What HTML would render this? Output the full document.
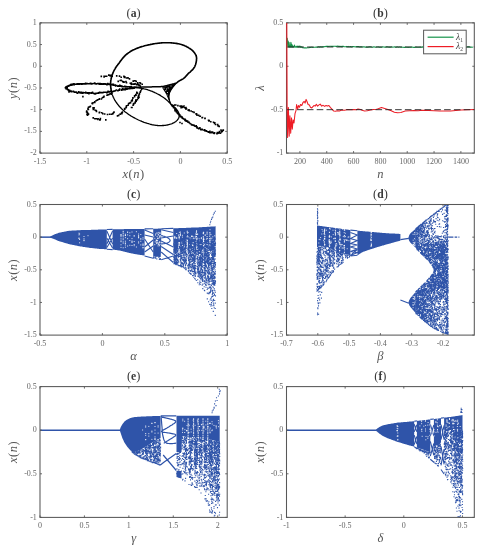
<!DOCTYPE html>
<html><head><meta charset="utf-8"><title>figure</title>
<style>
html,body{margin:0;padding:0;background:#fff}
svg{display:block}
.t{font-family:"Liberation Serif", serif;font-size:8px;fill:#666}
.ti{font-family:"Liberation Serif", serif;font-size:12.4px;fill:#383838}
.xl{font-family:"Liberation Serif", serif;font-size:12.5px;fill:#555}
.sp{letter-spacing:.5px}
.lg{font-family:"Liberation Serif", serif;font-size:9.5px;fill:#444}
.i{font-style:italic}
.b{font-weight:bold;font-size:11.6px}
</style></head><body>
<svg width="487" height="550" viewBox="0 0 487 550">
<rect width="487" height="550" fill="#fff"/>
<rect x="40.00" y="22.85" width="187.20" height="130.25" fill="none" stroke="#585858" stroke-width="1.05"/>
<text x="40.00" y="163.90" text-anchor="middle" class="t">-1.5</text>
<text x="86.80" y="163.90" text-anchor="middle" class="t">-1</text>
<text x="133.60" y="163.90" text-anchor="middle" class="t">-0.5</text>
<text x="180.40" y="163.90" text-anchor="middle" class="t">0</text>
<text x="227.20" y="163.90" text-anchor="middle" class="t">0.5</text>
<text x="36.80" y="24.95" text-anchor="end" class="t">1</text>
<text x="36.80" y="46.66" text-anchor="end" class="t">0.5</text>
<text x="36.80" y="68.37" text-anchor="end" class="t">0</text>
<text x="36.80" y="90.07" text-anchor="end" class="t">-0.5</text>
<text x="36.80" y="111.78" text-anchor="end" class="t">-1</text>
<text x="36.80" y="133.49" text-anchor="end" class="t">-1.5</text>
<text x="36.80" y="155.20" text-anchor="end" class="t">-2</text>
<path d="M40.00 153.10v-2.0M40.00 22.85v2.0M86.80 153.10v-2.0M86.80 22.85v2.0M133.60 153.10v-2.0M133.60 22.85v2.0M180.40 153.10v-2.0M180.40 22.85v2.0M227.20 153.10v-2.0M227.20 22.85v2.0M40.00 22.85h2.0M227.20 22.85h-2.0M40.00 44.56h2.0M227.20 44.56h-2.0M40.00 66.27h2.0M227.20 66.27h-2.0M40.00 87.97h2.0M227.20 87.97h-2.0M40.00 109.68h2.0M227.20 109.68h-2.0M40.00 131.39h2.0M227.20 131.39h-2.0M40.00 153.10h2.0M227.20 153.10h-2.0" stroke="#585858" stroke-width="0.9" fill="none"/>
<text x="133.60" y="16.55" text-anchor="middle" class="ti">(<tspan class="b">a</tspan>)</text>
<text x="133.60" y="177.60" text-anchor="middle" class="xl"><tspan class="sp"><tspan class="i">x</tspan>(<tspan class="i">n</tspan>)</tspan></text>
<text transform="translate(17.30 87.97) rotate(-90)" text-anchor="middle" class="xl"><tspan class="sp"><tspan class="i">y</tspan>(<tspan class="i">n</tspan>)</tspan></text>
<path d="M176.7 82.8 L177.3 82.3 L177.9 81.8 L178.5 81.4 L179.1 81.0 L179.8 80.6 L180.4 80.3 L181.1 79.9 L181.7 79.6 L182.3 79.2 L182.9 78.9 L183.4 78.6 L183.9 78.2 L184.3 77.8 L184.7 77.5 L185.1 77.2 L185.4 76.9 L185.6 76.6 L185.9 76.2 L186.2 75.9 L186.5 75.6 L186.7 75.3 L187.1 74.9 L187.4 74.5 L187.8 74.1 L188.2 73.7 L188.7 73.2 L189.3 72.7 L189.8 72.3 L190.4 71.8 L190.9 71.2 L191.5 70.7 L192.1 70.2 L192.6 69.6 L193.1 69.1 L193.5 68.6 L193.9 68.0 L194.2 67.4 L194.6 66.9 L194.9 66.3 L195.1 65.6 L195.4 65.0 L195.6 64.4 L195.8 63.8 L195.9 63.2 L196.1 62.6 L196.2 62.0 L196.3 61.4 L196.4 60.8 L196.5 60.2 L196.5 59.7 L196.5 59.2 L196.6 58.7 L196.6 58.1 L196.5 57.6 L196.5 57.1 L196.4 56.6 L196.2 56.1 L196.1 55.6 L195.9 55.1 L195.6 54.6 L195.3 54.1 L195.0 53.6 L194.6 53.0 L194.2 52.5 L193.8 52.0 L193.3 51.4 L192.8 50.9 L192.3 50.4 L191.7 49.9 L191.1 49.4 L190.5 49.0 L189.8 48.5 L189.1 48.1 L188.4 47.6 L187.6 47.2 L186.8 46.8 L186.0 46.3 L185.2 46.0 L184.3 45.6 L183.4 45.2 L182.5 44.9 L181.5 44.5 L180.5 44.3 L179.5 44.0 L178.4 43.8 L177.3 43.6 L176.2 43.4 L175.0 43.2 L173.8 43.1 L172.6 43.0 L171.4 42.9 L170.1 42.8 L168.9 42.7 L167.6 42.7 L166.4 42.7 L165.2 42.7 L164.0 42.7 L162.8 42.8 L161.6 42.9 L160.4 43.0 L159.2 43.1 L158.0 43.2 L156.8 43.4 L155.6 43.5 L154.4 43.7 L153.2 43.9 L152.0 44.2 L150.8 44.4 L149.6 44.7 L148.4 44.9 L147.1 45.2 L145.8 45.5 L144.6 45.8 L143.3 46.2 L142.1 46.5 L140.9 46.9 L139.7 47.3 L138.6 47.7 L137.5 48.1 L136.4 48.5 L135.4 48.9 L134.4 49.4 L133.5 49.8 L132.6 50.3 L131.7 50.8 L130.8 51.3 L130.0 51.8 L129.2 52.4 L128.4 52.9 L127.6 53.5 L126.9 54.0 L126.2 54.6 L125.5 55.2 L124.9 55.8 L124.3 56.4 L123.7 57.1 L123.1 57.7 L122.6 58.4 L122.1 59.0 L121.5 59.7 L121.0 60.4 L120.5 61.1 L120.0 61.8 L119.5 62.5 L119.0 63.2 L118.4 63.9 L117.9 64.6 L117.4 65.3 L116.8 66.1 L116.3 66.8 L115.8 67.5 L115.3 68.3 L114.9 69.1 L114.4 69.9 L114.0 70.7 L113.6 71.5 L113.2 72.3 L112.9 73.2 L112.5 74.1 L112.2 75.0 L111.9 75.9 L111.6 76.9 L111.4 77.8 L111.1 78.8 L111.0 79.7 L110.8 80.7 L110.7 81.6 L110.6 82.6 L110.6 83.6 L110.6 84.6 L110.6 85.6 L110.7 86.6 L110.8 87.6 L110.9 88.7 L111.1 89.7 L111.3 90.7 L111.5 91.7 L111.7 92.7 L112.0 93.7 L112.3 94.6" fill="none" stroke="#000" stroke-width="1.65" stroke-linejoin="round"/>
<path d="M112.3 94.6 L112.6 95.5 L113.0 96.4 L113.3 97.3 L113.8 98.1 L114.2 99.0 L114.6 99.8 L115.1 100.6 L115.6 101.4 L116.1 102.2 L116.7 103.0 L117.2 103.7 L117.8 104.5 L118.4 105.2 L119.0 106.0 L119.6 106.7 L120.2 107.3 L120.9 108.0 L121.5 108.7 L122.2 109.3 L122.9 110.0 L123.7 110.6 L124.4 111.2 L125.2 111.9 L126.0 112.5 L126.8 113.1 L127.7 113.8 L128.6 114.4 L129.5 115.0 L130.5 115.6 L131.4 116.2 L132.4 116.8 L133.4 117.4 L134.4 117.9 L135.5 118.5 L136.5 119.0 L137.5 119.5 L138.5 120.0 L139.6 120.5 L140.7 120.9 L141.8 121.4 L142.9 121.8 L144.1 122.3 L145.2 122.7 L146.3 123.0 L147.4 123.4 L148.5 123.7 L149.5 124.0 L150.5 124.3 L151.5 124.5 L152.4 124.8 L153.3 124.9 L154.1 125.1 L155.0 125.2 L155.8 125.3 L156.7 125.4 L157.5 125.5 L158.3 125.6 L159.1 125.6 L160.0 125.6 L160.8 125.6 L161.7 125.6 L162.6 125.5 L163.5 125.5 L164.4 125.4 L165.3 125.3 L166.2 125.1 L167.0 125.0 L167.9 124.8 L168.7 124.6 L169.5 124.4 L170.3 124.2 L171.0 124.0 L171.7 123.8 L172.3 123.5 L172.9 123.2 L173.5 122.9 L174.1 122.6 L174.6 122.3 L175.1 122.0 L175.6 121.7 L176.0 121.3 L176.5 120.9 L176.8 120.6 L177.2 120.2 L177.5 119.8 L177.8 119.4 L178.1 119.0 L178.4 118.6 L178.6 118.2 L178.8 117.7 L179.0 117.3 L179.1 116.9 L179.2 116.4 L179.3 115.9 L179.3 115.5 L179.3 115.0 L179.2 114.5 L179.1 114.0 L178.9 113.5 L178.7 113.0 L178.5 112.5 L178.2 111.9 L177.9 111.4 L177.6 110.9 L177.3 110.4 L176.9 109.9 L176.6 109.4 L176.2 108.9 L175.8 108.5 L175.4 108.0 L174.9 107.6 L174.4 107.3 L173.9 106.9 L173.4 106.5 L172.9 106.2 L172.4 105.8 L172.0 105.4 L171.5 104.9 L171.1 104.5 L170.8 104.0 L170.5 103.5 L170.2 102.9 L170.0 102.3 L169.8 101.7 L169.6 101.1 L169.4 100.4 L169.3 99.8 L169.1 99.1 L169.0 98.5 L169.0 97.9 L168.9 97.3 L168.9 96.7 L168.9 96.1 L168.9 95.6 L169.0 95.1 L169.0 94.6 L169.1 94.1 L169.2 93.6 L169.4 93.1 L169.6 92.6 L169.8 92.1 L170.0 91.6 L170.3 91.1 L170.6 90.5 L171.0 89.9 L171.3 89.3 L171.8 88.6 L172.3 87.9 L172.8 87.2 L173.3 86.6 L173.9 85.9 L174.4 85.2 L175.0 84.5 L175.6 83.9 L176.1 83.3 L176.7 82.8" fill="none" stroke="#000" stroke-width="1.3" stroke-linejoin="round"/>
<path d="M176.5 83L169 85.2L162 87.4L165.5 93L168.5 99.5L170.8 104L168.9 96.7L170.6 90.5Z" fill="#000"/>
<path d="M176.7 82.8 L176.2 83.0 L175.5 83.2 L174.7 83.4 L173.8 83.7 L172.8 84.0 L171.8 84.3 L170.7 84.6 L169.8 84.8 L168.8 85.1 L168.0 85.3 L167.3 85.5 L166.6 85.7 L166.0 85.8 L165.4 86.0 L164.8 86.1 L164.2 86.2 L163.6 86.3 L162.9 86.4 L162.1 86.5 L161.3 86.6 L160.4 86.7 L159.4 86.7 L158.3 86.8 L157.2 86.8 L156.1 86.8 L154.9 86.8 L153.7 86.8 L152.5 86.8 L151.3 86.9 L150.0 86.9 L148.7 86.9 L147.2 87.0 L145.6 87.0 L144.0 87.1 L142.4 87.1 L140.8 87.2 L139.4 87.2 L138.1 87.2 L137.0 87.3 L136.2 87.3" fill="none" stroke="#000" stroke-width="1.5"/>
<path d="M136.0 87.6 L136.6 87.7 L137.4 87.8 L138.4 87.9 L139.4 88.1 L140.6 88.2 L141.7 88.4 L143.0 88.6 L144.2 88.9 L145.3 89.1 L146.4 89.4 L147.4 89.7 L148.5 90.1 L149.6 90.4 L150.6 90.8 L151.7 91.2 L152.7 91.7 L153.8 92.1 L154.8 92.6 L155.8 93.0 L156.7 93.5 L157.6 94.0 L158.5 94.4 L159.4 94.9 L160.3 95.4 L161.1 96.0 L161.9 96.5 L162.7 97.0 L163.5 97.5 L164.3 98.1 L165.0 98.6 L165.7 99.2 L166.4 99.8 L167.2 100.4 L167.9 101.1 L168.5 101.7 L169.1 102.3 L169.7 102.9 L170.2 103.4 L170.7 103.9 L171.0 104.2" fill="none" stroke="#000" stroke-width="1.3"/>
<path d="M65.4 87.7h0M66 88.7h0M66.1 86.9h0M66.4 87.2h0M66.6 88.3h0M66.6 87.1h0M67.1 88.9h0M67.2 87.1h0M67.2 86.7h0M67.3 86.4h0M67.5 89.4h0M68.2 86.1h0M68.3 89.9h0M68.6 90.5h0M68.6 85.9h0M68.8 85.7h0M69 91.9h0M69.4 85.7h0M69.5 85.3h0M69.5 90.6h0M69.6 90.3h0M70.2 91.4h0M70.7 84.6h0M71 85.3h0M71 91.1h0M71.6 84.3h0M71.7 91.6h0M72.1 85h0M72.7 84.3h0M73.2 84h0M73.2 84.6h0M73.4 91.4h0M73.5 91.5h0M73.9 91.8h0M74 83.8h0M74.2 84.7h0M74.6 92.2h0M74.6 92.2h0M74.7 84.2h0M75.2 84.2h0M75.7 84.3h0M76 92.1h0M76.3 92.2h0M76.6 84h0M77.2 93.1h0M77.3 84.1h0M77.6 83.8h0M77.7 83.9h0M78.4 92.6h0M78.7 91.7h0M78.7 84.1h0M79.1 92.8h0M79.4 83.7h0M79.5 84.1h0M80.4 92.2h0M80.5 83.9h0M80.7 92.9h0M81.2 92.2h0M81.2 83.7h0M81.7 92.6h0M81.9 84.2h0M82.1 83.8h0M82.3 93.1h0M82.8 83.9h0M82.9 96.6h0M83.1 92.5h0M83.2 83.8h0M83.4 92.9h0M84.1 84h0M84.1 92.8h0M84.3 83.9h0M85.2 84h0M85.4 84h0M85.6 83.3h0M85.7 92.3h0M85.8 84h0M85.8 93h0M86.1 83.8h0M86.6 111.9h0M86.7 111.1h0M87 114.4h0M87.1 83.5h0M87.2 114.4h0M87.3 112.4h0M87.4 92.8h0M87.5 93.1h0M87.6 115.2h0M87.7 83.8h0M87.8 113.4h0M88 109.3h0M88 108.5h0M88.4 109.5h0M88.5 114.1h0M88.5 107.3h0M88.6 92.9h0M88.6 93.2h0M88.9 93.8h0M89.2 107h0M89.2 83.8h0M89.5 92.9h0M90 83.7h0M90.1 93h0M90.1 106.8h0M90.4 106.2h0M90.4 83.3h0M91.2 93h0M91.4 93.1h0M91.4 83.5h0M91.5 84h0M91.5 83.5h0M91.7 92.9h0M92.1 103.3h0M92.2 83.7h0M92.3 83.7h0M92.5 92.3h0M92.5 103.8h0M92.5 92.7h0M93.1 107.9h0M93.1 102.8h0M93.2 117.8h0M93.3 109.5h0M93.3 118h0M93.4 93.3h0M93.6 109.3h0M93.7 83.5h0M93.9 83.5h0M94.1 107.9h0M94.3 93.6h0M94.7 101.7h0M94.8 102.5h0M94.8 83h0M94.9 118.8h0M95.1 93.9h0M95.2 83.7h0M95.2 110.3h0M95.5 83.7h0M95.7 93.8h0M96 93.2h0M96.1 100.7h0M96.2 84h0M96.2 110.6h0M96.3 118.8h0M96.4 93.3h0M96.5 111.4h0M96.9 83.8h0M97 100.2h0M97.4 93.3h0M97.9 83.5h0M97.9 99.7h0M97.9 119.4h0M98.1 118.7h0M98.1 83.5h0M98.1 93.1h0M98.7 83.6h0M98.9 92.9h0M99.3 99.2h0M99.3 112.6h0M99.4 84.3h0M99.4 98.9h0M99.6 92.4h0M99.6 112.3h0M99.8 119.7h0M99.8 119.9h0M99.9 84.1h0M100.1 83.6h0M100.2 119.6h0M100.3 92.7h0M100.4 118.6h0M100.4 92.5h0M100.9 84.1h0M100.9 92.6h0M101 84.2h0M101.1 83.9h0M101.3 76.4h0M101.4 99h0M101.6 83.8h0M101.7 112.7h0M102 92.5h0M102.2 84.2h0M102.4 97.7h0M102.5 92.8h0M102.8 113.6h0M102.9 84h0M103.1 92.5h0M103.4 97h0M103.5 83.8h0M103.6 97.3h0M103.8 83.9h0M103.8 92.3h0M103.9 84.2h0M104 96.4h0M104.1 76.3h0M104.1 76.9h0M104.7 114h0M105 83.9h0M105.4 92.3h0M105.7 76.3h0M105.8 84.1h0M105.8 119.9h0M105.9 92.2h0M106.1 84h0M106.7 92.3h0M106.7 76.2h0M106.8 92.6h0M106.9 84.7h0M106.9 84.3h0M107 95.3h0M107.4 92.5h0M107.5 114.5h0M107.6 95h0M107.8 83.5h0M107.8 84.4h0M108 91.9h0M108.1 91.2h0M108.2 94.8h0M108.5 84.1h0M108.6 91.9h0M108.8 75.1h0M108.9 84h0M109.1 94.5h0M109.4 91.9h0M109.6 114.3h0M109.9 84.1h0M110 75.6h0M110.1 93.8h0M110.2 91.5h0M110.3 84.8h0M110.4 75.4h0M111.1 75.4h0M111.1 84.6h0M111.3 94.1h0M111.3 84.6h0M111.3 76.5h0M111.4 114.2h0M111.4 90.9h0M111.6 91.7h0M111.6 93.3h0M111.8 84.8h0M112.2 76.2h0M112.5 84.9h0M112.6 91.8h0M112.6 84.4h0M112.7 113.9h0M112.9 84.9h0M113.4 84.2h0M113.4 112.9h0M113.7 91.2h0M113.8 85.2h0M114 112.1h0M114.3 91h0M114.5 91h0M114.9 85.3h0M115.2 85.1h0M115.5 90.8h0M115.6 86h0M116.3 90h0M116.3 85.5h0M116.6 85.5h0M116.7 75.9h0M117.5 115.9h0M117.7 86h0M117.9 86.1h0M117.9 90.6h0M118 90.8h0M118 90.5h0M118.2 81.4h0M118.7 115.4h0M118.8 86h0M119 85.9h0M119.1 90.1h0M119.1 86h0M119.2 89.9h0M119.5 90.1h0M119.5 86.3h0M119.5 76.1h0M119.5 86.2h0M119.7 89h0M119.8 85.4h0M120.2 80.5h0M120.2 114.1h0M120.6 85.9h0M121.1 80.2h0M121.2 77.3h0M121.3 86.1h0M121.6 89.8h0M121.6 113.1h0M121.6 86.4h0M121.7 90.1h0M121.8 113.8h0M122 89.6h0M122 112.9h0M122.3 86.4h0M122.4 86.6h0M122.4 112.1h0M122.4 81.3h0M122.6 88.7h0M123.1 81.9h0M123.4 89.2h0M123.5 86.7h0M123.6 89.5h0M123.7 89.7h0M123.7 82.2h0M123.9 76.4h0M124.3 82h0M124.4 77.5h0M124.4 89h0M124.4 86.8h0M124.6 108.6h0M124.8 86.3h0M124.8 76.9h0M124.8 109.1h0M125.3 86.8h0M125.3 89.7h0M125.5 89.1h0M125.7 86.8h0M125.8 88.6h0M125.9 86.5h0M126 81.6h0M126 107.6h0M126.2 88.8h0M126.3 107.1h0M126.4 86.7h0M126.4 78h0M126.5 105.9h0M126.5 82.8h0M127 89.1h0M127.2 86.7h0M127.3 88.7h0M127.5 87h0M127.7 86.7h0M128 77.9h0M128.1 105.2h0M128.3 86.7h0M128.5 88.8h0M128.6 103.6h0M129.2 86.8h0M129.5 78.9h0M129.6 88.6h0M129.6 103.1h0M129.6 87.1h0M129.7 87.8h0M129.7 88.8h0M130.3 83.3h0M130.6 102.6h0M130.9 86.9h0M131 83.7h0M131 88.4h0M131.3 86.6h0M131.4 83.1h0M131.5 107.5h0M131.5 84.3h0M131.5 101h0M131.6 100.9h0M131.8 87.5h0M132 107.5h0M132.3 99.9h0M132.3 100.8h0M132.3 87.4h0M132.4 87.5h0M132.5 88.4h0M132.6 87.5h0M132.7 88.3h0M132.9 97.9h0M132.9 98.3h0M133.1 105.2h0M133.1 105.2h0M133.2 84.1h0M133.2 81.1h0M133.3 81.2h0M133.3 84h0M133.5 103.6h0M133.5 104.5h0M133.7 87.3h0M133.8 103.8h0M134 88.2h0M134.4 87.2h0M134.4 88h0M134.5 80.8h0M134.5 87.1h0M134.6 96.8h0M134.6 95.8h0M134.7 84.1h0M135 80.8h0M135 87.1h0M135 87.3h0M135.1 102.9h0M135.1 83.8h0M135.3 102.5h0M135.4 101.7h0M135.7 94.6h0M135.8 100.1h0M135.9 87.4h0M135.9 87.5h0M136 95.3h0M136.1 87.2h0M136.2 81.4h0M136.2 101.1h0M136.7 84.6h0M136.7 84.2h0M136.8 92.3h0M136.9 93.4h0M137.4 99.8h0M137.4 93h0M137.5 84.7h0M137.8 82.9h0M138 97.6h0M138.1 98h0M138.2 84.5h0M138.3 98.3h0M138.4 96.1h0M138.7 97.4h0M138.9 95.1h0M139 85.5h0M139 97.1h0M139.5 93.9h0M139.8 85h0M139.9 82.7h0M140.1 92.3h0M140.3 92.1h0M140.4 86.3h0M140.5 83.2h0M140.9 90.7h0M141.6 89.1h0M141.7 89.2h0M142.2 84.2h0M171.6 104.8h0M172.2 105.2h0M172.3 105.5h0M172.4 106.3h0M172.7 105.4h0M173.1 105.7h0M173.3 106h0M173.4 106.9h0M173.5 107.2h0M173.6 107.6h0M173.6 105.9h0M174 107.8h0M174.8 105h0M174.9 109.3h0M175 110.7h0M175 109h0M175.2 105h0M175.4 109h0M175.5 110.5h0M175.8 105h0M176.2 111.7h0M176.2 111.8h0M176.6 110.8h0M177.1 112.3h0M177.4 113.2h0M177.9 105.6h0M178.2 113.9h0M179.2 114.6h0M179.3 114.5h0M179.3 115.7h0M179.9 115.1h0M180 122.5h0M180.1 106.1h0M180.6 106.2h0M180.6 116.8h0M180.6 116.2h0M181 116.5h0M181.1 107.6h0M181.5 117h0M181.8 106h0M182 123.5h0M182.1 117.1h0M182.3 118.3h0M182.4 107.5h0M182.5 117.8h0M183.4 106.9h0M183.5 118.9h0M184 106h0M184.8 120h0M184.8 107.8h0M185.1 119.4h0M185.5 120.1h0M185.5 120.7h0M185.6 120.2h0M185.8 109h0M186 107.5h0M186.3 108.9h0M186.4 121.2h0M186.5 108.9h0M186.8 120.9h0M187.4 121.3h0M187.7 122h0M187.8 121.4h0M188.2 110.3h0M188.7 122.4h0M189 109.9h0M189.1 122.4h0M189.3 110.8h0M190 123.5h0M190.1 123.5h0M191.1 111h0M191.3 124.4h0M191.9 124.9h0M192.6 111.7h0M193 125h0M193.3 125.1h0M194 125.4h0M194.1 112.4h0M194.2 125.5h0M195 126.2h0M196.1 113.9h0M196.2 125.8h0M196.6 126.9h0M196.6 113.9h0M196.6 114.3h0M196.9 126.8h0M197 115.1h0M197.1 127.9h0M198.3 128.3h0M198.7 128.6h0M198.7 115.4h0M199.2 128.5h0M199.9 127.9h0M200 116.3h0M200.3 116.3h0M200.8 129.4h0M201.1 129.7h0M202.1 117.7h0M202.1 129.4h0M202.2 129.7h0M202.5 117.5h0M204 130.1h0M204.3 130.2h0M204.7 129.8h0M204.8 130.6h0M204.9 118.4h0M205.1 118.4h0M206 130.9h0M206.3 130.7h0M206.7 131.3h0M207.7 131.7h0M208.4 131.8h0M208.5 120.3h0M208.8 132.1h0M208.9 120.6h0M209 121h0M209.3 120.6h0M209.9 131.4h0M209.9 132.6h0M210.4 132.6h0M210.8 121.8h0M211.7 132.1h0M212.1 132.4h0M212.1 132.8h0M212.6 132h0M213.5 122.3h0M213.8 133h0M214 133.1h0M214.3 133.5h0M214.5 123.4h0M214.6 132.9h0M214.8 122.7h0M215.6 124.5h0M216.9 133.6h0M217.4 133.4h0M217.4 132.5h0M217.5 133h0M217.7 124.6h0M217.9 133.2h0M218.1 125.9h0M218.9 132.5h0M219.2 126.4h0M219.4 132.9h0M219.5 131.5h0M220.5 133.2h0M221 130h0M221.5 131.6h0M221.6 132h0M222 131h0M222.4 131.3h0M223 130.2h0M223.2 130.3h0M223.3 130.1h0" fill="none" stroke="#000" stroke-width="1.60" stroke-linecap="square"/>
<path d="M164 88.2h0M165.8 90.6h0M166.5 89h0M167 95h0M167.5 92.5h0M168.2 88h0M171 86h0" fill="none" stroke="#fff" stroke-width="0.80" stroke-linecap="square"/>
<rect x="286.50" y="22.85" width="187.80" height="130.25" fill="none" stroke="#585858" stroke-width="1.05"/>
<text x="299.91" y="163.90" text-anchor="middle" class="t">200</text>
<text x="326.74" y="163.90" text-anchor="middle" class="t">400</text>
<text x="353.57" y="163.90" text-anchor="middle" class="t">600</text>
<text x="380.40" y="163.90" text-anchor="middle" class="t">800</text>
<text x="407.23" y="163.90" text-anchor="middle" class="t">1000</text>
<text x="434.06" y="163.90" text-anchor="middle" class="t">1200</text>
<text x="460.89" y="163.90" text-anchor="middle" class="t">1400</text>
<text x="283.30" y="24.95" text-anchor="end" class="t">0.5</text>
<text x="283.30" y="68.37" text-anchor="end" class="t">0</text>
<text x="283.30" y="111.78" text-anchor="end" class="t">-0.5</text>
<text x="283.30" y="155.20" text-anchor="end" class="t">-1</text>
<path d="M299.91 153.10v-2.0M299.91 22.85v2.0M326.74 153.10v-2.0M326.74 22.85v2.0M353.57 153.10v-2.0M353.57 22.85v2.0M380.40 153.10v-2.0M380.40 22.85v2.0M407.23 153.10v-2.0M407.23 22.85v2.0M434.06 153.10v-2.0M434.06 22.85v2.0M460.89 153.10v-2.0M460.89 22.85v2.0M286.50 22.85h2.0M474.30 22.85h-2.0M286.50 66.27h2.0M474.30 66.27h-2.0M286.50 109.68h2.0M474.30 109.68h-2.0M286.50 153.10h2.0M474.30 153.10h-2.0" stroke="#585858" stroke-width="0.9" fill="none"/>
<text x="380.40" y="16.55" text-anchor="middle" class="ti">(<tspan class="b">b</tspan>)</text>
<text x="380.40" y="177.60" text-anchor="middle" class="xl"><tspan class="i">n</tspan></text>
<text transform="translate(264.00 87.97) rotate(-90)" text-anchor="middle" class="xl"><tspan class="i">λ</tspan></text>
<path d="M287.1 37.9 L287.3 38.8 L287.8 47.2 L288.2 41.0 L288.6 47.0 L289.1 42.6 L289.5 47.2 L290.0 45.3 L290.4 47.2 L290.9 42.3 L291.3 47.1 L291.8 44.2 L292.2 47.1 L292.7 45.7 L293.1 47.3 L293.6 46.9 L294.0 47.0 L294.5 45.1 L294.9 47.1 L295.4 46.8 L295.8 47.2 L296.3 46.2 L296.7 47.2 L297.2 46.2 L297.6 47.1 L298.1 46.1 L298.5 47.1 L299.0 46.8 L299.4 47.0 L299.9 45.9 L300.3 47.2 L300.8 46.9 L301.2 47.2 L301.7 46.8 L302.1 47.0 L302.5 47.8 L303.3 47.7 L304.1 47.9 L304.9 47.9 L305.7 47.8 L306.5 48.0 L307.3 47.7 L308.1 47.8 L308.9 47.8 L309.7 47.4 L310.5 47.5 L311.3 47.2 L312.1 47.3 L312.9 47.5 L313.7 47.3 L314.5 47.3 L315.3 47.3 L316.1 46.9 L316.9 47.3 L317.7 47.1 L318.5 46.8 L319.3 47.1 L320.1 46.9 L320.9 46.7 L321.7 47.1 L322.5 46.8 L323.3 46.9 L324.1 46.5 L324.9 46.8 L325.7 46.4 L326.5 46.4 L327.3 46.4 L328.1 46.2 L328.9 46.5 L329.7 46.2 L330.5 46.2 L331.3 46.4 L332.1 46.2 L332.9 46.4 L333.7 46.2 L334.5 46.3 L335.3 46.2 L336.1 46.4 L336.9 46.4 L337.7 46.1 L338.5 46.4 L339.3 46.2 L340.1 46.5 L340.9 46.4 L341.7 46.6 L342.5 46.2 L343.3 46.4 L344.1 46.6 L344.9 46.7 L345.7 46.7 L346.5 46.4 L347.3 46.7 L348.1 46.4 L348.9 46.7 L349.7 46.8 L350.5 46.5 L351.3 46.9 L352.1 46.8 L352.9 46.6 L353.7 46.6 L354.5 46.7 L355.3 46.9 L356.1 46.8 L356.9 46.6 L357.7 46.6 L358.5 46.6 L359.3 47.0 L360.1 46.7 L360.9 46.9 L361.7 46.8 L362.5 47.0 L363.3 46.9 L364.1 46.8 L364.9 47.1 L365.7 47.0 L366.5 47.1 L367.3 47.1 L368.1 47.2 L368.9 46.8 L369.7 46.9 L370.5 46.8 L371.3 47.0 L372.1 47.2 L372.9 47.2 L373.7 46.8 L374.5 46.9 L375.3 47.2 L376.1 47.1 L376.9 47.0 L377.7 47.0 L378.5 46.9 L379.3 47.2 L380.1 47.0 L380.9 47.2 L381.7 47.1 L382.5 46.9 L383.3 47.0 L384.1 46.9 L384.9 47.3 L385.7 47.1 L386.5 46.9 L387.3 46.9 L388.1 47.0 L388.9 47.1 L389.7 47.1 L390.5 47.1 L391.3 47.0 L392.1 46.9 L392.9 47.2 L393.7 47.0 L394.5 46.9 L395.3 47.1 L396.1 47.4 L396.9 46.9 L397.7 47.0 L398.5 47.2 L399.3 47.0 L400.1 47.0 L400.9 47.2 L401.7 47.0 L402.5 47.2 L403.3 47.2 L404.1 47.4 L404.9 47.4 L405.7 47.0 L406.5 47.2 L407.3 47.3 L408.1 47.4 L408.9 47.3 L409.7 47.2 L410.5 47.2 L411.3 47.1 L412.1 47.1 L412.9 47.3 L413.7 47.4 L414.5 47.4 L415.3 47.3 L416.1 47.1 L416.9 47.3 L417.7 47.3 L418.5 47.2 L419.3 47.2 L420.1 47.1 L420.9 47.2 L421.7 47.1 L422.5 46.9 L423.3 47.1 L424.1 47.0 L424.9 47.4 L425.7 47.1 L426.5 47.1 L427.3 47.0 L428.1 47.0 L428.9 47.0 L429.7 46.9 L430.5 46.9 L431.3 47.3 L432.1 47.1 L432.9 47.1 L433.7 47.1 L434.5 47.0 L435.3 46.9 L436.1 46.9 L436.9 47.0 L437.7 47.0 L438.5 47.2 L439.3 47.1 L440.1 47.3 L440.9 47.0 L441.7 47.3 L442.5 47.1 L443.3 46.9 L444.1 46.9 L444.9 47.1 L445.7 47.3 L446.5 47.0 L447.3 47.2 L448.1 47.0 L448.9 47.2 L449.7 46.8 L450.5 47.1 L451.3 47.3 L452.1 46.9 L452.9 46.9 L453.7 46.8 L454.5 46.9 L455.3 46.9 L456.1 47.1 L456.9 46.9 L457.7 47.0 L458.5 46.9 L459.3 47.1 L460.1 47.2 L460.9 47.1 L461.7 46.9 L462.5 47.1 L463.3 47.3 L464.1 47.1 L464.9 46.8 L465.7 47.2 L466.5 47.2 L467.3 46.9 L468.1 46.8 L468.9 46.9 L469.7 47.0 L470.5 47.2 L471.3 47.1 L472.1 47.2 L472.9 46.9" fill="none" stroke="#16934a" stroke-width="1.1" stroke-linejoin="round"/>
<path d="M287.5 46.99H474.3" stroke="#222" stroke-width="0.9" stroke-dasharray="6.6 3.2" fill="none"/>
<path d="M286.8 22.9 L287.1 105.5 L287.6 137.4 L288.4 107.6 L289.2 136.3 L289.9 115.8 L290.7 133.3 L291.5 117.9 L292.3 129.1 L293.1 119.9 L294.0 123.0 L295.0 113.7 L296.0 110.7 L296.6 104.5 L297.7 109.2 L298.5 105.5 L299.5 107.2 L300.5 104.5 L301.8 105.5 L303.0 102.5 L304.2 101.4 L305.1 103.1 L306.1 99.4 L307.1 101.8 L308.1 104.5 L309.4 105.1 L310.4 107.2 L311.8 108.0 L312.9 106.6 L314.1 105.5 L315.3 106.1 L316.3 104.3 L317.6 106.1 L319.0 104.9 L320.2 104.1 L321.7 106.1 L323.1 105.3 L324.6 106.4 L326.0 105.5 L327.4 106.1 L328.9 105.5 L330.5 107.6 L332.4 109.6 L333.8 111.1 L335.4 111.3 L337.5 110.7 L339.5 110.9 L341.6 110.1 L344.7 110.3 L347.8 109.6 L350.8 109.8 L353.9 109.6 L356.4 109.8 L358.0 109.0 L360.5 109.6 L362.1 110.3 L364.6 110.9 L367.3 110.7 L370.3 110.1 L373.4 109.4 L376.5 109.2 L378.2 108.7 L381.5 107.6 L384.7 108.5 L387.9 109.4 L391.2 110.7 L394.4 112.2 L397.6 112.8 L400.9 112.4 L405.2 111.1 L409.5 110.7 L413.8 110.4 L418.1 110.7 L422.4 110.2 L428.9 110.4 L434.3 110.7 L439.7 111.1 L445.1 110.9 L450.5 111.1 L455.9 110.4 L461.2 110.0 L467.7 109.8 L474.2 109.6" fill="none" stroke="#ee1c25" stroke-width="1.05" stroke-linejoin="round"/>
<path d="M287.3 109.68H474.3" stroke="#222" stroke-width="0.9" stroke-dasharray="6.6 3.2" fill="none"/>
<rect x="423.6" y="30.2" width="42.6" height="23.6" fill="#fff" stroke="#585858" stroke-width="1"/>
<path d="M427.6 37.2H453.6" stroke="#16934a" stroke-width="1.2"/>
<path d="M427.6 46.6H453.6" stroke="#ee1c25" stroke-width="1.2"/>
<text x="456" y="40" class="lg"><tspan class="i">λ</tspan><tspan dy="1.6" font-size="5.5">1</tspan></text>
<text x="456" y="49.4" class="lg"><tspan class="i">λ</tspan><tspan dy="1.6" font-size="5.5">2</tspan></text>
<path d="M40.0 237.15H51" stroke="#2f54a9" stroke-width="1.5"/>
<path d="M50.3 236.6 L50.8 236.3 L51.3 236.0 L51.8 235.8 L52.3 235.5 L52.8 235.2 L53.3 235.0 L53.8 234.7 L54.3 234.5 L54.8 234.3 L55.3 234.1 L55.8 233.9 L56.3 233.7 L56.8 233.5 L57.3 233.4 L57.8 233.2 L58.3 233.0 L58.8 232.8 L59.3 232.7 L59.8 232.6 L60.3 232.5 L60.8 232.4 L61.3 232.3 L61.8 232.2 L62.3 232.1 L62.8 232.0 L63.3 231.9 L63.8 231.8 L64.3 231.7 L64.8 231.6 L65.3 231.5 L65.8 231.4 L66.3 231.3 L66.8 231.2 L67.3 231.1 L67.8 231.0 L68.3 230.9 L68.8 230.8 L69.3 230.8 L69.8 230.7 L70.3 230.7 L70.8 230.7 L71.3 230.7 L71.8 230.6 L72.3 230.6 L72.8 230.6 L73.3 230.5 L73.8 230.5 L74.3 230.5 L74.8 230.4 L75.3 230.4 L75.8 230.4 L76.3 230.4 L76.8 230.3 L77.3 230.3 L77.8 230.3 L78.3 230.2 L78.8 230.2 L79.3 230.2 L79.8 230.2 L80.3 230.2 L80.8 230.1 L81.3 230.1 L81.8 230.1 L82.3 230.1 L82.8 230.1 L83.3 230.1 L83.8 230.1 L84.3 230.0 L84.8 230.0 L85.3 230.0 L85.8 230.0 L86.3 230.0 L86.8 230.0 L87.3 230.0 L87.8 229.9 L88.3 229.9 L88.8 229.9 L89.3 229.9 L89.8 229.9 L90.3 229.9 L90.8 229.9 L91.3 229.8 L91.8 229.8 L92.3 229.8 L92.8 229.8 L93.3 229.8 L93.8 229.8 L94.3 229.8 L94.8 229.7 L95.3 229.7 L95.8 229.7 L96.3 229.7 L96.8 229.7 L97.3 229.7 L97.8 229.7 L98.3 229.6 L98.8 229.6 L99.3 229.6 L99.8 229.6 L100.3 229.6 L100.8 229.6 L101.3 229.6 L101.8 229.6 L102.3 229.5 L102.8 229.5 L103.3 229.5 L103.8 229.5 L104.3 229.5 L104.8 229.5 L105.3 229.5 L105.8 229.5 L106.3 229.5 L106.8 229.5 L106.8 249.3 L106.3 249.3 L105.8 249.2 L105.3 249.2 L104.8 249.2 L104.3 249.2 L103.8 249.1 L103.3 249.1 L102.8 249.1 L102.3 249.1 L101.8 249.0 L101.3 249.0 L100.8 249.0 L100.3 248.9 L99.8 248.9 L99.3 248.9 L98.8 248.8 L98.3 248.8 L97.8 248.7 L97.3 248.7 L96.8 248.6 L96.3 248.5 L95.8 248.5 L95.3 248.4 L94.8 248.4 L94.3 248.3 L93.8 248.3 L93.3 248.2 L92.8 248.2 L92.3 248.1 L91.8 248.1 L91.3 248.0 L90.8 248.0 L90.3 247.9 L89.8 247.9 L89.3 247.8 L88.8 247.7 L88.3 247.6 L87.8 247.6 L87.3 247.5 L86.8 247.4 L86.3 247.3 L85.8 247.3 L85.3 247.2 L84.8 247.1 L84.3 247.0 L83.8 246.9 L83.3 246.9 L82.8 246.8 L82.3 246.7 L81.8 246.6 L81.3 246.6 L80.8 246.5 L80.3 246.4 L79.8 246.3 L79.3 246.2 L78.8 246.2 L78.3 246.1 L77.8 246.0 L77.3 245.8 L76.8 245.7 L76.3 245.6 L75.8 245.5 L75.3 245.4 L74.8 245.3 L74.3 245.2 L73.8 245.1 L73.3 245.0 L72.8 244.9 L72.3 244.8 L71.8 244.7 L71.3 244.6 L70.8 244.5 L70.3 244.4 L69.8 244.3 L69.3 244.2 L68.8 244.1 L68.3 243.9 L67.8 243.8 L67.3 243.6 L66.8 243.5 L66.3 243.3 L65.8 243.2 L65.3 243.0 L64.8 242.9 L64.3 242.7 L63.8 242.6 L63.3 242.4 L62.8 242.3 L62.3 242.1 L61.8 242.0 L61.3 241.8 L60.8 241.7 L60.3 241.5 L59.8 241.4 L59.3 241.2 L58.8 241.1 L58.3 240.9 L57.8 240.7 L57.3 240.5 L56.8 240.2 L56.3 240.0 L55.8 239.8 L55.3 239.6 L54.8 239.4 L54.3 239.1 L53.8 238.9 L53.3 238.8 L52.8 238.6 L52.3 238.4 L51.8 238.3 L51.3 238.1 L50.8 237.9 L50.3 237.8 ZM112.6 229.3 L113.1 229.3 L113.6 229.3 L114.1 229.3 L114.6 229.3 L115.1 229.3 L115.6 229.3 L116.1 229.3 L116.6 229.3 L117.1 229.3 L117.6 229.2 L118.1 229.2 L118.6 229.2 L119.1 229.2 L119.6 229.2 L120.1 229.2 L120.6 229.2 L121.1 229.2 L121.6 229.2 L122.1 229.2 L122.6 229.2 L123.1 229.2 L123.6 229.2 L124.1 229.1 L124.6 229.1 L125.1 229.1 L125.6 229.1 L126.1 229.1 L126.6 229.1 L127.1 229.1 L127.6 229.1 L128.1 229.1 L128.6 229.1 L129.1 229.1 L129.6 229.1 L130.1 229.1 L130.6 229.1 L131.1 229.1 L131.6 229.1 L132.1 229.0 L132.6 229.0 L133.1 229.0 L133.6 229.0 L134.1 229.0 L134.6 229.0 L135.1 229.0 L135.6 229.0 L136.1 229.0 L136.6 229.0 L137.1 229.0 L137.6 229.0 L138.1 229.0 L138.6 229.0 L139.1 229.0 L139.6 229.0 L140.1 228.9 L140.6 228.9 L141.1 228.9 L141.6 228.9 L142.1 228.9 L142.6 228.9 L143.1 228.9 L143.6 228.9 L144.1 228.9 L144.6 228.9 L144.6 255.5 L144.1 255.5 L143.6 255.4 L143.1 255.3 L142.6 255.2 L142.1 255.2 L141.6 255.1 L141.1 255.0 L140.6 255.0 L140.1 254.9 L139.6 254.8 L139.1 254.8 L138.6 254.7 L138.1 254.6 L137.6 254.5 L137.1 254.4 L136.6 254.3 L136.1 254.2 L135.6 254.2 L135.1 254.1 L134.6 254.0 L134.1 253.9 L133.6 253.8 L133.1 253.7 L132.6 253.6 L132.1 253.5 L131.6 253.4 L131.1 253.3 L130.6 253.2 L130.1 253.1 L129.6 253.0 L129.1 252.9 L128.6 252.7 L128.1 252.6 L127.6 252.5 L127.1 252.4 L126.6 252.2 L126.1 252.1 L125.6 252.0 L125.1 251.9 L124.6 251.7 L124.1 251.6 L123.6 251.5 L123.1 251.4 L122.6 251.2 L122.1 251.1 L121.6 251.0 L121.1 250.9 L120.6 250.7 L120.1 250.6 L119.6 250.5 L119.1 250.5 L118.6 250.4 L118.1 250.3 L117.6 250.2 L117.1 250.2 L116.6 250.1 L116.1 250.0 L115.6 250.0 L115.1 249.9 L114.6 249.8 L114.1 249.8 L113.6 249.7 L113.1 249.6 L112.6 249.6 ZM153.2 228.7 L153.7 228.7 L154.2 228.7 L154.7 228.7 L155.2 228.7 L155.7 228.7 L156.2 228.7 L156.7 228.7 L157.2 228.7 L157.7 228.7 L158.2 228.6 L158.7 228.6 L159.2 228.6 L159.7 228.6 L160.2 228.6 L160.7 228.6 L161.2 228.6 L161.2 246.6 L160.7 257.0 L160.2 257.0 L159.7 256.9 L159.2 256.9 L158.7 256.9 L158.2 256.8 L157.7 256.8 L157.2 256.8 L156.7 256.7 L156.2 256.7 L155.7 256.7 L155.2 256.6 L154.7 256.6 L154.2 256.6 L153.7 256.5 L153.2 256.5 ZM173.3 228.3 L173.8 228.3 L174.3 228.3 L174.8 228.3 L175.3 228.3 L175.8 228.3 L176.3 228.2 L176.8 228.2 L177.3 228.2 L177.8 228.2 L178.3 228.2 L178.8 228.1 L179.3 228.1 L179.8 228.1 L180.4 228.1 L180.9 228.1 L181.4 228.0 L181.9 228.0 L182.4 228.0 L182.9 228.0 L183.4 228.0 L183.9 227.9 L184.4 227.9 L184.9 227.9 L185.4 227.9 L185.9 227.9 L186.4 227.8 L186.9 227.8 L187.4 227.8 L187.9 227.8 L188.4 227.8 L188.9 227.7 L189.4 227.7 L189.9 227.7 L190.4 227.7 L190.9 227.7 L191.4 227.6 L191.9 227.6 L192.4 227.6 L192.9 227.6 L193.4 227.6 L193.9 227.5 L194.4 227.5 L195.0 227.5 L195.5 227.5 L196.0 227.5 L196.5 227.4 L197.0 227.4 L197.5 227.4 L198.0 227.4 L198.5 227.4 L199.0 227.3 L199.5 227.3 L200.0 227.3 L200.5 227.3 L201.0 227.2 L201.5 227.2 L202.0 227.2 L202.5 227.1 L203.0 227.1 L203.5 227.1 L204.0 227.0 L204.5 227.0 L205.0 227.0 L205.5 226.9 L206.0 226.9 L206.5 226.9 L207.0 226.8 L207.5 226.8 L208.0 226.8 L208.6 226.8 L209.1 226.7 L209.6 226.7 L210.1 226.7 L210.6 226.6 L211.1 226.6 L211.6 226.6 L212.1 226.5 L212.6 226.5 L213.1 226.5 L213.6 226.4 L214.1 226.4 L214.6 226.4 L215.1 226.3 L215.6 226.3 L215.6 238.0 L215.1 238.0 L214.6 238.0 L214.1 238.0 L213.6 238.0 L213.1 238.0 L212.6 238.0 L212.1 238.0 L211.6 238.0 L211.1 238.0 L210.6 238.0 L210.1 238.0 L209.6 238.0 L209.1 238.0 L208.6 238.0 L208.0 238.0 L207.5 238.0 L207.0 238.0 L206.5 238.0 L206.0 238.0 L205.5 238.0 L205.0 238.0 L204.5 238.0 L204.0 238.1 L203.5 238.1 L203.0 238.1 L202.5 238.1 L202.0 238.2 L201.5 238.2 L201.0 238.2 L200.5 238.3 L200.0 238.3 L199.5 238.3 L199.0 238.4 L198.5 238.4 L198.0 238.4 L197.5 238.4 L197.0 238.5 L196.5 238.5 L196.0 238.5 L195.5 238.6 L195.0 238.6 L194.4 238.6 L193.9 238.7 L193.4 238.7 L192.9 238.7 L192.4 238.7 L191.9 238.8 L191.4 238.8 L190.9 238.8 L190.4 238.9 L189.9 238.9 L189.4 238.9 L188.9 238.9 L188.4 239.0 L187.9 239.0 L187.4 239.2 L186.9 239.4 L186.4 239.6 L185.9 239.8 L185.4 240.0 L184.9 240.2 L184.4 240.4 L183.9 240.7 L183.4 240.9 L182.9 241.1 L182.4 241.3 L181.9 241.5 L181.4 241.7 L180.9 241.9 L180.4 242.1 L179.8 242.3 L179.3 242.5 L178.8 242.7 L178.3 242.9 L177.8 243.0 L177.3 243.1 L176.8 243.3 L176.3 243.4 L175.8 243.5 L175.3 243.6 L174.8 243.7 L174.3 243.8 L173.8 243.9 L173.3 244.0 Z" fill="#2f54a9"/>
<path d="M106.8 229.5 L112.6 229.4M106.8 249.3 L112.6 249.6M106.8 231.0 L112.6 244.0M106.8 244.0 L112.6 231.0M106.8 247.5 L112.6 238.0M106.8 238.0 L112.6 248.0M144.6 228.9 L153.2 228.8M144.6 230.0 L153.2 233.5M144.6 239.0 L153.2 252.0M144.6 252.0 L153.2 246.0M144.6 256.0 L153.2 258.3M144.6 247.0 L153.2 240.0M144.6 235.0 L153.2 237.0M161.2 228.7 L173.3 228.4M161.2 229.7 L173.3 232.5M161.2 235.5 L161.7 235.6 L162.3 235.8 L163.1 236.1 L164.0 236.3 L164.9 236.6 L165.8 236.9 L166.6 237.2 L167.2 237.5 L167.8 237.8 L168.3 238.2 L168.8 238.6 L169.3 239.0 L169.6 239.4 L169.9 239.8 L170.1 240.1 L170.2 240.5 L170.1 240.8 L169.9 241.2 L169.6 241.5 L169.3 241.9 L168.8 242.2 L168.3 242.5 L167.8 242.8 L167.2 243.0 L166.6 243.2 L165.8 243.4 L164.9 243.5 L164.0 243.7 L163.1 243.8 L162.3 243.9 L161.7 243.9 L161.2 244.0M161.2 238.0 L173.3 236.0M161.2 246.5 L173.3 254.5M161.2 259.8 L173.3 256.0M161.2 252.0 L173.3 262.5M161.2 241.0 L173.3 247.0" fill="none" stroke="#2f54a9" stroke-width="1.10"/>
<path d="M153.6 257.1h0M153.8 258.3h0M154.9 257.2h0M155.4 258.2h0M155.9 256.9h0M156.8 258.9h0M158.9 257.5h0M159.3 259.2h0M159.8 259.5h0M159.9 258.6h0M160.3 258.6h0M160.4 259.5h0M173.6 244h0M173.7 245.8h0M173.7 254.8h0M173.8 244.9h0M173.8 257.5h0M173.8 253h0M173.8 249.4h0M173.8 256.6h0M173.8 251.2h0M173.8 259.3h0M173.9 261.1h0M173.9 250.3h0M173.9 263.8h0M173.9 246.7h0M174 252.1h0M174 247.6h0M174.2 254.6h0M174.2 252.8h0M174.2 261.8h0M174.2 247.4h0M174.2 246.5h0M174.2 256.4h0M174.2 259.1h0M174.3 249.2h0M174.3 245.6h0M174.3 262.7h0M174.3 251h0M174.3 248.3h0M174.4 243.8h0M174.4 255.5h0M174.4 263.6h0M174.4 257.3h0M174.4 258.2h0M174.6 250.2h0M174.6 260.1h0M174.7 245.7h0M174.7 259.2h0M174.7 247.5h0M174.8 248.4h0M174.9 255.6h0M174.9 246.6h0M174.9 244.8h0M174.9 243.9h0M174.9 261.9h0M175 262.8h0M175 249.3h0M175 253.8h0M175.1 262.4h0M175.1 263.3h0M175.2 251.6h0M175.2 258.8h0M175.2 246.2h0M175.2 248.9h0M175.3 260.6h0M175.3 247.1h0M175.3 259.7h0M175.3 244.4h0M175.4 257h0M175.4 245.3h0M175.4 250.7h0M175.4 253.4h0M175.4 252.5h0M175.4 249.8h0M175.5 248h0M175.5 264.2h0M175.6 249h0M175.6 247.2h0M175.7 246.3h0M175.7 256.2h0M175.7 243.6h0M175.7 244.5h0M175.7 249.9h0M175.8 258h0M175.8 252.6h0M175.8 262.5h0M175.8 253.5h0M175.8 245.4h0M175.9 255.3h0M175.9 257.1h0M175.9 248.1h0M175.9 250.8h0M175.9 251.7h0M175.9 263.4h0M176 258.9h0M176 260.7h0M176.1 245.9h0M176.1 249.5h0M176.1 247.7h0M176.1 245h0M176.2 262.1h0M176.2 259.4h0M176.2 264.8h0M176.3 263h0M176.4 256.7h0M176.4 244.1h0M176.4 257.6h0M176.4 255.8h0M176.4 246.8h0M176.4 254.9h0M176.4 251.3h0M176.5 248.6h0M176.6 243.6h0M176.6 249.9h0M176.7 263.4h0M176.7 261.6h0M176.7 256.2h0M176.7 254.4h0M176.7 264.3h0M176.8 252.6h0M176.8 262.5h0M176.8 248.1h0M176.8 255.3h0M176.9 247.2h0M176.9 246.3h0M176.9 258.9h0M176.9 245.4h0M176.9 259.8h0M177 249h0M177 244.5h0M177.1 262.2h0M177.2 255.9h0M177.2 255h0M177.2 250.5h0M177.2 264h0M177.3 260.4h0M177.3 246h0M177.3 244.2h0M177.4 251.4h0M177.4 246.9h0M177.4 248.7h0M177.4 245.1h0M177.4 259.5h0M177.6 247.6h0M177.7 244h0M177.7 246.7h0M177.8 243.1h0M177.8 259.3h0M177.8 245.8h0M177.9 262.9h0M177.9 253h0M177.9 260.2h0M177.9 255.7h0M177.9 251.2h0M178 264.7h0M178 250.3h0M178 244.9h0M178.1 249.3h0M178.1 262.8h0M178.2 265.5h0M178.2 253.8h0M178.2 261.9h0M178.2 248.4h0M178.2 243.9h0M178.2 257.4h0M178.3 255.6h0M178.4 256.5h0M178.4 261h0M178.4 254.7h0M178.9 265.8h0M178.9 253.2h0M179.2 254.6h0M179.3 246.5h0M179.3 256.4h0M179.6 247.5h0M179.7 248.4h0M179.7 265.5h0M180.1 246.7h0M180.1 250.3h0M180.1 265.6h0M180.1 262h0M180.1 252.1h0M180.1 244.9h0M180.1 254.8h0M180.2 244h0M180.2 243.1h0M180.2 242.2h0M180.2 259.3h0M180.3 249.4h0M180.3 247.6h0M180.3 245.8h0M180.3 266.1h0M180.3 253.9h0M180.4 255.7h0M180.4 256.6h0M180.4 260.2h0M180.7 260.8h0M180.7 249.1h0M180.7 247.3h0M180.8 250.9h0M180.8 258.1h0M180.8 266.2h0M180.8 264.4h0M180.9 241.9h0M180.9 251.8h0M180.9 265.3h0M180.9 253.6h0M180.9 259h0M180.9 244.6h0M181 248.2h0M181 243.7h0M181.1 263.9h0M181.1 253.1h0M181.1 251.3h0M181.2 262.1h0M181.2 255.8h0M181.2 242.3h0M181.2 247.7h0M181.3 248.6h0M181.3 266.6h0M181.3 267h0M181.3 257.6h0M181.3 250.4h0M181.4 254h0M181.4 258.5h0M181.4 263h0M181.5 244.1h0M181.5 265.7h0M181.5 245.9h0M181.6 250.1h0M181.6 244.7h0M181.7 256.4h0M181.7 249.2h0M181.7 253.7h0M181.8 255.5h0M181.8 247.4h0M181.8 243.8h0M181.9 251.9h0M181.9 248.3h0M181.9 251h0M181.9 242h0M181.9 246.5h0M182 257.3h0M182.1 244.7h0M182.1 251.9h0M182.2 253.7h0M182.2 259.1h0M182.2 266.3h0M182.3 252.8h0M182.3 249.2h0M182.3 260h0M182.3 263.6h0M182.3 266.8h0M182.3 246.5h0M182.4 250.1h0M182.4 248.3h0M182.4 262.7h0M182.5 243.8h0M182.5 242h0M182.6 248.8h0M182.6 249.7h0M182.7 257.8h0M182.7 241.6h0M182.7 263.2h0M182.7 247h0M182.7 242.5h0M182.7 250.6h0M182.7 252.4h0M182.8 253.3h0M182.8 247.9h0M182.9 264.1h0M183 244.3h0M183.2 243.5h0M183.2 266.9h0M183.2 249.8h0M183.3 265.1h0M183.3 246.2h0M183.3 250.7h0M183.3 242.6h0M183.3 247.1h0M183.3 260.6h0M183.3 255.2h0M183.4 259.7h0M183.4 244.4h0M183.4 257.9h0M183.5 264.2h0M183.5 248.9h0M183.6 259.5h0M183.6 245.1h0M183.6 265.8h0M183.7 242.4h0M183.7 261.3h0M183.7 244.2h0M183.7 254.1h0M183.7 251.4h0M183.7 252.3h0M183.7 249.6h0M183.8 241.5h0M183.8 267.7h0M183.9 246h0M184 255.9h0M184 264h0M184 243.3h0M184 256.8h0M184.1 263.1h0M184.1 248.7h0M184.1 260.4h0M184.2 242.4h0M184.2 259.5h0M184.2 240.6h0M184.2 246h0M184.3 253.2h0M184.3 252.3h0M184.3 255h0M184.4 247.8h0M184.4 249.6h0M184.4 262.2h0M184.5 257.7h0M184.6 249.4h0M184.7 262.9h0M184.7 268.3h0M184.7 243.1h0M184.8 258.4h0M184.8 240.4h0M184.8 253h0M184.8 242.2h0M184.8 241.3h0M184.8 244h0M184.8 257.5h0M184.9 251.2h0M184.9 250.3h0M184.9 261.1h0M185 252.1h0M185 248.5h0M185 262h0M185.1 258.4h0M185.1 257.5h0M185.1 245.8h0M185.2 244h0M185.2 242.2h0M185.2 254.8h0M185.2 260.2h0M185.2 244.9h0M185.2 243.1h0M185.3 267.4h0M185.3 253h0M185.3 268.8h0M185.3 261.1h0M185.4 240.4h0M185.4 251.2h0M185.4 247.6h0M185.5 252.1h0M185.5 246.7h0M185.5 265.6h0M185.6 265.5h0M185.6 259.2h0M185.7 252h0M185.7 264.6h0M185.7 247.5h0M185.7 249.3h0M185.7 260.1h0M185.8 243.9h0M185.8 242.1h0M185.8 269.6h0M185.8 253.8h0M185.8 246.6h0M185.9 244.8h0M185.9 255.6h0M185.9 261.9h0M185.9 248.4h0M185.9 261h0M186 243h0M186 240.3h0M186 252.9h0M186 263.7h0M186 245.7h0M186.1 250.8h0M186.1 241.8h0M186.2 246.3h0M186.2 243.6h0M186.2 240h0M186.3 242.7h0M186.3 269.7h0M186.3 262.5h0M186.3 248.1h0M186.3 253.5h0M186.4 245.4h0M186.4 240.9h0M186.4 259.8h0M186.4 260.7h0M186.4 256.2h0M186.5 254.4h0M186.5 258h0M186.6 263.6h0M186.8 268.1h0M186.8 256.4h0M186.9 248.3h0M187.2 239.6h0M187.4 254.9h0M187.5 242.3h0M187.6 265.7h0M187.7 241.4h0M187.8 249.5h0M188.1 250.7h0M188.1 239.9h0M188.1 248h0M188.2 245.3h0M188.2 247.1h0M188.2 257.9h0M188.2 240.8h0M188.2 251.6h0M188.2 265.1h0M188.3 270.5h0M188.3 266.9h0M188.3 252.5h0M188.3 248.9h0M188.3 249.8h0M188.4 244.4h0M188.4 239h0M188.4 271.4h0M188.4 253.4h0M188.4 258.8h0M188.4 246.2h0M188.4 242.6h0M188.4 243.5h0M188.5 268.7h0M188.5 260.6h0M188.5 264.2h0M188.6 250.6h0M188.6 245.2h0M188.7 268.6h0M188.7 267.7h0M188.7 265h0M188.7 241.6h0M188.7 256.9h0M188.7 264.1h0M188.7 259.6h0M188.8 255.1h0M188.8 240.7h0M188.8 258.7h0M188.9 242.5h0M188.9 247.9h0M188.9 248.8h0M188.9 239.8h0M188.9 253.3h0M188.9 247h0M189 249.7h0M189 244.3h0M189 243.4h0M189.1 265.4h0M189.1 269h0M189.2 260.9h0M189.2 242.9h0M189.2 242h0M189.2 262.7h0M189.3 246.5h0M189.3 267.2h0M189.3 248.3h0M189.3 247.4h0M189.3 272.9h0M189.3 257.3h0M189.4 243.8h0M189.4 241.1h0M189.4 239.3h0M189.4 245.6h0M189.4 255.5h0M189.4 261.8h0M189.4 259.1h0M189.5 251.9h0M189.6 250.9h0M189.6 263.5h0M189.6 250h0M189.6 259.9h0M189.7 246.4h0M189.7 262.6h0M189.7 270.7h0M189.7 239.2h0M189.7 245.5h0M189.7 252.7h0M189.7 265.3h0M189.7 257.2h0M189.8 266.2h0M189.8 241h0M189.8 264.4h0M189.8 240.1h0M189.9 255.4h0M189.9 241.9h0M189.9 261.7h0M190 256.3h0M190 254.5h0M190.1 241.1h0M190.1 247.4h0M190.1 260h0M190.2 270.8h0M190.2 262.7h0M190.2 240.2h0M190.3 251.9h0M190.3 242.9h0M190.3 242h0M190.3 273.5h0M190.3 264.5h0M190.4 261.8h0M190.4 266.3h0M190.4 243.8h0M190.4 253.7h0M190.4 252.8h0M190.4 246.5h0M190.4 248.3h0M190.4 245.6h0M190.5 259.1h0M190.5 244.7h0M190.6 250.7h0M190.7 240.8h0M190.7 273.2h0M190.7 255.2h0M190.7 244.4h0M190.7 270.5h0M190.7 248h0M190.7 256.1h0M190.8 246.2h0M190.8 267.8h0M190.8 274.2h0M190.8 239.9h0M190.8 271.4h0M190.9 259.7h0M190.9 247.1h0M190.9 266h0M190.9 266.9h0M191 245.3h0M191 257.9h0M191 254.3h0M191.1 241h0M191.1 249.1h0M191.2 250h0M191.2 268h0M191.2 256.3h0M191.2 239.2h0M191.2 243.7h0M191.2 267.1h0M191.2 246.4h0M191.3 259.9h0M191.3 241.9h0M191.3 274.2h0M191.3 248.2h0M191.3 247.3h0M191.3 244.6h0M191.4 252.7h0M191.4 269.8h0M191.4 254.5h0M191.4 242.8h0M191.4 240.1h0M191.4 250.9h0M191.4 245.5h0M191.4 257.2h0M191.5 261.7h0M191.5 255.4h0M191.7 249.9h0M191.7 259.8h0M191.7 247.2h0M191.7 264.3h0M191.7 246.3h0M191.8 250.8h0M191.8 243.6h0M191.8 267h0M191.9 249h0M191.9 239.1h0M191.9 261.6h0M191.9 256.2h0M192 270.6h0M192.1 265.4h0M192.2 267.2h0M192.2 249.2h0M192.2 240.2h0M192.3 260.9h0M192.3 241.1h0M192.3 254.6h0M192.3 251h0M192.3 269h0M192.3 259.1h0M192.3 243.8h0M192.4 239.3h0M192.4 242h0M192.4 253.7h0M192.4 271.7h0M192.4 247.4h0M192.4 263.6h0M192.4 258.2h0M192.4 246.5h0M192.4 255.5h0M192.5 264.5h0M192.5 251.9h0M192.6 249.5h0M192.6 275.6h0M192.6 266.6h0M192.7 242.3h0M192.7 264.8h0M192.7 240.5h0M192.7 257.6h0M192.7 254.9h0M192.8 254h0M192.9 247.7h0M192.9 241.4h0M192.9 261.2h0M193 244.1h0M193.1 259.8h0M193.1 258.9h0M193.2 243.6h0M193.2 248.1h0M193.2 266.1h0M193.2 271.5h0M193.3 267h0M193.3 268.8h0M193.3 247.2h0M193.4 273.3h0M193.4 254.4h0M193.4 260.7h0M193.4 267.9h0M193.4 240h0M193.4 249h0M193.4 251.7h0M193.4 255.3h0M193.5 256.2h0M193.5 241.8h0M193.5 249.9h0M193.5 258h0M193.5 250.8h0M193.5 239.1h0M193.6 275.1h0M193.6 268.8h0M193.6 262.5h0M193.7 246.3h0M193.7 258.9h0M193.8 249h0M193.8 240.9h0M193.8 258h0M193.8 263.4h0M193.8 277.3h0M193.8 240h0M193.8 249.9h0M193.8 267.9h0M193.9 239.1h0M193.9 244.5h0M193.9 248.1h0M193.9 252.6h0M193.9 265.2h0M193.9 267h0M193.9 251.7h0M194 241.8h0M194 245.4h0M194 256.2h0M194.1 257.3h0M194.2 263.6h0M194.2 269.9h0M194.2 248.3h0M194.2 259.1h0M194.2 267.2h0M194.2 240.2h0M194.2 239.3h0M194.3 255.5h0M194.3 261.8h0M194.3 260h0M194.3 271.7h0M194.3 244.7h0M194.4 242.9h0M194.4 251.9h0M194.4 243.8h0M194.4 246.5h0M194.4 245.6h0M194.4 256.4h0M194.4 250.1h0M194.4 252.8h0M194.4 258.2h0M194.4 268.1h0M194.4 270.8h0M194.5 265.4h0M194.5 253.7h0M194.5 260.9h0M194.5 241.1h0M194.6 247.8h0M194.6 262.2h0M194.6 241.5h0M194.7 270.3h0M194.7 265.8h0M194.7 239.7h0M194.7 260.4h0M194.7 252.3h0M194.7 273h0M194.7 243.3h0M194.8 274.8h0M194.8 269.4h0M194.8 250.5h0M194.8 278.5h0M194.8 272.1h0M194.8 259.5h0M194.9 257.7h0M194.9 240.6h0M194.9 266.7h0M194.9 246.9h0M195 268.5h0M195 273.9h0M195 267.6h0M195 254.1h0M195.1 241.3h0M195.1 267.4h0M195.1 242.2h0M195.1 270.1h0M195.2 251.2h0M195.2 243.1h0M195.2 258.4h0M195.2 250.3h0M195.2 246.7h0M195.2 257.5h0M195.2 244.9h0M195.2 275.5h0M195.2 239.5h0M195.2 256.6h0M195.3 276.4h0M195.3 253h0M195.3 261.1h0M195.3 279.2h0M195.3 247.6h0M195.4 248.5h0M195.4 245.8h0M195.4 259.3h0M195.4 271.9h0M195.4 273.7h0M195.4 263.8h0M195.4 244h0M195.4 238.6h0M195.5 252.1h0M195.5 249.4h0M195.5 265.6h0M195.6 244.1h0M195.6 255.8h0M195.7 247.7h0M195.7 265.7h0M195.7 250.4h0M195.7 245.9h0M195.7 249.5h0M195.8 243.2h0M195.8 239.6h0M195.8 245h0M195.8 248.6h0M195.8 252.2h0M195.8 251.3h0M195.8 242.3h0M195.9 238.7h0M195.9 240.5h0M195.9 254.9h0M195.9 272.9h0M195.9 268.4h0M196 273.8h0M196 253.1h0M196.1 246.1h0M196.2 244.3h0M196.3 280.5h0M196.4 253.3h0M196.7 258.3h0M196.7 251.1h0M196.7 250.2h0M196.7 254.7h0M196.8 242.1h0M197 262.8h0M197 259.2h0M197.1 253.8h0M197.1 266.4h0M197.1 241.2h0M197.2 261h0M197.2 251.1h0M197.2 254.7h0M197.2 271.8h0M197.2 244.8h0M197.3 240.3h0M197.3 259.2h0M197.3 256.5h0M197.3 243h0M197.4 252h0M197.4 245.7h0M197.4 248.4h0M197.4 250.2h0M197.4 238.5h0M197.4 258.3h0M197.5 269.1h0M197.5 270h0M197.5 242.1h0M197.6 245.6h0M197.7 263.6h0M197.7 279.8h0M197.7 257.3h0M197.8 267.2h0M197.8 276.2h0M197.8 259.1h0M197.8 268.1h0M197.8 282.7h0M197.8 243.8h0M197.8 262.7h0M197.8 272.6h0M197.8 241.1h0M197.8 264.5h0M197.9 266.3h0M197.9 238.4h0M197.9 250.1h0M197.9 240.2h0M197.9 247.4h0M197.9 246.5h0M197.9 269.9h0M197.9 271.7h0M198 242h0M198 239.3h0M198 269h0M198.1 270.5h0M198.1 261.5h0M198.1 252.5h0M198.2 260.6h0M198.2 242.6h0M198.2 259.7h0M198.2 246.2h0M198.2 239.9h0M198.2 273.2h0M198.2 250.7h0M198.3 254.3h0M198.3 265.1h0M198.3 247.1h0M198.3 275h0M198.3 245.3h0M198.3 267.8h0M198.3 239h0M198.3 243.5h0M198.4 272.3h0M198.4 240.8h0M198.4 248h0M198.5 271.4h0M198.5 255.2h0M198.5 262.4h0M198.5 244.4h0M198.5 253.4h0M198.7 276.8h0M198.7 259.7h0M198.7 268.7h0M198.7 251.6h0M198.7 239h0M198.7 250.7h0M198.7 269.6h0M198.7 252.5h0M198.7 253.4h0M198.8 248.9h0M198.8 244.4h0M198.8 241.7h0M198.8 242.6h0M198.8 267.8h0M198.9 262.4h0M198.9 243.5h0M198.9 257h0M198.9 266h0M198.9 245.3h0M198.9 239.9h0M198.9 263.3h0M198.9 274.1h0M198.9 249.8h0M199 240.8h0M199 248h0M199.2 275.9h0M199.2 265.1h0M199.2 271.4h0M199.2 252.5h0M199.2 257.9h0M199.2 242.6h0M199.3 243.5h0M199.3 274.1h0M199.3 266h0M199.3 262.4h0M199.3 284.7h0M199.3 246.2h0M199.3 259.7h0M199.3 273.2h0M199.3 247.1h0M199.4 239h0M199.4 258.8h0M199.4 264.2h0M199.4 241.7h0M199.4 248h0M199.4 257h0M199.5 277.7h0M199.5 253.4h0M199.5 283.1h0M199.5 250.7h0M199.5 249.8h0M199.6 275.7h0M199.6 272.1h0M199.7 259.5h0M199.7 245.1h0M199.7 261.3h0M199.7 257.7h0M199.8 250.5h0M199.8 258.6h0M199.8 263.1h0M199.8 248.7h0M199.9 266.7h0M199.9 281.1h0M199.9 246.9h0M200.1 260.9h0M200.1 259.1h0M200.2 255.5h0M200.2 240.2h0M200.2 264.5h0M200.2 261.8h0M200.2 270.8h0M200.2 276.2h0M200.2 242.9h0M200.2 273.5h0M200.2 257.3h0M200.2 243.8h0M200.2 245.6h0M200.3 250.1h0M200.3 239.3h0M200.3 265.4h0M200.3 252.8h0M200.3 258.2h0M200.3 271.7h0M200.3 274.4h0M200.4 256.4h0M200.4 260h0M200.4 253.7h0M200.4 242h0M200.5 247.4h0M200.5 241.1h0M200.5 269.9h0M200.5 263.6h0M200.5 251h0M200.5 278.9h0M200.6 251.9h0M200.6 268.1h0M200.6 259.1h0M200.6 284.3h0M200.6 269.9h0M200.7 275.3h0M200.7 263.6h0M200.7 238.4h0M200.7 265.4h0M200.7 262.7h0M200.7 250.1h0M200.7 258.2h0M200.8 253.7h0M200.8 246.5h0M200.8 264.5h0M200.8 252.8h0M200.8 240.2h0M200.8 241.1h0M200.8 272.6h0M200.8 282.5h0M200.8 248.3h0M200.9 278h0M200.9 242h0M200.9 278.9h0M200.9 260.9h0M200.9 249.2h0M200.9 242.9h0M201 239.3h0M201 276.2h0M201.1 257.5h0M201.1 277.3h0M201.1 246.7h0M201.2 275.5h0M201.2 253h0M201.2 262h0M201.2 251.2h0M201.2 239.5h0M201.2 254.8h0M201.3 262.9h0M201.3 249.4h0M201.3 259.3h0M201.3 272.8h0M201.3 250.3h0M201.3 243.1h0M201.3 245.8h0M201.3 241.3h0M201.3 244h0M201.4 266.5h0M201.4 269.2h0M201.4 240.4h0M201.5 263.8h0M201.5 268.3h0M201.6 238.4h0M201.6 274.4h0M201.6 247.4h0M201.6 245.6h0M201.6 257.3h0M201.6 269h0M201.7 248.3h0M201.7 265.4h0M201.8 250.1h0M201.8 243.8h0M201.8 267.2h0M201.8 258.2h0M201.8 241.1h0M201.9 271.7h0M201.9 269.9h0M201.9 242.9h0M201.9 260.9h0M201.9 277.1h0M201.9 249.2h0M201.9 266.3h0M201.9 242h0M202 264.5h0M202 246.5h0M202 239.3h0M202 261.8h0M202 253.7h0M202 256.4h0M202 255.5h0M202.1 239.4h0M202.1 252h0M202.1 279.9h0M202.1 278.1h0M202.2 285.3h0M202.2 272.7h0M202.2 270.9h0M202.2 260.1h0M202.3 276.3h0M202.3 263.7h0M202.3 254.7h0M202.3 258.3h0M202.3 255.6h0M202.3 267.3h0M202.3 248.4h0M202.4 246.6h0M202.4 245.7h0M202.4 270h0M202.4 244.8h0M202.4 280.8h0M202.4 238.5h0M202.4 241.2h0M202.4 259.2h0M202.4 247.5h0M202.4 253.8h0M202.5 261.9h0M202.5 271.8h0M202.6 266.1h0M202.6 238.2h0M202.6 256.2h0M202.6 278.7h0M202.7 276.9h0M202.7 262.5h0M202.7 240h0M202.7 240.9h0M202.7 269.7h0M202.7 281.4h0M202.7 258.9h0M202.7 272.4h0M202.7 241.8h0M202.7 255.3h0M202.7 243.6h0M202.8 253.5h0M202.8 270.6h0M202.8 244.5h0M202.8 249h0M202.8 288.6h0M202.9 273.3h0M202.9 275.1h0M202.9 251.7h0M202.9 258h0M202.9 279.6h0M202.9 284.1h0M203 248.1h0M203 260.7h0M203 257.1h0M203.1 272.2h0M203.3 242.5h0M203.3 275.8h0M203.3 256.9h0M203.4 247h0M203.4 259.6h0M203.4 244.3h0M203.6 262.8h0M203.7 247.5h0M203.7 250.2h0M203.8 265.5h0M203.8 267.3h0M203.9 272.7h0M204.1 255.3h0M204.1 238.2h0M204.1 275.1h0M204.1 249h0M204.1 267.9h0M204.1 254.4h0M204.2 246.3h0M204.2 280.5h0M204.2 252.6h0M204.2 256.2h0M204.2 243.6h0M204.2 268.8h0M204.2 277.8h0M204.2 281.4h0M204.2 286.8h0M204.2 251.7h0M204.3 240.9h0M204.3 242.7h0M204.3 274.2h0M204.4 263.4h0M204.4 248.1h0M204.4 283.2h0M204.4 260.7h0M204.4 262.5h0M204.4 290.4h0M204.4 241.8h0M204.5 272.4h0M204.5 258.9h0M204.5 250.8h0M204.5 240h0M204.6 258.3h0M204.6 254.7h0M204.6 253.8h0M204.6 257.4h0M204.6 268.2h0M204.7 261.9h0M204.7 249.3h0M204.7 260.1h0M204.7 290.7h0M204.7 242.1h0M204.7 265.5h0M204.7 273.6h0M204.7 245.7h0M204.7 259.2h0M204.7 270.9h0M204.8 269.1h0M204.8 270h0M204.8 246.6h0M204.8 248.4h0M204.9 263.7h0M204.9 267.3h0M204.9 240.3h0M204.9 264.6h0M204.9 278.1h0M204.9 281.7h0M205 238.5h0M205 255.6h0M205 250.2h0M205 243h0M205.1 251.1h0M205.1 238.5h0M205.1 275.4h0M205.1 268.2h0M205.2 257.4h0M205.2 254.7h0M205.2 261.9h0M205.2 266.4h0M205.2 261h0M205.3 262.8h0M205.3 276.3h0M205.3 244.8h0M205.3 239.4h0M205.4 241.2h0M205.4 277.2h0M205.4 284.4h0M205.4 248.4h0M205.4 263.7h0M205.4 279h0M205.4 270.9h0M205.4 242.1h0M205.4 272.7h0M205.4 265.5h0M205.4 243h0M205.4 258.3h0M205.5 273.6h0M205.5 249.3h0M205.5 255.6h0M205.5 246.6h0M205.6 253h0M205.6 268.3h0M205.6 242.2h0M205.6 252.1h0M205.7 282.7h0M205.7 240.4h0M205.7 255.7h0M205.7 253.9h0M205.7 250.3h0M205.7 238.6h0M205.7 251.2h0M205.8 264.7h0M205.8 244h0M205.8 270.1h0M205.8 266.5h0M205.8 244.9h0M205.8 274.6h0M205.8 261.1h0M205.9 273.7h0M205.9 280.9h0M205.9 259.3h0M205.9 285.4h0M205.9 245.8h0M205.9 257.5h0M205.9 277.3h0M206 249.4h0M206 287.2h0M206.1 241.1h0M206.1 256.4h0M206.1 271.7h0M206.2 262.7h0M206.2 261.8h0M206.2 260.9h0M206.3 247.4h0M206.3 251.9h0M206.3 246.5h0M206.3 251h0M206.3 265.4h0M206.4 278.9h0M206.4 260h0M206.4 267.2h0M206.4 240.2h0M206.4 280.7h0M206.4 254.6h0M206.4 266.3h0M206.4 242.9h0M206.4 279.8h0M206.4 253.7h0M206.5 242h0M206.5 238.4h0M206.5 245.6h0M206.5 255.5h0M206.6 249h0M206.6 285h0M206.7 258h0M206.7 241.8h0M206.7 278.7h0M206.8 238.2h0M206.8 243.6h0M206.8 270.6h0M206.8 282.3h0M206.9 246.3h0M206.9 253.5h0M206.9 250.8h0M206.9 247.2h0M207.1 254.4h0M207.1 270.6h0M207.1 245.4h0M207.1 283.2h0M207.1 240.9h0M207.2 256.2h0M207.2 239.1h0M207.2 240h0M207.2 289.5h0M207.2 255.3h0M207.3 238.2h0M207.3 258h0M207.3 298.9h0M207.3 246.3h0M207.3 293.1h0M207.3 261.6h0M207.4 251.7h0M207.4 253.5h0M207.4 272.4h0M207.4 248.1h0M207.4 249.9h0M207.4 252.6h0M207.4 263.4h0M207.4 268.8h0M207.4 267.9h0M207.4 262.5h0M207.5 260.7h0M207.5 258.9h0M207.5 278.7h0M207.5 259.8h0M207.5 241.8h0M207.5 243.6h0M207.6 276.4h0M207.6 277.3h0M207.7 263.8h0M207.7 256.6h0M207.7 241.3h0M207.7 238.6h0M207.7 288.1h0M207.8 260.2h0M207.8 250.3h0M207.8 253h0M207.8 245.8h0M207.8 247.6h0M207.8 268.3h0M207.8 280.9h0M207.8 271.9h0M207.8 275.5h0M207.8 258.4h0M207.9 273.7h0M207.9 242.2h0M207.9 243.1h0M207.9 246.7h0M207.9 269.2h0M207.9 259.3h0M207.9 240.4h0M208 272.8h0M208.1 259.6h0M208.1 262.3h0M208.1 275.8h0M208.2 255.1h0M208.2 256.9h0M208.2 256h0M208.2 240.7h0M208.2 280.3h0M208.2 243.4h0M208.2 238.9h0M208.2 257.8h0M208.2 241.6h0M208.3 242.5h0M208.3 238h0M208.3 264.1h0M208.3 293.8h0M208.3 274h0M208.3 266.8h0M208.4 265h0M208.4 248.8h0M208.4 247.9h0M208.4 261.4h0M208.4 277.6h0M208.4 273.1h0M208.4 284.8h0M208.4 253.3h0M208.4 265.9h0M208.4 279.4h0M208.5 270.4h0M208.5 263.2h0M208.5 244.3h0M208.5 258.7h0M208.5 271.3h0M208.5 239.8h0M208.6 239.7h0M208.6 301.8h0M208.6 266.7h0M208.6 252.3h0M208.7 261.3h0M208.7 238.8h0M208.7 276.6h0M208.7 246h0M208.7 260.4h0M208.7 263.1h0M208.8 278.4h0M208.8 282.9h0M208.8 247.8h0M208.8 254.1h0M208.8 241.5h0M208.8 256.8h0M208.8 280.2h0M208.8 265.8h0M208.8 264h0M208.8 255h0M208.9 267.6h0M208.9 281.1h0M208.9 257.7h0M208.9 240.6h0M208.9 250.5h0M208.9 288.3h0M209 244.2h0M209 293.7h0M209 245.1h0M209.1 293.3h0M209.1 241.1h0M209.1 274.4h0M209.1 280.7h0M209.1 260.9h0M209.1 255.5h0M209.2 250.1h0M209.2 242.9h0M209.2 292.4h0M209.2 284.3h0M209.2 279.8h0M209.2 258.2h0M209.3 272.6h0M209.3 247.4h0M209.3 267.2h0M209.3 243.8h0M209.3 249.2h0M209.3 269h0M209.3 269.9h0M209.3 246.5h0M209.3 265.4h0M209.3 254.6h0M209.4 281.6h0M209.4 287h0M209.4 248.3h0M209.4 278.9h0M209.4 271.7h0M209.4 263.6h0M209.4 262.7h0M209.5 273.5h0M209.5 239.3h0M209.5 259.1h0M209.5 240.2h0M209.5 252.8h0M209.5 257.3h0M209.7 263.2h0M209.8 224.8h0M209.8 304.4h0M209.8 247.9h0M209.8 259.6h0M209.8 287.5h0M209.8 284.8h0M209.8 262.3h0M209.9 264.1h0M209.9 278.5h0M210.1 243.3h0M210.2 300h0M210.2 278.4h0M210.2 249.6h0M210.2 238.8h0M210.2 284.7h0M210.2 263.1h0M210.3 242.4h0M210.3 292.8h0M210.3 277.5h0M210.3 246h0M210.4 222.8h0M210.4 291.9h0M210.4 259.5h0M210.4 253.2h0M210.4 273h0M210.5 250.5h0M210.5 244.2h0M210.6 264.4h0M210.6 251.8h0M210.6 247.3h0M210.6 239.2h0M210.7 287.8h0M210.7 286.9h0M210.7 276.1h0M210.7 249.1h0M210.7 274.3h0M210.7 290.5h0M210.7 277h0M210.7 221.2h0M210.7 291.4h0M210.8 268h0M210.8 275.2h0M210.8 238.3h0M210.8 240.1h0M210.8 270.7h0M210.8 258.1h0M210.8 279.7h0M210.8 289.6h0M210.8 306h0M210.8 243.7h0M210.8 248.2h0M210.8 259h0M210.8 241.9h0M210.8 261.7h0M210.9 259.9h0M210.9 298.6h0M210.9 246.4h0M210.9 262.6h0M210.9 244.6h0M210.9 265.3h0M210.9 266.2h0M210.9 281.5h0M211 241h0M211 288.7h0M211 263.5h0M211.1 247.7h0M211.1 240.5h0M211.1 249.5h0M211.1 269.3h0M211.1 261.2h0M211.2 276.5h0M211.2 246.8h0M211.2 250.4h0M211.2 281h0M211.2 304.4h0M211.2 245.9h0M211.3 243.2h0M211.3 242.3h0M211.3 288.2h0M211.3 278.3h0M211.3 241.4h0M211.3 245h0M211.3 239.6h0M211.3 248.6h0M211.4 297.2h0M211.4 257.6h0M211.4 275.6h0M211.4 264.8h0M211.4 285.5h0M211.5 272.9h0M211.5 244.1h0M211.5 277.4h0M211.5 263h0M211.5 302.6h0M211.5 254.9h0M211.5 268.4h0M211.5 219.4h0M211.6 240h0M211.6 241.8h0M211.6 268.8h0M211.6 244.5h0M211.6 255.3h0M211.6 239.1h0M211.7 263.4h0M211.7 245.4h0M211.7 260.7h0M211.7 273.3h0M211.7 266.1h0M211.7 300.3h0M211.7 242.7h0M211.8 272.4h0M211.8 267.9h0M211.8 267h0M211.8 249h0M211.8 243.6h0M211.8 246.3h0M211.8 308.5h0M211.8 284.1h0M211.8 248.1h0M211.8 275.1h0M211.9 277.8h0M211.9 296.7h0M211.9 252.6h0M211.9 253.5h0M211.9 249.9h0M211.9 261.6h0M212 270.6h0M212 276.9h0M212 305.7h0M212.1 247.9h0M212.1 254.2h0M212.1 217.9h0M212.2 294.7h0M212.2 247h0M212.2 275.8h0M212.2 278.5h0M212.2 261.4h0M212.2 279.4h0M212.2 259.6h0M212.2 258.7h0M212.2 272.2h0M212.2 290.2h0M212.2 274h0M212.3 245.2h0M212.3 269.5h0M212.3 271.3h0M212.3 241.6h0M212.3 253.3h0M212.3 249.7h0M212.3 267.7h0M212.3 291.1h0M212.3 281.2h0M212.3 252.4h0M212.3 270.4h0M212.3 238.9h0M212.3 244.3h0M212.3 280.3h0M212.4 251.5h0M212.4 256h0M212.4 283h0M212.4 248.8h0M212.4 296.5h0M212.4 257.8h0M212.5 293.8h0M212.5 256.9h0M212.6 249h0M212.7 242.7h0M212.7 293.1h0M212.7 239.1h0M212.7 254.4h0M212.7 253.5h0M212.7 255.3h0M212.8 249.9h0M212.8 257.1h0M212.8 278.7h0M212.8 268.8h0M212.8 258.9h0M212.8 256.2h0M212.8 217h0M212.8 292.2h0M212.8 240.9h0M212.8 240h0M212.8 301.2h0M212.8 276.9h0M212.8 274.2h0M212.8 286.8h0M212.8 241.8h0M212.9 246.3h0M212.9 290.4h0M212.9 258h0M212.9 267.9h0M212.9 265.2h0M212.9 250.8h0M212.9 248.1h0M212.9 244.5h0M212.9 263.4h0M212.9 245.4h0M213 276h0M213 284.1h0M213.2 250h0M213.2 248.2h0M213.2 293.2h0M213.2 261.7h0M213.2 295.9h0M213.2 259.9h0M213.2 257.2h0M213.2 274.3h0M213.2 247.3h0M213.2 239.2h0M213.2 244.6h0M213.3 278.8h0M213.3 258.1h0M213.3 269.8h0M213.3 277.9h0M213.3 281.5h0M213.3 311.4h0M213.3 282.4h0M213.3 238.3h0M213.3 283.3h0M213.3 267.1h0M213.3 243.7h0M213.3 287.8h0M213.4 303.1h0M213.4 249.1h0M213.4 275.2h0M213.4 300.4h0M213.4 242.8h0M213.4 299.5h0M213.4 263.5h0M213.4 214.8h0M213.4 268h0M213.5 246.4h0M213.5 284.2h0M213.5 254.5h0M213.5 280.6h0M213.5 271.6h0M213.6 275h0M213.6 275.9h0M213.6 299.3h0M213.6 241.7h0M213.6 284h0M213.7 252.5h0M213.7 251.6h0M213.7 284.9h0M213.7 304.7h0M213.7 239h0M213.8 264.2h0M213.8 258.8h0M213.8 254.3h0M213.8 263.3h0M213.8 256.1h0M213.8 249.8h0M213.8 257.9h0M213.8 243.5h0M213.8 293h0M213.8 305.6h0M213.8 253.4h0M213.8 266h0M213.8 272.3h0M213.9 278.6h0M213.9 265.1h0M213.9 266.9h0M213.9 255.2h0M213.9 238.1h0M213.9 246.2h0M213.9 245.3h0M214 247.1h0M214 240.8h0M214.1 213.2h0M214.1 259.2h0M214.1 274.5h0M214.1 254.7h0M214.2 273.6h0M214.2 307.8h0M214.2 248.4h0M214.2 279h0M214.2 260.1h0M214.2 251.1h0M214.2 261h0M214.2 239.4h0M214.3 276.3h0M214.3 261.9h0M214.3 283.5h0M214.3 243.9h0M214.3 282.6h0M214.3 266.4h0M214.3 278.1h0M214.3 241.2h0M214.3 272.7h0M214.4 252h0M214.4 268.2h0M214.4 288.9h0M214.4 295.2h0M214.4 212.8h0M214.4 262.8h0M214.4 285.3h0M214.4 240.3h0M214.5 244.8h0M214.5 280.8h0M214.5 238.5h0M214.5 294.3h0M214.5 255.6h0M214.5 247.5h0M214.5 277.2h0M214.6 253.7h0M214.7 251h0M214.7 266.3h0M214.7 284.3h0M214.7 300.5h0M214.7 240.2h0M214.7 248.3h0M214.7 241.1h0M214.8 244.7h0M214.8 255.5h0M214.8 238.4h0M214.8 285.2h0M214.8 239.3h0M214.8 252.8h0M214.8 262.7h0M214.8 290.6h0M214.8 283.4h0M214.8 250.1h0M214.8 256.4h0M214.8 243.8h0M214.9 242h0M214.9 263.6h0M214.9 254.6h0M214.9 242.9h0M214.9 276.2h0M214.9 249.2h0M214.9 245.6h0M214.9 281.6h0M215 251.9h0M215 269.9h0M215.1 255.4h0M215.1 256.3h0M215.1 241h0M215.2 308.5h0M215.2 280.6h0M215.2 252.7h0M215.2 282.4h0M215.2 267.1h0M215.2 238.3h0M215.2 273.4h0M215.2 244.6h0M215.2 303.1h0M215.3 271.6h0M215.3 277.9h0M215.3 211.2h0M215.3 283.3h0M215.3 315.4h0M215.3 254.5h0M215.3 247.3h0M215.3 274.3h0M215.3 259h0M215.3 245.5h0M215.4 249.1h0M215.4 242.8h0M215.4 264.4h0M215.4 265.3h0M215.4 239.2h0M215.4 292.3h0M215.4 253.6h0M215.5 250.9h0M215.5 295.9h0M215.5 281.5h0M215.5 262.6h0M215.5 243.7h0" fill="none" stroke="#2f54a9" stroke-width="1.10" stroke-linecap="square"/>
<path d="M79 233.2h0M79 234.9h0M79 238.2h0M79 238.3h0M79.6 234h0M79.6 239.5h0M79.6 242.8h0M84 236.5h0M84 238.8h0M84 240.2h0M84 240.7h0M88 235.7h0M121 234.6h0M121 234.9h0M121 235.6h0M121 236.7h0M121 238.9h0M121 240.9h0M121 241.7h0M121 244.8h0M121 247.4h0M123.2 231.3h0M123.2 232h0M123.2 233.6h0M123.2 235.2h0M123.2 236.2h0M123.2 238.2h0M123.2 239.7h0M123.2 241.9h0M123.2 243.2h0M123.2 247.8h0M125.4 234.2h0M125.4 235.1h0M125.4 235.4h0M125.4 235.6h0M125.4 237.7h0M125.4 241.2h0M125.4 243h0M125.4 243.4h0M125.4 245h0M125.4 247.2h0M127.6 232.2h0M127.6 232.2h0M127.6 234.9h0M127.6 238.7h0M127.6 246h0M129.8 232.8h0M129.8 235.7h0M129.8 240.5h0M129.8 245.3h0M132 232h0M132 238.6h0M132 241h0M132 241.9h0M132 242.3h0M132 245.5h0M134.2 235.8h0M134.2 236h0M134.2 241.5h0M134.2 244.5h0M134.2 245.7h0M136.4 231.7h0M136.4 247h0M138.6 234h0M138.6 235.6h0M138.6 236.6h0M138.6 237.6h0M138.6 237.8h0M138.6 241.9h0M138.6 243h0M140.8 234.5h0M140.8 238.9h0M140.8 239h0M140.8 241.3h0M140.8 244.9h0M143 237.8h0M143 239.2h0M143 243.9h0M143 244.7h0M143 245.4h0M143 247.4h0M143 247.9h0M153.7 236.2h0M154.8 238.3h0M154.8 244.7h0M155.2 241.8h0M155.5 235h0M155.8 233.9h0M156.3 240.2h0M156.3 240.2h0M156.3 242.3h0M156.5 240.8h0M156.6 243.3h0M156.8 233h0M157.1 236.4h0M157.1 243.7h0M157.1 240.6h0M157.4 242.3h0M157.6 240.7h0M157.7 238.2h0M157.8 238.7h0M157.9 233.1h0M158.1 245.9h0M158.2 238.2h0M158.3 234.8h0M158.3 234.8h0M158.4 244.6h0M158.5 243.1h0M158.9 232.4h0M159.1 244.1h0M159.5 233.2h0M159.5 245.7h0M159.5 242h0M159.7 237.8h0M159.8 242.2h0M159.8 236.6h0M159.9 242.3h0M160 244.3h0M160 236.9h0M160 235.6h0M160.3 235.9h0M160.6 233.1h0M174.8 236.4h0M174.8 237h0M174.8 237.7h0M174.8 237.8h0M174.8 238.1h0M176.7 233.5h0M176.7 237.6h0M176.7 238.5h0M178.6 235.2h0M179 242.6h0M179.1 236.7h0M179.2 238.8h0M179.2 237.7h0M179.2 234.9h0M179.2 237.2h0M179.3 237.1h0M179.3 242.6h0M179.4 232.3h0M180.5 232.1h0M180.5 233.9h0M180.5 234.3h0M180.5 235.6h0M182.4 235.3h0M182.4 237.1h0M184.3 233h0M187.1 236.8h0M187.2 240h0M187.2 232.1h0M187.3 242.4h0M187.3 240.5h0M187.3 231.2h0M187.3 242h0M187.5 235.9h0M187.5 233.1h0M188.1 232.6h0M188.1 236.9h0M190 237.9h0M191.9 235.9h0M191.9 236.4h0M191.9 236.4h0M191.9 236.6h0M193.8 237h0M193.8 238.6h0M195.7 234h0M195.7 236.3h0M195.7 237.9h0M196.3 232.1h0M196.4 236.7h0M196.4 238.8h0M196.4 234.3h0M196.5 236.6h0M196.5 234.6h0M196.5 232.9h0M196.5 230.9h0M196.6 231.2h0M197.6 234.2h0M197.6 234.2h0M197.6 238.2h0M201.4 237.7h0M201.4 238.6h0M203.3 232.9h0M203.3 233.5h0M203.3 236.5h0M203.3 237.9h0M203.4 232.3h0M203.4 239.5h0M203.4 233.8h0M203.5 241h0M203.5 241.1h0M203.6 238.1h0M203.6 241.7h0M203.7 232.4h0M203.7 241.5h0M205.2 234.8h0M205.2 235.4h0M207.1 232.1h0M207.1 233h0M207.1 234.2h0M207.1 236.5h0M207.1 238.3h0M207.1 238.6h0M209.7 240.7h0M209.7 236.3h0M209.8 234.9h0M209.8 232.7h0M209.8 238.7h0M209.9 240.2h0M210 229.7h0M210 233h0M210.1 242.6h0M210.9 234.6h0M210.9 238h0M210.9 238.9h0M212.8 236.8h0M214.7 235.8h0" fill="none" stroke="#fff" stroke-width="0.84" stroke-linecap="square"/>
<rect x="40.00" y="204.50" width="187.20" height="130.60" fill="none" stroke="#585858" stroke-width="1.05"/>
<text x="40.00" y="345.90" text-anchor="middle" class="t">-0.5</text>
<text x="102.40" y="345.90" text-anchor="middle" class="t">0</text>
<text x="164.80" y="345.90" text-anchor="middle" class="t">0.5</text>
<text x="227.20" y="345.90" text-anchor="middle" class="t">1</text>
<text x="36.80" y="206.60" text-anchor="end" class="t">0.5</text>
<text x="36.80" y="239.25" text-anchor="end" class="t">0</text>
<text x="36.80" y="271.90" text-anchor="end" class="t">-0.5</text>
<text x="36.80" y="304.55" text-anchor="end" class="t">-1</text>
<text x="36.80" y="337.20" text-anchor="end" class="t">-1.5</text>
<path d="M40.00 335.10v-2.0M40.00 204.50v2.0M102.40 335.10v-2.0M102.40 204.50v2.0M164.80 335.10v-2.0M164.80 204.50v2.0M227.20 335.10v-2.0M227.20 204.50v2.0M40.00 204.50h2.0M227.20 204.50h-2.0M40.00 237.15h2.0M227.20 237.15h-2.0M40.00 269.80h2.0M227.20 269.80h-2.0M40.00 302.45h2.0M227.20 302.45h-2.0M40.00 335.10h2.0M227.20 335.10h-2.0" stroke="#585858" stroke-width="0.9" fill="none"/>
<text x="133.60" y="198.20" text-anchor="middle" class="ti">(<tspan class="b">c</tspan>)</text>
<text x="133.60" y="359.60" text-anchor="middle" class="xl"><tspan class="i">α</tspan></text>
<text transform="translate(17.30 269.80) rotate(-90)" text-anchor="middle" class="xl"><tspan class="sp"><tspan class="i">x</tspan>(<tspan class="i">n</tspan>)</tspan></text>
<path d="M317.0 225.5 L317.5 225.6 L318.0 225.6 L318.5 225.7 L319.0 225.8 L319.5 225.8 L320.0 225.9 L320.5 226.0 L321.0 226.0 L321.6 226.1 L322.1 226.2 L322.6 226.3 L323.1 226.3 L323.6 226.4 L324.1 226.5 L324.6 226.5 L325.1 226.6 L325.6 226.7 L326.1 226.7 L326.6 226.8 L327.1 226.9 L327.6 226.9 L328.1 227.0 L328.6 227.1 L329.1 227.1 L329.7 227.2 L330.2 227.3 L330.7 227.3 L331.2 227.4 L331.7 227.5 L332.2 227.6 L332.7 227.6 L333.2 227.7 L333.7 227.8 L334.2 227.8 L334.7 227.9 L335.2 228.0 L335.7 228.0 L336.2 228.1 L336.7 228.2 L337.2 228.2 L337.7 228.3 L338.3 228.4 L338.8 228.4 L339.3 228.5 L339.8 228.6 L340.3 228.6 L340.8 228.7 L341.3 228.8 L341.8 228.9 L342.3 228.9 L342.8 229.0 L343.3 229.1 L343.8 229.1 L344.3 229.2 L344.8 229.3 L345.3 229.3 L345.8 229.4 L346.4 229.5 L346.9 229.5 L347.4 229.6 L347.9 229.7 L348.4 229.7 L348.9 229.8 L349.4 229.9 L349.9 230.0 L350.4 230.0 L350.4 255.0 L349.9 254.9 L349.4 254.9 L348.9 254.8 L348.4 254.7 L347.9 254.6 L347.4 254.5 L346.9 254.4 L346.4 254.3 L345.8 254.2 L345.3 254.1 L344.8 254.1 L344.3 254.0 L343.8 253.8 L343.3 253.7 L342.8 253.6 L342.3 253.4 L341.8 253.3 L341.3 253.2 L340.8 253.0 L340.3 252.9 L339.8 252.8 L339.3 252.6 L338.8 252.5 L338.3 252.4 L337.7 252.2 L337.2 252.1 L336.7 251.9 L336.2 251.6 L335.7 251.3 L335.2 251.0 L334.7 250.7 L334.2 250.4 L333.7 250.1 L333.2 249.9 L332.7 249.6 L332.2 249.3 L331.7 249.0 L331.2 248.7 L330.7 248.4 L330.2 248.1 L329.7 247.9 L329.1 247.7 L328.6 247.5 L328.1 247.4 L327.6 247.2 L327.1 247.0 L326.6 246.9 L326.1 246.7 L325.6 246.5 L325.1 246.4 L324.6 246.2 L324.1 246.0 L323.6 246.1 L323.1 246.1 L322.6 246.2 L322.1 246.3 L321.6 246.3 L321.0 246.4 L320.5 246.5 L320.0 246.6 L319.5 246.6 L319.0 246.7 L318.5 246.8 L318.0 246.9 L317.5 246.9 L317.0 247.0 ZM357.4 230.7 L357.9 230.7 L358.4 230.8 L358.9 230.8 L359.4 230.8 L359.9 230.9 L360.4 230.9 L360.9 231.0 L361.4 231.0 L361.9 231.1 L362.4 231.1 L362.9 231.2 L363.4 231.2 L363.9 231.2 L364.4 231.3 L364.9 231.3 L365.4 231.4 L365.9 231.4 L366.4 231.5 L366.9 231.5 L367.4 231.6 L367.9 231.6 L368.4 231.6 L368.9 231.7 L369.4 231.7 L369.9 231.8 L370.4 231.8 L370.9 231.9 L371.4 231.9 L371.9 232.0 L372.4 232.0 L372.9 232.0 L373.4 232.1 L373.9 232.1 L374.4 232.2 L374.9 232.2 L375.4 232.3 L375.9 232.3 L376.4 232.3 L376.9 232.4 L377.4 232.4 L377.9 232.5 L378.4 232.5 L378.9 232.6 L379.4 232.6 L379.9 232.7 L380.4 232.7 L380.9 232.7 L381.4 232.8 L381.9 232.8 L382.4 232.9 L382.9 232.9 L383.4 233.0 L383.9 233.0 L384.4 233.1 L384.9 233.1 L385.4 233.1 L385.9 233.2 L386.4 233.2 L386.9 233.2 L387.4 233.3 L387.9 233.3 L388.4 233.3 L388.9 233.3 L389.4 233.4 L389.9 233.4 L390.4 233.4 L390.9 233.4 L391.4 233.5 L391.9 233.5 L392.4 233.5 L392.9 233.5 L393.4 233.6 L393.9 233.6 L394.4 233.6 L394.9 233.6 L395.4 233.7 L395.9 233.7 L396.4 233.7 L396.9 233.7 L397.4 233.8 L397.9 233.8 L398.4 233.8 L398.9 233.8 L399.4 233.9 L399.9 233.9 L400.4 233.9 L400.4 240.6 L399.9 240.7 L399.4 240.9 L398.9 241.0 L398.4 241.2 L397.9 241.3 L397.4 241.4 L396.9 241.6 L396.4 241.7 L395.9 241.8 L395.4 242.0 L394.9 242.1 L394.4 242.3 L393.9 242.4 L393.4 242.5 L392.9 242.7 L392.4 242.8 L391.9 243.0 L391.4 243.1 L390.9 243.2 L390.4 243.4 L389.9 243.5 L389.4 243.7 L388.9 243.8 L388.4 243.9 L387.9 244.1 L387.4 244.2 L386.9 244.3 L386.4 244.5 L385.9 244.6 L385.4 244.8 L384.9 244.9 L384.4 245.1 L383.9 245.2 L383.4 245.4 L382.9 245.5 L382.4 245.6 L381.9 245.8 L381.4 245.9 L380.9 246.1 L380.4 246.2 L379.9 246.4 L379.4 246.5 L378.9 246.7 L378.4 246.8 L377.9 247.0 L377.4 247.1 L376.9 247.3 L376.4 247.4 L375.9 247.5 L375.4 247.7 L374.9 247.9 L374.4 248.0 L373.9 248.2 L373.4 248.4 L372.9 248.5 L372.4 248.7 L371.9 248.9 L371.4 249.0 L370.9 249.2 L370.4 249.3 L369.9 249.5 L369.4 249.7 L368.9 249.8 L368.4 250.0 L367.9 250.2 L367.4 250.3 L366.9 250.5 L366.4 250.7 L365.9 250.9 L365.4 251.1 L364.9 251.2 L364.4 251.4 L363.9 251.6 L363.4 251.8 L362.9 252.0 L362.4 252.2 L361.9 252.5 L361.4 252.8 L360.9 253.1 L360.4 253.4 L359.9 253.8 L359.4 254.1 L358.9 254.4 L358.4 254.7 L357.9 255.1 L357.4 255.4 Z" fill="#2f54a9"/>
<path d="M350.4 230.1 L357.4 230.8M350.4 256.0 L357.4 255.3M350.4 232.5 L357.4 235.0 L350.4 238.5 L357.4 240.5 L350.4 243.5 L357.4 245.0 L350.4 247.0 L357.4 249.0 L350.4 251.5 L357.4 252.5 L350.4 255.5M350.4 256.0 L354.0 252.0 L357.4 249.5" fill="none" stroke="#2f54a9" stroke-width="1.10"/>
<path d="M400.4 239.6 L408.8 238.4M400.4 300.0 L408.8 303.2" fill="none" stroke="#2f54a9" stroke-width="1.10"/>
<path d="M408.3 238.2 L408.8 236.4 L409.3 234.9 L409.8 234.2 L410.3 233.6 L410.8 233.0 L411.3 232.6 L411.8 232.1 L412.3 231.7 L412.8 231.3 L413.3 230.8 L413.8 230.4 L414.3 230.0 L414.8 229.6 L415.3 229.1 L415.8 228.7 L415.8 248.1 L415.3 247.6 L414.8 247.1 L414.3 246.6 L413.8 246.1 L413.3 245.6 L412.8 245.1 L412.3 244.6 L411.8 244.1 L411.3 243.6 L410.8 243.1 L410.3 242.4 L409.8 241.8 L409.3 241.1 L408.8 239.8 L408.3 238.2 Z" fill="#2f54a9"/>
<path d="M408.3 302.6 L408.8 301.6 L409.3 300.0 L409.8 299.2 L410.3 298.3 L410.8 297.5 L411.3 296.9 L411.8 296.4 L412.3 295.8 L412.8 295.3 L413.3 294.7 L413.8 294.1 L414.3 293.6 L414.8 293.0 L415.3 292.5 L415.8 291.9 L415.8 313.1 L415.3 312.5 L414.8 312.0 L414.3 311.4 L413.8 310.9 L413.3 310.3 L412.8 309.7 L412.3 309.2 L411.8 308.6 L411.3 308.1 L410.8 307.5 L410.3 306.8 L409.8 306.0 L409.3 305.3 L408.8 303.6 L408.3 302.6 Z" fill="#2f54a9"/>
<path d="M316.8 262.9h0M316.8 289h0M316.9 274.6h0M316.9 264.7h0M316.9 258.4h0M316.9 275.5h0M316.9 273.7h0M317 252.1h0M317 255.7h0M317 291.1h0M317 256.6h0M317 262h0M317.1 277.3h0M317.1 284.5h0M317.1 286.3h0M317.1 261.1h0M317.1 279.1h0M317.2 259.3h0M317.2 270.1h0M317.2 267.4h0M317.2 283.6h0M317.3 263.1h0M317.3 260.4h0M317.4 215.1h0M317.4 222.9h0M317.4 259.5h0M317.4 255h0M317.4 248.7h0M317.5 287.4h0M317.5 208.8h0M317.5 276.6h0M317.5 278.4h0M317.5 211.5h0M317.5 218.8h0M317.5 271.2h0M317.5 290.4h0M317.5 266.7h0M317.5 314.8h0M317.6 261.3h0M317.6 313.1h0M317.6 273h0M317.6 224.1h0M317.6 251.4h0M317.6 213.7h0M317.6 300.6h0M317.6 216.2h0M317.6 277.5h0M317.7 210h0M317.7 270.3h0M317.7 257.7h0M317.7 254.1h0M317.7 217.6h0M317.7 212.6h0M317.8 221.8h0M317.8 220.5h0M317.8 307.8h0M317.9 286.5h0M317.9 308.8h0M318 254.1h0M318 289.7h0M318 259.5h0M318.1 264.9h0M318.1 298.5h0M318.1 260.4h0M318.1 253.2h0M318.1 295.5h0M318.1 279.3h0M318.1 246.9h0M318.1 248.7h0M318.1 273.9h0M318.1 267.6h0M318.1 302.9h0M318.2 256.8h0M318.3 256.2h0M318.3 247.2h0M318.3 303.3h0M318.3 269.7h0M318.4 263.4h0M318.4 249h0M318.4 276h0M318.4 248.1h0M318.4 303.8h0M318.5 253.5h0M318.5 254.4h0M318.5 249.9h0M318.5 289.9h0M318.5 258h0M318.5 258.9h0M318.5 305.9h0M318.5 250.8h0M318.5 288.6h0M318.6 272.4h0M318.6 314.3h0M318.6 292h0M318.6 261.6h0M318.6 255.3h0M318.7 268.8h0M318.7 252.6h0M318.7 281.4h0M318.9 297.9h0M318.9 288h0M318.9 262.8h0M318.9 250.2h0M318.9 276.3h0M318.9 258.3h0M319 282.6h0M319 247.5h0M319 257.4h0M319 286.2h0M319 252h0M319.1 261h0M319.1 256.5h0M319.1 267.3h0M319.1 280.8h0M319.1 278.1h0M319.2 248.4h0M319.2 251.1h0M319.3 267h0M319.3 259.8h0M319.3 258.9h0M319.3 281.4h0M319.4 287.7h0M319.4 257.1h0M319.4 276h0M319.4 254.4h0M319.5 263.4h0M319.5 288.6h0M319.5 273.3h0M319.5 260.7h0M319.5 264.3h0M319.5 256.2h0M319.6 268.8h0M319.6 251.7h0M319.6 280.5h0M319.6 288.6h0M319.6 278.7h0M319.6 247.2h0M319.6 286.8h0M319.6 274.2h0M319.6 299.9h0M319.6 250.8h0M319.7 283.2h0M319.8 260.2h0M319.9 269.2h0M319.9 273.7h0M319.9 286.3h0M319.9 261.1h0M319.9 302.9h0M319.9 287.2h0M319.9 250.3h0M319.9 274.6h0M319.9 272.8h0M319.9 291.6h0M319.9 270.1h0M320 252.1h0M320 288.1h0M320 264.7h0M320 251.2h0M320 249.4h0M320.1 282.7h0M320.1 253h0M320.1 255.7h0M320.2 262h0M320.2 276.4h0M320.3 278.3h0M320.3 269.3h0M320.3 254.9h0M320.3 294.9h0M320.3 261.2h0M320.4 249.5h0M320.4 264.8h0M320.4 266.6h0M320.4 273.8h0M320.5 265.7h0M320.5 246.8h0M320.5 287.6h0M320.5 271.1h0M320.5 274.7h0M320.5 257.6h0M320.6 247.7h0M320.8 274.6h0M320.8 252.1h0M320.8 269.2h0M320.9 248.5h0M320.9 253.9h0M320.9 249.4h0M320.9 270.1h0M320.9 275.5h0M320.9 254.8h0M321 255.7h0M321 250.3h0M321 287.7h0M321 285.4h0M321 282.7h0M321.1 256.6h0M321.1 272.8h0M321.1 246.7h0M321.1 267.4h0M321.4 273.2h0M321.4 298.1h0M321.4 262.4h0M321.4 286.7h0M321.4 247.1h0M321.4 266h0M321.5 286.8h0M321.5 282.2h0M321.5 263.3h0M321.5 258.8h0M321.6 274.1h0M321.6 275.9h0M321.6 256.1h0M321.6 271.4h0M321.7 257.9h0M321.7 266.9h0M321.7 292.4h0M321.8 257.7h0M321.9 258.6h0M322 275.7h0M322 286.1h0M322 271.2h0M322.1 276.6h0M322.1 281.1h0M322.1 263.1h0M322.1 264h0M322.2 262.2h0M322.2 273h0M322.3 260.3h0M322.3 249.5h0M322.3 277.4h0M322.4 263h0M322.4 276.5h0M322.4 257.6h0M322.5 267.5h0M322.5 261.2h0M322.5 278.3h0M322.6 247.7h0M322.6 273.8h0M322.6 279.2h0M322.8 246.2h0M322.8 260.6h0M322.9 284h0M322.9 275h0M322.9 280.4h0M322.9 247.1h0M323 250.7h0M323 273.2h0M323 275.9h0M323 266h0M323 285.2h0M323 253.4h0M323.1 274.1h0M323.1 258.8h0M323.1 282.2h0M323.3 280.3h0M323.3 258.7h0M323.4 275.8h0M323.4 248.8h0M323.5 277.6h0M323.5 252.4h0M323.5 271.3h0M323.5 285h0M323.6 267.7h0M323.7 246.1h0M323.8 254h0M323.9 246.8h0M323.9 272h0M324 270.2h0M324 282.8h0M324 263h0M324 284h0M324 269.3h0M324 251.3h0M324 261.2h0M324 260.3h0M324.1 248.6h0M324.1 264.8h0M324.2 281.9h0M324.3 274.9h0M324.3 255.1h0M324.5 278.5h0M324.6 273.1h0M324.8 247.3h0M324.9 265.3h0M325 266.2h0M325.1 251.8h0M325.1 246.4h0M325.1 257.2h0M325.3 270.2h0M325.3 261.2h0M325.3 252.2h0M325.4 246.8h0M325.4 264.8h0M325.5 259.4h0M325.5 269.3h0M325.5 272.9h0M325.5 277.4h0M325.6 248.6h0M325.6 276.5h0M325.6 251.3h0M325.7 247.7h0M325.7 265.7h0M325.7 255.8h0M325.7 278.3h0M325.8 253.4h0M325.9 266.9h0M325.9 263.3h0M326 267.8h0M326 260.6h0M326 281.7h0M326 247.1h0M326 271.4h0M326.1 270.5h0M326.1 274.1h0M326.1 259.7h0M326.1 275h0M326.1 251.6h0M326.2 266h0M326.4 268.6h0M326.5 263.2h0M326.5 280.8h0M326.5 266.8h0M326.6 249.7h0M326.6 276.7h0M326.6 264.1h0M326.6 271.3h0M326.6 253.3h0M326.7 252.4h0M326.8 252.7h0M326.8 268h0M326.9 270.7h0M326.9 250.9h0M326.9 269.8h0M327 271.6h0M327 254.5h0M327 279.6h0M327.1 253.6h0M327.1 259h0M327.2 266.2h0M327.2 275.2h0M327.3 270.1h0M327.3 276.4h0M327.4 268.3h0M327.4 275.5h0M327.4 267.4h0M327.4 260.2h0M327.5 262.9h0M327.5 265.6h0M327.6 261.1h0M327.9 270.2h0M327.9 253.1h0M327.9 274.7h0M327.9 277.4h0M328 250.4h0M328 278.4h0M328 267.5h0M328 263.9h0M328 254.9h0M328.1 264.8h0M328.1 255.8h0M328.1 272h0M328.1 257.6h0M328.3 274.7h0M328.3 272h0M328.4 253.1h0M328.4 254h0M328.5 264.8h0M328.5 270.2h0M328.5 277.8h0M328.6 250.4h0M328.6 249.5h0M328.9 264.9h0M329 253.2h0M329 277.4h0M329 268.5h0M329 254.1h0M329.1 247.8h0M329.1 262.2h0M329.1 273h0M329.2 255h0M329.3 265.6h0M329.3 259.3h0M329.3 256.6h0M329.4 264.7h0M329.4 253h0M329.4 258.4h0M329.4 268.3h0M329.4 248.5h0M329.5 255.7h0M329.5 251.2h0M329.5 276.2h0M329.5 252.1h0M329.6 266.5h0M329.7 250.3h0M329.7 257.5h0M329.8 260.1h0M329.8 248.4h0M329.9 258.3h0M329.9 271.8h0M329.9 261h0M329.9 249.3h0M330 254.7h0M330 275.7h0M330 259.2h0M330 265.5h0M330.1 255.6h0M330.1 261.9h0M330.1 263.7h0M330.1 274.5h0M330.2 264.6h0M330.3 259.8h0M330.3 257.1h0M330.4 260.7h0M330.4 266.1h0M330.4 251.7h0M330.4 263.4h0M330.5 255.3h0M330.5 258.9h0M330.5 275.2h0M330.5 249h0M330.6 272.4h0M331 262.9h0M331 250.3h0M331 260.2h0M331.1 252.1h0M331.1 262h0M331.1 273.7h0M331.4 273.7h0M331.5 256.6h0M331.5 251.2h0M331.7 271h0M331.8 255.7h0M331.9 263.8h0M331.9 253.9h0M331.9 272.8h0M331.9 260.2h0M331.9 256.6h0M332 265.6h0M332 262.9h0M332.1 250.3h0M332.1 249.4h0M332.2 271h0M332.3 257.3h0M332.4 266.3h0M332.4 251.9h0M332.5 265.4h0M332.5 272.2h0M332.7 255.5h0M332.8 255.2h0M332.9 251.6h0M332.9 264.2h0M333 261.5h0M333 266h0M333 252.5h0M333 272.3h0M333 265.1h0M333.1 250.7h0M333.1 257.9h0M333.1 253.4h0M333.2 258.8h0M333.2 270.5h0M333.4 268.3h0M333.4 260.2h0M333.4 254.8h0M333.4 258.4h0M333.5 262.9h0M333.5 271.6h0M333.7 267.4h0M333.7 251.2h0M333.8 251.6h0M333.9 250.7h0M334 254.3h0M334 258.8h0M334.1 259.7h0M334.1 255.2h0M334.2 257h0M334.3 253.8h0M334.3 256.5h0M334.4 255.6h0M334.5 252.9h0M334.5 263.7h0M334.6 269.1h0M334.7 262.8h0M334.8 259.7h0M336.4 252.1h0M336.4 256.6h0M336.5 261.1h0M336.6 253h0M336.6 263.8h0M336.9 255.6h0M336.9 260.1h0M337 252.9h0M337 267h0M337.1 253.8h0M337.1 254.7h0M337.2 261.9h0M337.3 256.3h0M337.4 254.5h0M337.5 258.1h0M337.5 259h0M337.9 261.4h0M338 266.6h0M338.1 258.7h0M338.1 252.4h0M338.2 254.2h0M338.2 264.1h0M338.4 255.5h0M338.4 260.9h0M338.4 260h0M338.5 265.9h0M338.5 254.6h0M338.7 259.1h0M338.8 256.3h0M338.9 255.4h0M338.9 252.7h0M339 265.4h0M339 258.1h0M339.1 253.6h0M339.1 259h0M339.1 259.9h0M339.2 262.6h0M339.4 256.1h0M339.5 259.7h0M339.7 253.4h0M339.8 262.2h0M340 264.5h0M340.1 256.8h0M340.4 253h0M340.4 254.8h0M340.6 253.9h0M340.6 256.6h0M340.9 255.3h0M340.9 258h0M341 263.9h0M341.5 262.4h0M341.5 260.6h0M341.6 254.3h0M342 255.4h0M342 263.4h0M342.1 253.6h0M342.4 258.1h0M342.4 256.3h0M342.5 254.5h0M342.6 260.8h0M342.8 259.4h0M343 257.6h0M343 262.4h0M343.4 260h0M344.1 254h0M345.1 254.9h0M345.6 255.8h0M345.7 257.6h0M346 256.4h0M346.9 254.7h0M347.1 255.6h0M347.4 257.1h0M347.4 255.3h0M347.5 258.1h0M348.2 255.2h0M349 257.5h0M349.4 254.9h0M349.5 256.4h0M350.1 255h0M415.8 298h0M415.8 235.7h0M415.8 306.1h0M415.8 303.4h0M415.9 298.9h0M415.9 229.4h0M415.9 231.2h0M415.9 305.2h0M415.9 237.5h0M415.9 243.8h0M415.9 240.2h0M415.9 312.4h0M415.9 230.3h0M415.9 291.7h0M415.9 307.9h0M415.9 307h0M415.9 238.4h0M416 228.5h0M416 233.9h0M416 228.7h0M416 291.5h0M416 313.6h0M416 294.4h0M416 233h0M416 241.1h0M416 310.6h0M416.1 232.1h0M416.1 293.5h0M416.1 299.8h0M416.1 246.5h0M416.1 311.5h0M416.1 309.7h0M416.2 296.2h0M416.2 304.3h0M416.3 307.7h0M416.3 296.9h0M416.3 295.1h0M416.3 294.2h0M416.3 313.1h0M416.3 237.3h0M416.3 245.4h0M416.4 306.8h0M416.4 235.5h0M416.4 247.2h0M416.4 228.3h0M416.4 302.3h0M416.4 229.2h0M416.5 296h0M416.5 230.1h0M416.5 240h0M416.5 242.7h0M416.5 291.5h0M416.5 228.1h0M416.5 290.9h0M416.5 313.6h0M416.5 301.4h0M416.5 236.4h0M416.5 305h0M416.6 239.1h0M416.6 293.3h0M416.6 248.1h0M416.6 303.2h0M416.6 244.5h0M416.6 231h0M416.6 304.1h0M416.7 238.2h0M416.7 308.6h0M416.7 297.8h0M416.7 298.7h0M416.7 299.6h0M416.7 311.3h0M416.7 309.5h0M416.7 246.3h0M416.7 241.8h0M416.8 296.6h0M416.8 235.1h0M416.8 228.8h0M416.8 236.9h0M416.8 312.8h0M416.8 306.5h0M416.8 300.2h0M416.9 246.8h0M416.9 229.7h0M416.9 241.4h0M416.9 239.6h0M416.9 236h0M417 302.9h0M417 293h0M417 249.1h0M417 314.3h0M417 244.1h0M417 305.6h0M417 311h0M417 227.9h0M417 238.7h0M417.1 298.4h0M417.1 242.3h0M417.1 245.9h0M417.1 233.3h0M417.1 292.1h0M417.1 247.7h0M417.1 294.8h0M417.1 304.7h0M417.1 243.2h0M417.1 237.8h0M417.2 303.8h0M417.2 301.1h0M417.2 295.7h0M417.2 308.3h0M417.2 231.5h0M417.2 313.7h0M417.3 249.6h0M417.3 311.4h0M417.3 314.1h0M417.3 295.2h0M417.3 306.9h0M417.4 312.3h0M417.4 305.1h0M417.4 246.9h0M417.4 290.7h0M417.4 300.6h0M417.4 240.6h0M417.4 237h0M417.4 231.6h0M417.4 244.2h0M417.4 308.7h0M417.4 299.7h0M417.4 241.5h0M417.4 292.5h0M417.5 228.9h0M417.5 301.5h0M417.5 238.8h0M417.5 228h0M417.5 229.8h0M417.5 297.9h0M417.5 248.7h0M417.5 306h0M417.5 245.1h0M417.5 247.8h0M417.5 227.4h0M417.5 250h0M417.5 293.4h0M417.5 298.8h0M417.5 235.2h0M417.6 307.8h0M417.6 243.3h0M417.6 302.4h0M417.7 246h0M417.7 303.3h0M417.7 310.5h0M417.8 246.3h0M417.8 245.4h0M417.8 304.5h0M417.8 298.2h0M417.9 248.1h0M417.9 311.7h0M417.9 237.3h0M417.9 243.6h0M417.9 230.1h0M417.9 231.9h0M418 235.5h0M418 293.7h0M418 310.8h0M418 291.9h0M418 249.9h0M418 227h0M418 289.7h0M418 315.1h0M418 291h0M418 247.2h0M418 303.6h0M418 231h0M418 302.7h0M418 301.8h0M418 299.1h0M418 228.3h0M418 309.9h0M418.1 306.3h0M418.1 307.2h0M418.1 239.1h0M418.1 227.4h0M418.1 249h0M418.1 238.2h0M418.1 305.4h0M418.1 313.5h0M418.1 234.6h0M418.2 292.8h0M418.2 312.6h0M418.2 232.8h0M418.2 240h0M418.2 290.1h0M418.2 241.8h0M418.2 244.5h0M418.3 311.6h0M418.3 297.2h0M418.4 243.4h0M418.4 299.9h0M418.4 302.6h0M418.4 290h0M418.4 228.1h0M418.4 309.8h0M418.4 304.4h0M418.4 305.3h0M418.4 310.7h0M418.4 248.8h0M418.4 247h0M418.5 246.1h0M418.5 231.7h0M418.5 236.2h0M418.5 301.7h0M418.5 249.7h0M418.5 290.9h0M418.5 226.3h0M418.5 250.7h0M418.5 289.3h0M418.5 312.5h0M418.5 308h0M418.5 241.6h0M418.5 293.6h0M418.5 307.1h0M418.5 229.9h0M418.6 292.7h0M418.6 313.4h0M418.6 300.8h0M418.6 235.3h0M418.6 306.2h0M418.6 303.5h0M418.6 295.4h0M418.6 229h0M418.6 244.3h0M418.7 232.6h0M418.7 291.8h0M418.8 305.6h0M418.8 294.8h0M418.8 315.5h0M418.8 298.4h0M418.8 233.2h0M418.8 246.7h0M418.8 229.6h0M418.9 292.1h0M418.9 296.6h0M418.9 302.9h0M418.9 301.1h0M418.9 303.8h0M418.9 302h0M418.9 234.1h0M418.9 310.1h0M418.9 299.3h0M418.9 293.9h0M418.9 304.7h0M419 311h0M419 231.4h0M419 226h0M419 251.3h0M419 288.6h0M419 249.4h0M419 244h0M419 242.2h0M419 240.4h0M419.1 300.2h0M419.1 232.3h0M419.1 312.8h0M419.1 293h0M419.1 236.8h0M419.1 226.9h0M419.1 235.9h0M419.1 228.7h0M419.1 227.8h0M419.1 230.5h0M419.1 295.7h0M419.2 311.9h0M419.2 297.5h0M419.2 248.5h0M419.3 297.8h0M419.3 243.8h0M419.3 309.5h0M419.3 247.4h0M419.3 293.3h0M419.4 231.2h0M419.4 288.8h0M419.4 246.5h0M419.4 239.3h0M419.4 315.8h0M419.4 313.1h0M419.4 242h0M419.4 314h0M419.4 307.7h0M419.4 305.9h0M419.5 308.6h0M419.5 226.7h0M419.5 245.6h0M419.5 242.9h0M419.5 305h0M419.5 306.8h0M419.5 295.1h0M419.5 300.5h0M419.5 229.4h0M419.5 225.5h0M419.5 288.2h0M419.5 298.7h0M419.5 301.4h0M419.5 299.6h0M419.5 291.5h0M419.6 233h0M419.6 294.2h0M419.6 314.9h0M419.6 304.1h0M419.6 312.2h0M419.6 240.2h0M419.6 244.7h0M419.6 235.7h0M419.7 237.5h0M419.7 310.4h0M419.7 290.6h0M419.7 248.3h0M419.8 249.2h0M419.9 317h0M419.9 294.5h0M419.9 238.4h0M419.9 291.8h0M419.9 309.8h0M419.9 229.4h0M419.9 301.7h0M419.9 299.9h0M419.9 308h0M419.9 308.9h0M419.9 236.6h0M420 226.7h0M420 243.8h0M420 246.5h0M420 237.5h0M420 300.8h0M420 225.3h0M420 317.3h0M420 302.6h0M420 306.2h0M420 230.3h0M420.1 295.4h0M420.1 233h0M420.1 288.2h0M420.1 242.9h0M420.1 247.4h0M420.1 292.7h0M420.1 312.5h0M420.2 296.3h0M420.2 304.4h0M420.2 311.6h0M420.2 234.8h0M420.2 313.4h0M420.3 233.9h0M420.3 301.1h0M420.3 293h0M420.4 298.4h0M420.4 299.3h0M420.4 291.2h0M420.4 247.4h0M420.4 250.1h0M420.4 305.6h0M420.4 300.2h0M420.4 249.2h0M420.4 243.8h0M420.5 317.3h0M420.5 295.7h0M420.5 302h0M420.5 290.3h0M420.5 228.5h0M420.5 238.4h0M420.5 224.9h0M420.5 252.6h0M420.5 317.7h0M420.5 307.4h0M420.5 229.4h0M420.6 232.1h0M420.6 248.3h0M420.6 241.1h0M420.6 230.3h0M420.6 224.9h0M420.6 293.9h0M420.6 252.8h0M420.7 246.5h0M420.7 237.5h0M420.7 240.2h0M420.7 227.6h0M420.8 295.1h0M420.8 296.9h0M420.8 225h0M420.8 227.7h0M420.9 304.1h0M420.9 231.3h0M420.9 313.1h0M420.9 243h0M420.9 309.5h0M420.9 292.4h0M420.9 249.3h0M420.9 298.7h0M420.9 308.6h0M420.9 252.9h0M420.9 299.6h0M421 225.9h0M421 290.6h0M421 234.9h0M421 224.2h0M421 253.5h0M421 286.5h0M421 318.1h0M421 289.7h0M421 236.7h0M421 305.9h0M421 248.4h0M421 291.5h0M421 302.3h0M421.1 305h0M421.1 287h0M421.1 316.7h0M421.1 314h0M421.1 250.2h0M421.1 297.8h0M421.2 243.9h0M421.2 232.2h0M421.3 302h0M421.3 299.3h0M421.3 311.9h0M421.4 237.4h0M421.4 313.7h0M421.4 287.6h0M421.4 293.9h0M421.4 250h0M421.4 316.4h0M421.4 310.1h0M421.4 231.1h0M421.4 243.7h0M421.4 288.5h0M421.4 233.8h0M421.4 235.6h0M421.4 315.5h0M421.4 226.6h0M421.5 289.4h0M421.5 224.8h0M421.5 224.2h0M421.5 253.6h0M421.5 318.6h0M421.5 314.6h0M421.5 250.9h0M421.5 247.3h0M421.5 302.9h0M421.5 312.8h0M421.5 308.3h0M421.6 234.7h0M421.6 303.8h0M421.6 294.8h0M421.6 244.6h0M421.6 245.5h0M421.6 318.2h0M421.6 300.2h0M421.6 295.7h0M421.6 251.8h0M421.7 229.3h0M421.7 228.4h0M421.7 286.7h0M421.7 252.7h0M421.7 307.4h0M421.7 246.4h0M421.7 253.6h0M421.8 246.7h0M421.8 317.1h0M421.8 253.9h0M421.8 230.5h0M421.8 231.4h0M421.8 293.7h0M421.9 291.9h0M421.9 286.5h0M421.9 239.5h0M421.9 305.4h0M421.9 245.8h0M421.9 234.1h0M421.9 302.7h0M421.9 315.3h0M421.9 316.2h0M422 312.6h0M422 290.1h0M422 224.2h0M422 309.9h0M422 254.5h0M422 285.2h0M422 319h0M422 243.1h0M422 295.5h0M422 226h0M422.1 285.6h0M422.1 252.1h0M422.1 287.4h0M422.1 241.3h0M422.1 250.3h0M422.1 318h0M422.1 298.2h0M422.1 240.4h0M422.1 228.7h0M422.1 251.2h0M422.1 289.2h0M422.2 299.1h0M422.2 292.8h0M422.2 236.8h0M422.2 294.6h0M422.2 235h0M422.2 237.7h0M422.3 292.5h0M422.3 250.4h0M422.3 295.2h0M422.3 251.3h0M422.3 317.7h0M422.4 225.2h0M422.4 226.1h0M422.4 232.4h0M422.4 300.6h0M422.4 290.7h0M422.4 252.2h0M422.4 309.6h0M422.5 289.8h0M422.5 316.8h0M422.5 313.2h0M422.5 315h0M422.5 234.2h0M422.5 231.5h0M422.5 228.8h0M422.5 311.4h0M422.5 223.4h0M422.5 254.7h0M422.5 285.3h0M422.5 319.3h0M422.5 314.1h0M422.5 315.9h0M422.5 310.5h0M422.5 242.3h0M422.5 296.1h0M422.5 305.1h0M422.5 318.6h0M422.6 287.1h0M422.6 245h0M422.6 303.3h0M422.6 254h0M422.6 297.9h0M422.6 291.6h0M422.6 312.3h0M422.6 253.1h0M422.6 304.2h0M422.6 293.4h0M422.6 248.6h0M422.6 285.3h0M422.7 301.5h0M422.7 247.7h0M422.7 239.6h0M422.7 299.7h0M422.8 298.2h0M422.9 232.7h0M422.9 229.1h0M422.9 291h0M422.9 294.6h0M422.9 308.1h0M422.9 236.3h0M422.9 289.2h0M422.9 315.3h0M422.9 227.3h0M423 224.6h0M423 226.4h0M423 239.9h0M423 291.9h0M423 222.9h0M423 255.1h0M423 239h0M423 299.1h0M423.1 250.7h0M423.1 248h0M423.1 301.8h0M423.1 300h0M423.1 307.2h0M423.1 244.4h0M423.1 242.6h0M423.2 304.5h0M423.2 235.4h0M423.2 245.3h0M423.2 309.9h0M423.2 317.1h0M423.2 297.3h0M423.2 303.6h0M423.3 306.6h0M423.3 291.3h0M423.3 297.6h0M423.3 285h0M423.3 233.2h0M423.3 247.6h0M423.3 316.5h0M423.3 317.4h0M423.4 304.8h0M423.4 230.5h0M423.4 318.3h0M423.4 290.4h0M423.4 310.2h0M423.4 314.7h0M423.4 292.2h0M423.4 303h0M423.4 312h0M423.5 253h0M423.5 226h0M423.5 302.1h0M423.5 223.3h0M423.5 284.1h0M423.5 222.4h0M423.5 255.8h0M423.5 320.4h0M423.5 232.3h0M423.5 231.4h0M423.5 244h0M423.5 303.9h0M423.5 294.9h0M423.6 253.9h0M423.6 308.4h0M423.6 227.8h0M423.6 299.4h0M423.6 312.9h0M423.6 244.9h0M423.6 249.4h0M423.7 300.3h0M423.7 295.8h0M423.7 309.3h0M423.7 320.1h0M423.7 241.3h0M423.7 315.6h0M423.8 286.3h0M423.8 290.8h0M423.8 293.5h0M423.8 307.9h0M423.9 294.4h0M423.9 314.2h0M423.9 223.5h0M423.9 255.9h0M423.9 306.1h0M423.9 288.1h0M423.9 289.9h0M423.9 287.2h0M423.9 246h0M423.9 311.5h0M423.9 245.1h0M424 246.9h0M424 222h0M424 301.6h0M424 316h0M424 237h0M424 232.5h0M424 310.6h0M424 319.6h0M424 300.7h0M424 248.7h0M424 230.7h0M424.1 253.2h0M424.1 238.8h0M424.1 307h0M424.1 289h0M424.1 298h0M424.1 227.1h0M424.1 285.4h0M424.1 295.3h0M424.1 317.8h0M424.1 235.2h0M424.1 316.9h0M424.1 254.1h0M424.2 315.1h0M424.2 237.9h0M424.2 249.6h0M424.3 291.6h0M424.3 297h0M424.3 305.1h0M424.3 302.4h0M424.3 310.5h0M424.3 303.3h0M424.3 245.5h0M424.4 318.6h0M424.4 250h0M424.4 297.9h0M424.4 239.2h0M424.4 227.5h0M424.4 228.4h0M424.4 308.7h0M424.4 254.5h0M424.4 231.1h0M424.4 222.1h0M424.4 250.9h0M424.5 287.1h0M424.5 252.7h0M424.5 316.8h0M424.5 309.6h0M424.5 295.2h0M424.5 221.6h0M424.5 321.2h0M424.5 319.5h0M424.5 306h0M424.5 300.6h0M424.5 229.3h0M424.5 283.5h0M424.5 235.6h0M424.5 284.4h0M424.5 255.4h0M424.5 288.9h0M424.6 246.4h0M424.6 306.9h0M424.6 296.1h0M424.6 314.1h0M424.6 240.1h0M424.6 242.8h0M424.6 289.8h0M424.6 292.5h0M424.6 248.2h0M424.6 249.1h0M424.7 285.3h0M424.7 244.6h0M424.8 233.4h0M424.8 318.8h0M424.8 248.7h0M424.8 229.8h0M424.8 302.6h0M424.9 252.3h0M424.9 225.3h0M424.9 315.2h0M424.9 303.5h0M424.9 290.9h0M424.9 285.5h0M424.9 289.1h0M424.9 320.6h0M424.9 246h0M424.9 239.7h0M424.9 238.8h0M425 304.4h0M425 254.1h0M425 237h0M425 221.1h0M425 257.1h0M425 321.7h0M425 244.2h0M425 290h0M425 296.3h0M425 300.8h0M425 235.2h0M425.1 282.8h0M425.1 224.4h0M425.1 301.7h0M425.1 241.5h0M425.1 256.8h0M425.1 250.5h0M425.1 223.5h0M425.1 313.4h0M425.1 309.8h0M425.1 251.4h0M425.1 236.1h0M425.1 249.6h0M425.1 245.1h0M425.1 292.7h0M425.2 286.4h0M425.2 284.6h0M425.2 308h0M425.2 253.2h0M425.2 293.6h0M425.2 299.9h0M425.3 321h0M425.3 318.3h0M425.3 288.6h0M425.4 313.8h0M425.4 241.2h0M425.4 302.1h0M425.4 295.8h0M425.4 294.9h0M425.4 251.1h0M425.4 310.2h0M425.4 234.9h0M425.5 316.5h0M425.5 243.9h0M425.5 252.9h0M425.5 286.8h0M425.5 299.4h0M425.5 220.9h0M425.5 257.7h0M425.5 321.7h0M425.5 290.4h0M425.5 311.1h0M425.6 293.1h0M425.6 245.7h0M425.6 235.8h0M425.6 236.7h0M425.6 284.1h0M425.6 294h0M425.6 303.9h0M425.6 314.7h0M425.6 250.2h0M425.6 304.8h0M425.6 309.3h0M425.6 255.6h0M425.6 285h0M425.7 319.2h0M425.7 315.6h0M425.7 225.9h0M425.7 306.6h0M425.8 227.4h0M425.8 244.5h0M425.8 245.4h0M425.8 255.3h0M425.8 234.6h0M425.9 289.4h0M425.9 222.9h0M425.9 316.4h0M425.9 221.1h0M425.9 297.5h0M425.9 250.8h0M425.9 291.2h0M425.9 304.7h0M425.9 313.7h0M425.9 258h0M425.9 293.9h0M425.9 251.7h0M426 249h0M426 220.1h0M426 258.1h0M426 322.1h0M426 237.3h0M426 320.9h0M426 241.8h0M426.1 246.3h0M426.1 284.9h0M426.1 301.1h0M426.1 315.5h0M426.1 288.5h0M426.1 235.5h0M426.1 300.2h0M426.1 232.8h0M426.1 309.2h0M426.2 302.9h0M426.2 293h0M426.2 311.9h0M426.2 295.7h0M426.2 252.6h0M426.3 257.1h0M426.3 316.8h0M426.3 294.3h0M426.4 318.6h0M426.4 299.7h0M426.4 241.8h0M426.4 256.2h0M426.4 317.7h0M426.4 228.3h0M426.4 283.5h0M426.4 309.6h0M426.4 231.9h0M426.5 243.6h0M426.5 314.1h0M426.5 236.4h0M426.5 254.4h0M426.5 235.5h0M426.5 220h0M426.5 258.9h0M426.5 322.5h0M426.5 248.1h0M426.6 250.8h0M426.6 292.5h0M426.6 249.9h0M426.7 291.6h0M426.7 320.4h0M426.7 303.3h0M426.7 290.7h0M426.7 281.7h0M426.7 306.9h0M426.8 298.4h0M426.8 240.5h0M426.8 222.5h0M426.8 315.5h0M426.9 292.1h0M426.9 289.4h0M426.9 255.8h0M426.9 244.1h0M426.9 305.6h0M426.9 294.8h0M426.9 304.7h0M426.9 297.5h0M427 231.5h0M427 223.4h0M427 230.6h0M427 247.7h0M427 288.5h0M427 296.6h0M427 254.9h0M427 251.3h0M427 280.5h0M427 323.3h0M427 239.6h0M427 313.7h0M427 320.9h0M427 245.9h0M427 248.6h0M427.1 317.3h0M427.1 311.9h0M427.1 303.8h0M427.1 235.1h0M427.1 258.5h0M427.1 234.2h0M427.1 219.8h0M427.1 295.7h0M427.1 245h0M427.1 286.7h0M427.1 312.8h0M427.1 250.4h0M427.2 284h0M427.2 256.7h0M427.2 238.7h0M427.2 290.3h0M427.2 309.2h0M427.2 249.5h0M427.2 307.4h0M427.2 322.7h0M427.3 226.8h0M427.4 259.2h0M427.4 283.4h0M427.4 311.3h0M427.4 287h0M427.4 240.3h0M427.4 291.5h0M427.4 298.7h0M427.4 310.4h0M427.4 285.2h0M427.4 313.1h0M427.5 231.3h0M427.5 249.3h0M427.5 233.1h0M427.5 232.2h0M427.5 322.1h0M427.5 304.1h0M427.5 248.4h0M427.5 279.8h0M427.5 286.1h0M427.5 258.3h0M427.5 235.8h0M427.6 244.8h0M427.6 252.9h0M427.6 296.9h0M427.6 306.8h0M427.6 225.9h0M427.6 293.3h0M427.6 280.7h0M427.6 296h0M427.6 297.8h0M427.6 245.7h0M427.6 255.6h0M427.6 292.4h0M427.6 243h0M427.6 299.6h0M427.7 251.1h0M427.7 246.6h0M427.7 312.2h0M427.8 244.2h0M427.8 317.7h0M427.8 320.4h0M427.8 248.7h0M427.8 281.7h0M427.9 242.4h0M427.9 232.5h0M427.9 259.5h0M427.9 256.8h0M427.9 279.9h0M427.9 306h0M428 301.5h0M428 322.2h0M428 227.1h0M428 300.6h0M428 258.6h0M428 219h0M428 323.8h0M428 321.3h0M428 313.2h0M428 287.1h0M428 246h0M428 315.9h0M428 219h0M428 249.6h0M428.1 290.7h0M428.1 309.6h0M428.1 296.1h0M428.1 230.7h0M428.1 243.3h0M428.1 310.5h0M428.1 233.4h0M428.1 319.5h0M428.1 293.4h0M428.2 254.1h0M428.2 234.3h0M428.2 240.6h0M428.2 305.1h0M428.3 286h0M428.3 245.7h0M428.3 309.4h0M428.3 260.1h0M428.3 299.5h0M428.3 283.3h0M428.3 256.5h0M428.4 252.9h0M428.4 296.8h0M428.4 281.5h0M428.4 243h0M428.4 323.8h0M428.4 286.9h0M428.4 282.4h0M428.4 248.4h0M428.4 247.5h0M428.4 285.1h0M428.4 255.6h0M428.4 228.6h0M428.4 312.1h0M428.4 253.8h0M428.5 243.9h0M428.5 298.6h0M428.5 304.9h0M428.5 218.6h0M428.5 279h0M428.5 324.5h0M428.5 232.2h0M428.5 236.7h0M428.5 218.7h0M428.5 246.6h0M428.5 257.4h0M428.6 252h0M428.6 225.9h0M428.6 295.9h0M428.6 251.1h0M428.6 291.4h0M428.6 242.1h0M428.7 310.3h0M428.7 241.2h0M428.7 316.6h0M428.7 289.6h0M428.8 311.5h0M428.8 248.2h0M428.8 290.8h0M428.8 283.6h0M428.8 303.4h0M428.9 287.2h0M428.9 307h0M428.9 238.3h0M428.9 314.2h0M428.9 255.4h0M428.9 221.2h0M428.9 256.3h0M428.9 292.6h0M429 289h0M429 297.1h0M429 294.4h0M429 261h0M429 278.3h0M429 324.8h0M429 284.5h0M429 223.9h0M429 298.9h0M429 317.8h0M429 254.5h0M429 245.5h0M429.1 244.6h0M429.1 229.3h0M429.1 315.1h0M429.1 321.4h0M429.1 258.1h0M429.1 310.6h0M429.1 250h0M429.1 318.7h0M429.1 250.9h0M429.1 305.2h0M429.1 240.1h0M429.1 281.8h0M429.2 246.4h0M429.2 228.4h0M429.2 236.5h0M429.2 235.6h0M429.3 289.2h0M429.3 283.8h0M429.3 234.9h0M429.3 303.6h0M429.3 294.6h0M429.4 238.5h0M429.4 293.7h0M429.4 284.7h0M429.4 253.8h0M429.4 282.9h0M429.4 282h0M429.4 223.2h0M429.4 250.2h0M429.4 244.8h0M429.4 300.9h0M429.4 249.3h0M429.5 309h0M429.5 242.1h0M429.5 314.4h0M429.5 222.3h0M429.5 217.5h0M429.5 261.6h0M429.5 325.2h0M429.5 286.5h0M429.5 260.1h0M429.5 255.6h0M429.5 305.4h0M429.5 259.2h0M429.5 309.9h0M429.6 285.6h0M429.6 313.5h0M429.6 235.8h0M429.6 248.4h0M429.6 291h0M429.6 295.5h0M429.7 225.9h0M429.7 288.3h0M429.7 240.3h0M429.7 278.4h0M429.7 300h0M429.7 318.9h0M429.8 238.8h0M429.8 301.2h0M429.8 254.1h0M429.8 292.2h0M429.8 255.9h0M429.9 221.7h0M429.9 297.6h0M429.9 312h0M429.9 258.6h0M429.9 285.9h0M429.9 237.9h0M429.9 218.1h0M429.9 262.2h0M430 279.6h0M430 222.6h0M430 217.4h0M430 262.7h0M430 325.4h0M430 285h0M430 313.8h0M430 318.3h0M430 315.6h0M430 286.8h0M430 291.3h0M430.1 250.5h0M430.1 294.9h0M430.1 320.1h0M430.1 282.3h0M430.1 295.8h0M430.1 257.7h0M430.1 307.5h0M430.1 244.2h0M430.1 311.1h0M430.1 278.7h0M430.1 241.5h0M430.2 251.4h0M430.2 260.4h0M430.2 248.7h0M430.2 219.9h0M430.3 304.9h0M430.3 244.2h0M430.3 298.6h0M430.3 321.1h0M430.3 284.2h0M430.3 322.9h0M430.3 249.6h0M430.4 277.9h0M430.4 314.8h0M430.4 288.7h0M430.4 290.5h0M430.4 286h0M430.4 295.9h0M430.4 220.8h0M430.4 260.4h0M430.4 297.7h0M430.4 259.5h0M430.4 255h0M430.4 243.3h0M430.5 239.7h0M430.5 309.4h0M430.5 277h0M430.5 316.6h0M430.5 216.5h0M430.5 263.3h0M430.5 276.7h0M430.5 326.2h0M430.5 295h0M430.5 263.1h0M430.5 253.2h0M430.6 287.8h0M430.6 324.7h0M430.6 300.4h0M430.6 262.2h0M430.6 315.7h0M430.6 296.8h0M430.6 302.2h0M430.6 280.6h0M430.6 293.2h0M430.6 245.1h0M430.6 310.3h0M430.7 257.7h0M430.7 224.4h0M430.7 323.8h0M430.7 306.7h0M430.8 259h0M430.8 302h0M430.8 228.4h0M430.8 277.7h0M430.8 247.3h0M430.8 291.2h0M430.9 288.5h0M430.9 257.2h0M430.9 290.3h0M430.9 319.1h0M430.9 318.2h0M430.9 287.6h0M430.9 309.2h0M430.9 286.7h0M430.9 311.9h0M430.9 299.3h0M430.9 253.6h0M430.9 304.7h0M430.9 320h0M431 283.1h0M431 298.4h0M431 223.9h0M431 261.7h0M431 220.3h0M431 317.3h0M431 284.9h0M431 284h0M431 250h0M431 216.2h0M431 263.8h0M431 276.2h0M431 216.7h0M431 255.4h0M431 306.5h0M431 249.1h0M431 259.9h0M431 251.8h0M431 245.5h0M431 239.2h0M431.1 254.5h0M431.1 279.5h0M431.1 262.6h0M431.1 289.4h0M431.1 282.2h0M431.1 320.9h0M431.1 300.2h0M431.1 312.8h0M431.2 246.4h0M431.2 227.5h0M431.2 221.2h0M431.2 311h0M431.2 232h0M431.2 303.8h0M431.2 276.8h0M431.2 242.8h0M431.3 302.4h0M431.3 225.2h0M431.3 298.8h0M431.3 245h0M431.3 304.2h0M431.3 285.3h0M431.3 305.1h0M431.3 310.5h0M431.4 250.4h0M431.4 238.7h0M431.4 275.4h0M431.4 287.1h0M431.4 293.4h0M431.4 288h0M431.4 301.5h0M431.4 227.9h0M431.4 248.6h0M431.4 218.9h0M431.5 292.5h0M431.5 252.2h0M431.5 290.7h0M431.5 227h0M431.5 320.4h0M431.5 291.6h0M431.5 229.7h0M431.5 318.6h0M431.5 215.8h0M431.5 275.3h0M431.5 326.4h0M431.5 308.7h0M431.5 244.1h0M431.5 259.4h0M431.5 280.8h0M431.5 262.1h0M431.6 286.2h0M431.6 279h0M431.6 315.9h0M431.6 249.5h0M431.6 316.8h0M431.6 239.6h0M431.6 245.9h0M431.6 254h0M431.6 279.9h0M431.6 251.3h0M431.7 311.4h0M431.7 288.9h0M431.7 228.8h0M431.7 306.9h0M431.7 284.4h0M431.7 237.8h0M431.8 297.2h0M431.8 306.2h0M431.8 262.6h0M431.8 285.5h0M431.8 242.8h0M431.8 289.1h0M431.8 286.4h0M431.9 256.3h0M431.9 235.6h0M431.9 257.2h0M431.9 250h0M431.9 315.2h0M431.9 244.6h0M431.9 317.9h0M431.9 325.1h0M432 281.9h0M432 316.1h0M432 312.5h0M432 274.7h0M432 247.3h0M432 215.9h0M432 265.3h0M432 274.9h0M432 326.7h0M432 251.8h0M432 276.5h0M432 298.1h0M432 249.1h0M432 299.9h0M432 321.5h0M432.1 323.3h0M432.1 303.5h0M432.1 322.4h0M432.1 279.2h0M432.1 281h0M432.1 290.9h0M432.1 301.7h0M432.1 280.1h0M432.1 246.4h0M432.1 253.6h0M432.1 288.2h0M432.1 278.3h0M432.1 320.6h0M432.1 308.9h0M432.1 231.1h0M432.2 326h0M432.2 275.6h0M432.2 290h0M432.2 319.7h0M432.2 291.8h0M432.2 282.8h0M432.3 250.1h0M432.3 265.4h0M432.3 236.6h0M432.3 252.8h0M432.3 251h0M432.4 277h0M432.4 239.3h0M432.4 256.4h0M432.4 297.7h0M432.4 277.9h0M432.4 255.5h0M432.4 307.6h0M432.4 308.5h0M432.4 302.2h0M432.4 289.6h0M432.4 260h0M432.5 296.8h0M432.5 281.5h0M432.5 253.7h0M432.5 262.7h0M432.5 290.5h0M432.5 225.8h0M432.5 228.5h0M432.5 301.3h0M432.5 257.3h0M432.5 215.3h0M432.5 265.9h0M432.5 274.2h0M432.5 327.2h0M432.5 315.7h0M432.5 288.7h0M432.6 313.9h0M432.6 275.2h0M432.6 295.9h0M432.6 279.7h0M432.6 304h0M432.6 223.1h0M432.6 280.6h0M432.6 311.2h0M432.6 285.1h0M432.6 249.2h0M432.6 312.1h0M432.6 244.7h0M432.6 241.1h0M432.6 282.4h0M432.6 231.2h0M432.6 303.1h0M432.7 264.5h0M432.7 251.9h0M432.7 324.7h0M432.7 260.9h0M432.7 286.9h0M432.7 254.6h0M432.8 258.4h0M432.8 262.9h0M432.8 247.6h0M432.9 301.5h0M432.9 265.6h0M432.9 298.8h0M432.9 288.9h0M432.9 294.3h0M432.9 282.6h0M432.9 249.4h0M433 305.1h0M433 233.2h0M433 322.2h0M433 278.1h0M433 315h0M433 242.2h0M433 257.5h0M433 296.1h0M433 267.2h0M433 327.7h0M433 309.6h0M433 256.6h0M433 310.5h0M433 254.8h0M433 280.8h0M433.1 281.7h0M433.1 253.9h0M433.1 244.9h0M433.1 248.5h0M433.1 277.2h0M433.1 244h0M433.1 234.1h0M433.1 312.3h0M433.1 260.2h0M433.1 285.3h0M433.1 290.7h0M433.1 284.4h0M433.1 255.7h0M433.1 276.3h0M433.1 303.3h0M433.2 279.9h0M433.2 266.5h0M433.2 287.1h0M433.3 246.2h0M433.3 254.3h0M433.3 317.5h0M433.3 251.6h0M433.3 290.5h0M433.4 281.5h0M433.4 322h0M433.4 258.8h0M433.4 293.2h0M433.4 267.8h0M433.4 217.4h0M433.4 274.3h0M433.4 278.8h0M433.4 320.2h0M433.4 257h0M433.4 292.3h0M433.4 234.5h0M433.4 313.9h0M433.4 289.6h0M433.4 277h0M433.4 248.9h0M433.4 282.4h0M433.4 230h0M433.4 238.1h0M433.4 245.3h0M433.5 247.1h0M433.5 285.1h0M433.5 300.4h0M433.5 312.1h0M433.5 241.7h0M433.5 253.4h0M433.5 276.1h0M433.5 214.2h0M433.5 272.2h0M433.5 264.2h0M433.5 261.5h0M433.5 244.4h0M433.5 286h0M433.5 252.5h0M433.5 221.9h0M433.5 249.8h0M433.5 266.9h0M433.5 250.7h0M433.5 266h0M433.6 323.8h0M433.6 304h0M433.6 255.2h0M433.6 296.8h0M433.6 324.7h0M433.6 280.6h0M433.6 318.4h0M433.6 220.1h0M433.7 240.8h0M433.7 263.3h0M433.7 256.1h0M433.7 214.7h0M433.7 275.2h0M433.8 303.8h0M433.8 220.5h0M433.8 256.5h0M433.8 282.2h0M433.8 266.4h0M433.8 244.8h0M433.8 286.7h0M433.9 245.7h0M433.9 268.2h0M433.9 279.5h0M433.9 313.7h0M433.9 243h0M433.9 250.2h0M433.9 284h0M433.9 276.8h0M433.9 246.6h0M433.9 320h0M433.9 293h0M434 267.3h0M434 316.4h0M434 237.6h0M434 258.3h0M434 251.1h0M434 214h0M434 269.3h0M434 271.1h0M434 328.3h0M434 275.9h0M434 278.6h0M434 281.3h0M434 320.9h0M434 323.6h0M434 294.8h0M434.1 273.2h0M434.1 285.8h0M434.1 216h0M434.1 264.6h0M434.1 289.4h0M434.1 254.7h0M434.1 326.3h0M434.1 288.5h0M434.1 283.1h0M434.1 292.1h0M434.1 298.4h0M434.1 319.1h0M434.2 272.3h0M434.2 275h0M434.2 249.3h0M434.2 261.9h0M434.2 317.3h0M434.2 228.6h0M434.2 255.6h0M434.3 282.7h0M434.3 269.3h0M434.3 309.7h0M434.3 281.8h0M434.3 295.3h0M434.3 270.1h0M434.3 318.7h0M434.3 307.9h0M434.4 322.3h0M434.4 321.4h0M434.4 290.8h0M434.4 299.8h0M434.4 319.6h0M434.4 245.9h0M434.4 316h0M434.4 304.3h0M434.4 280h0M434.4 236.9h0M434.4 316.9h0M434.4 305.2h0M434.4 325.9h0M434.4 287.2h0M434.5 264.8h0M434.5 276.4h0M434.5 291.7h0M434.5 232.4h0M434.5 283.6h0M434.5 314.2h0M434.5 298.9h0M434.5 269.8h0M434.5 269.9h0M434.5 328.6h0M434.5 267.5h0M434.5 268.4h0M434.5 315.1h0M434.5 257.6h0M434.5 253.1h0M434.6 221.6h0M434.6 288.1h0M434.6 263.9h0M434.6 250.4h0M434.6 307h0M434.6 259.4h0M434.6 262.1h0M434.6 254.9h0M434.6 272.8h0M434.6 249.5h0M434.6 246.8h0M434.6 245h0M434.7 285.4h0M434.7 292.6h0M434.7 284.5h0M434.7 293.5h0M434.7 258.5h0M434.8 305.5h0M434.8 291.1h0M434.8 214.1h0M434.9 276.7h0M434.9 260h0M434.9 321.7h0M434.9 282.1h0M434.9 300.1h0M434.9 266.3h0M434.9 327.1h0M434.9 294.7h0M434.9 279.4h0M434.9 228.5h0M434.9 233h0M434.9 239.3h0M435 242.9h0M435 309.1h0M435 301.9h0M435 283.9h0M435 287.5h0M435 213.4h0M435 269.8h0M435 269.8h0M435 313.6h0M435 319.9h0M435 274h0M435 306.4h0M435 271.3h0M435 258.2h0M435 301h0M435.1 268.1h0M435.1 324.4h0M435.1 260.9h0M435.1 252.8h0M435.1 308.2h0M435.1 247.4h0M435.1 288.4h0M435.1 265.4h0M435.1 292.9h0M435.1 290.2h0M435.1 231.2h0M435.1 263.6h0M435.1 244.7h0M435.1 261.8h0M435.1 286.6h0M435.1 289.3h0M435.1 269.9h0M435.1 297.4h0M435.1 312.7h0M435.2 250.1h0M435.2 284.8h0M435.2 222.2h0M435.2 270.4h0M435.2 262.7h0M435.3 285.1h0M435.3 250.3h0M435.3 254.8h0M435.3 258.4h0M435.3 282.4h0M435.3 304h0M435.3 328.3h0M435.3 253.9h0M435.3 249.4h0M435.3 274.3h0M435.4 262h0M435.4 310.3h0M435.4 277h0M435.4 253h0M435.4 252.1h0M435.4 273.4h0M435.5 240.4h0M435.5 262.9h0M435.5 283.3h0M435.5 324.7h0M435.5 244h0M435.5 212.7h0M435.5 269.8h0M435.5 269.9h0M435.5 329h0M435.5 265.6h0M435.5 221.5h0M435.5 286.9h0M435.5 268.3h0M435.5 244.9h0M435.5 235.9h0M435.5 264.7h0M435.5 256.6h0M435.5 271.6h0M435.6 237.7h0M435.6 279.7h0M435.6 275.2h0M435.6 319.3h0M435.6 297.7h0M435.6 247.6h0M435.6 270.7h0M435.6 281.5h0M435.6 276.1h0M435.6 296.8h0M435.6 278.8h0M435.6 269.2h0M435.6 284.2h0M435.6 313.9h0M435.7 224.2h0M435.7 280.6h0M435.7 316.6h0M435.7 286h0M435.7 325.6h0M435.7 321.1h0M435.7 242.2h0M435.7 260.2h0M435.8 279.3h0M435.8 257.3h0M435.8 309.9h0M435.8 302.7h0M435.8 243.8h0M435.8 244.7h0M435.8 285.6h0M435.8 245.6h0M435.8 258.2h0M435.8 269h0M435.9 254.6h0M435.9 269.9h0M435.9 284.7h0M435.9 323.4h0M435.9 260h0M435.9 261.8h0M435.9 240.2h0M435.9 321.6h0M435.9 286.5h0M435.9 263.6h0M436 298.2h0M436 299.1h0M436 262.7h0M436 250.1h0M436 249.2h0M436 212.7h0M436 329h0M436 295.5h0M436 275.7h0M436 320.7h0M436.1 288.3h0M436.1 218.6h0M436.1 266.3h0M436.1 256.4h0M436.1 287.4h0M436.1 252.8h0M436.1 213.2h0M436.1 300h0M436.1 318.9h0M436.1 235.7h0M436.1 296.4h0M436.1 251.9h0M436.1 281.1h0M436.2 314.4h0M436.2 282h0M436.2 242.9h0M436.2 259.1h0M436.2 270.3h0M436.2 267.2h0M436.3 308.6h0M436.4 277.1h0M436.4 328.4h0M436.4 278h0M436.4 309.5h0M436.4 268.5h0M436.4 285.2h0M436.4 281.6h0M436.4 269.4h0M436.4 262.2h0M436.4 264.9h0M436.4 323h0M436.4 280.7h0M436.4 298.7h0M436.5 327.5h0M436.5 242.4h0M436.5 314h0M436.5 251.4h0M436.5 256.8h0M436.5 212.2h0M436.5 329.8h0M436.5 252.3h0M436.5 264h0M436.5 284.3h0M436.6 311.3h0M436.6 243.3h0M436.6 245.1h0M436.6 310.4h0M436.6 255.9h0M436.6 255h0M436.6 257.7h0M436.6 258.6h0M436.6 319.4h0M436.6 290.6h0M436.6 278.9h0M436.6 263.1h0M436.6 249.6h0M436.7 275.3h0M436.7 301.4h0M436.7 247.8h0M436.7 237h0M436.7 306.8h0M436.8 243.9h0M436.8 248.4h0M436.8 256.5h0M436.8 297.3h0M436.9 258.3h0M436.9 243h0M436.9 281.1h0M436.9 291.9h0M436.9 295.5h0M436.9 237.6h0M436.9 282.9h0M436.9 283.8h0M436.9 329.7h0M436.9 247.5h0M437 292.8h0M437 252.9h0M437 268.2h0M437 211.4h0M437 267.3h0M437 275.7h0M437 324.3h0M437 261.9h0M437.1 298.2h0M437.1 249.3h0M437.1 316.2h0M437.1 262.8h0M437.1 242.1h0M437.1 325.2h0M437.1 252h0M437.1 236.7h0M437.1 265.5h0M437.1 282h0M437.1 257.4h0M437.1 293.7h0M437.1 244.8h0M437.1 277.5h0M437.1 296.4h0M437.1 312.6h0M437.2 288.3h0M437.2 264.6h0M437.2 216h0M437.2 291h0M437.2 274.8h0M437.2 255.6h0M437.3 313.4h0M437.3 266.1h0M437.3 317.9h0M437.3 274.7h0M437.3 220.2h0M437.3 299.9h0M437.3 226.5h0M437.4 289.1h0M437.4 267h0M437.4 280.1h0M437.4 293.6h0M437.4 214.8h0M437.4 254.4h0M437.4 307.1h0M437.4 238.2h0M437.4 309.8h0M437.4 268.8h0M437.4 312.5h0M437.4 315.2h0M437.4 290.9h0M437.5 260.7h0M437.5 262.5h0M437.5 250.8h0M437.5 272h0M437.5 324.2h0M437.5 290h0M437.5 253.5h0M437.5 245.4h0M437.5 318.8h0M437.5 330.2h0M437.5 252.6h0M437.5 273.8h0M437.5 255.3h0M437.5 320.6h0M437.6 319.7h0M437.6 285.5h0M437.6 258.9h0M437.6 258h0M437.6 257.1h0M437.6 281h0M437.6 251.7h0M437.6 267.9h0M437.6 247.2h0M437.6 275.6h0M437.6 270.2h0M437.6 217.5h0M437.6 314.3h0M437.6 244.5h0M437.7 279.2h0M437.7 265.2h0M437.7 298.1h0M437.7 213.9h0M437.7 287.3h0M437.7 328.7h0M437.7 297.2h0M437.7 292.7h0M437.8 268.2h0M437.8 258.3h0M437.9 235.8h0M437.9 256.5h0M437.9 279.8h0M437.9 255.6h0M437.9 263.7h0M437.9 243.9h0M437.9 246.6h0M437.9 270.8h0M437.9 271.7h0M437.9 312.2h0M438 329.3h0M438 284.3h0M438 251.1h0M438 247.5h0M438 266.4h0M438 330.3h0M438 237.6h0M438 278h0M438 283.4h0M438 301.4h0M438 249.3h0M438 307.7h0M438 278.9h0M438.1 257.4h0M438.1 309.5h0M438.1 211.5h0M438.1 287h0M438.1 277.1h0M438.1 242.1h0M438.1 302.3h0M438.1 285.2h0M438.1 252.9h0M438.1 265.5h0M438.1 217.8h0M438.1 288.8h0M438.1 273.5h0M438.2 281.6h0M438.2 303.2h0M438.2 248.4h0M438.3 236.6h0M438.3 246.5h0M438.3 269h0M438.3 243.8h0M438.3 244.7h0M438.3 284h0M438.3 258.2h0M438.4 286.7h0M438.4 275h0M438.4 241.1h0M438.4 268.1h0M438.4 275.9h0M438.4 211.4h0M438.4 267.2h0M438.4 274.1h0M438.4 289.4h0M438.4 301.1h0M438.4 309.2h0M438.5 272.3h0M438.5 250.1h0M438.5 254.6h0M438.5 325.4h0M438.5 257.3h0M438.5 283.1h0M438.5 303.8h0M438.5 210.8h0M438.5 330.4h0M438.5 242.9h0M438.5 282.2h0M438.5 315.5h0M438.6 247.4h0M438.6 318.2h0M438.6 249.2h0M438.6 238.4h0M438.6 287.6h0M438.6 288.5h0M438.6 293.9h0M438.6 251.9h0M438.6 285.8h0M438.6 269.9h0M438.6 313.7h0M438.6 294.8h0M438.7 307.4h0M438.7 263.6h0M438.7 276.8h0M438.7 284.9h0M438.8 326.7h0M438.8 265.7h0M438.8 291.6h0M438.8 277.2h0M438.8 279.9h0M438.8 297.9h0M438.8 255.8h0M438.9 254h0M438.9 304.2h0M438.9 316.8h0M438.9 287.1h0M438.9 295.2h0M438.9 250.4h0M438.9 311.4h0M438.9 283.5h0M438.9 238.7h0M438.9 266.6h0M438.9 220.7h0M438.9 293.4h0M438.9 272.7h0M439 271.8h0M439 224.3h0M439 248.6h0M439 282.6h0M439 267.5h0M439 308.7h0M439 273.6h0M439 210.2h0M439 257.6h0M439 259.4h0M439.1 319.5h0M439.1 281.7h0M439.1 256.7h0M439.1 269.3h0M439.1 264.8h0M439.1 245h0M439.1 268.4h0M439.1 285.3h0M439.1 317.7h0M439.1 279h0M439.1 239.6h0M439.1 292.5h0M439.2 247.7h0M439.2 325.8h0M439.2 263.9h0M439.2 246.8h0M439.2 284.4h0M439.2 310.5h0M439.2 254.9h0M439.3 253.6h0M439.3 271.2h0M439.3 274.8h0M439.3 277.5h0M439.3 318.9h0M439.3 238.3h0M439.3 256.3h0M439.4 211.3h0M439.4 299.1h0M439.4 260.8h0M439.4 270.3h0M439.4 318h0M439.4 241h0M439.4 226.6h0M439.4 268h0M439.4 275.7h0M439.4 265.3h0M439.5 303.6h0M439.5 306.3h0M439.5 258.1h0M439.5 319.8h0M439.5 255.4h0M439.5 301.8h0M439.5 324.3h0M439.5 311.7h0M439.6 236.5h0M439.6 287.4h0M439.6 219.4h0M439.6 223.9h0M439.6 322.5h0M439.6 286.5h0M439.6 282.9h0M439.6 285.6h0M439.6 297.3h0M439.6 292.8h0M439.6 288.3h0M439.6 259h0M439.6 254.5h0M439.7 296.4h0M439.7 244.6h0M439.7 245.5h0M439.7 327.9h0M439.7 266.2h0M439.7 249.1h0M439.7 294.6h0M439.8 250.3h0M439.8 292.3h0M439.8 313h0M439.8 256.6h0M439.9 279.7h0M439.9 299.5h0M439.9 308.5h0M439.9 307.6h0M439.9 313.9h0M439.9 258.4h0M439.9 255.7h0M439.9 274.3h0M439.9 278.8h0M439.9 267.4h0M439.9 264.7h0M439.9 244.9h0M440 268.3h0M440 246.7h0M440 273.4h0M440 244h0M440 260.2h0M440 209.2h0M440 281.5h0M440 275.2h0M440 287.8h0M440 243.1h0M440.1 324.7h0M440.1 239.5h0M440.1 276.1h0M440.1 285.1h0M440.1 242.2h0M440.1 296.8h0M440.1 306.7h0M440.1 262.9h0M440.1 316.6h0M440.1 247.6h0M440.1 280.6h0M440.1 295h0M440.1 272.5h0M440.1 253.9h0M440.2 251.2h0M440.2 327.4h0M440.2 245.8h0M440.2 290.5h0M440.3 263.5h0M440.3 294.6h0M440.3 301.8h0M440.3 250.9h0M440.3 277.5h0M440.3 255.4h0M440.4 267.1h0M440.4 260.8h0M440.4 324.3h0M440.4 300.9h0M440.4 269.8h0M440.4 254.5h0M440.4 251.8h0M440.4 236.5h0M440.4 296.4h0M440.4 326.1h0M440.4 268h0M440.4 282.9h0M440.4 313.5h0M440.4 315.3h0M440.5 306.3h0M440.5 290.1h0M440.5 304.5h0M440.5 272.1h0M440.5 265.3h0M440.5 276.6h0M440.5 253.6h0M440.5 248.2h0M440.5 331.2h0M440.5 293.7h0M440.5 258.1h0M440.5 286.5h0M440.6 327.9h0M440.6 283.8h0M440.6 247.3h0M440.6 259.9h0M440.6 209.5h0M440.6 285.6h0M440.6 244.6h0M440.6 291h0M440.7 239.2h0M440.7 261.7h0M440.7 299.1h0M440.7 241.9h0M440.7 282h0M440.7 245.5h0M440.8 281.5h0M440.8 264.8h0M440.8 269.3h0M440.8 250.4h0M440.8 296.8h0M440.8 298.6h0M440.8 261.2h0M440.9 277h0M440.9 293.2h0M440.9 329.2h0M440.9 227h0M440.9 252.2h0M440.9 272.5h0M440.9 251.3h0M440.9 241.4h0M440.9 273.4h0M440.9 267.5h0M440.9 263h0M440.9 256.7h0M440.9 245.9h0M440.9 280.6h0M440.9 275.2h0M441 278.8h0M441 297.7h0M441 236.9h0M441 262.1h0M441 257.6h0M441 246.8h0M441 208.7h0M441 310.3h0M441 274.3h0M441 242.3h0M441 247.7h0M441.1 289.6h0M441.1 249.5h0M441.1 286.9h0M441.1 286h0M441.1 259.4h0M441.1 254h0M441.1 253.1h0M441.1 282.4h0M441.1 294.1h0M441.2 322h0M441.2 276.1h0M441.2 284.2h0M441.2 265.7h0M441.2 309.4h0M441.2 248.6h0M441.2 288.7h0M441.2 320.2h0M441.2 295.9h0M441.2 254.9h0M441.2 324.7h0M441.2 255.8h0M441.3 287.4h0M441.3 275.7h0M441.3 262.1h0M441.3 292.8h0M441.3 314.4h0M441.3 256.7h0M441.3 243.2h0M441.4 250.4h0M441.4 246.8h0M441.4 254.9h0M441.4 241.4h0M441.4 284.7h0M441.4 273.9h0M441.4 236h0M441.4 211.7h0M441.4 297.3h0M441.4 272.1h0M441.4 242.3h0M441.5 282.9h0M441.5 316.2h0M441.5 265.7h0M441.5 208.2h0M441.5 332h0M441.5 259.4h0M441.5 239.6h0M441.5 291h0M441.5 254h0M441.5 263.9h0M441.5 327.9h0M441.5 277.5h0M441.6 245.9h0M441.6 328.8h0M441.6 279.3h0M441.6 285.6h0M441.6 313.5h0M441.6 267.5h0M441.6 298.2h0M441.6 258.5h0M441.6 245h0M441.7 289.2h0M441.7 263h0M441.7 294.6h0M441.7 276.6h0M441.7 255.8h0M441.7 251.3h0M441.8 241.9h0M441.8 283.7h0M441.8 289.1h0M441.8 282.8h0M441.9 246.4h0M441.9 299h0M441.9 252.7h0M441.9 277.4h0M441.9 254.5h0M441.9 323.3h0M441.9 260.8h0M441.9 239.2h0M441.9 249.1h0M441.9 256.3h0M441.9 269.8h0M441.9 326.9h0M441.9 296.3h0M441.9 278.3h0M441.9 273.8h0M441.9 265.3h0M441.9 257.2h0M442 263.5h0M442 275.6h0M442 274.7h0M442 292.7h0M442 326h0M442 332h0M442 308h0M442 329.6h0M442 251.8h0M442 268h0M442 287.3h0M442 266.2h0M442 324.2h0M442 259.9h0M442.1 312.5h0M442.1 253.6h0M442.1 330.5h0M442.1 243.7h0M442.1 272h0M442.1 281.9h0M442.1 250.9h0M442.1 307.1h0M442.1 311.6h0M442.2 261.7h0M442.2 248.2h0M442.2 314.3h0M442.2 271.1h0M442.2 258.1h0M442.2 286.4h0M442.3 291.1h0M442.3 277.6h0M442.3 278.5h0M442.3 233.3h0M442.3 250.4h0M442.3 247.7h0M442.3 249.5h0M442.3 266.6h0M442.4 283.9h0M442.4 239.6h0M442.4 292.9h0M442.4 310h0M442.4 251.3h0M442.4 319h0M442.4 286.6h0M442.4 267.5h0M442.4 289.3h0M442.4 269.3h0M442.4 258.5h0M442.4 257.6h0M442.4 256.7h0M442.4 275.8h0M442.5 268.4h0M442.5 263h0M442.5 255.8h0M442.5 273.1h0M442.5 244.1h0M442.5 253.1h0M442.5 207.9h0M442.5 332.4h0M442.5 261.2h0M442.5 245h0M442.5 246.8h0M442.5 209.9h0M442.5 287.5h0M442.5 281.2h0M442.5 271.3h0M442.6 295.6h0M442.6 282.1h0M442.6 320.8h0M442.6 283h0M442.6 265.7h0M442.6 279.4h0M442.6 290.2h0M442.6 214.4h0M442.6 307.3h0M442.7 280.3h0M442.7 252.2h0M442.7 260.3h0M442.7 220.7h0M442.7 272.2h0M442.7 254.9h0M442.8 297.7h0M442.8 241.8h0M442.8 268.8h0M442.8 254.4h0M442.8 252.6h0M442.8 269.7h0M442.8 281.5h0M442.8 288.7h0M442.9 249h0M442.9 314.8h0M442.9 284.2h0M442.9 259.8h0M442.9 267h0M442.9 261.6h0M442.9 251.7h0M442.9 279.7h0M442.9 289.6h0M442.9 325.6h0M442.9 244.5h0M442.9 283.3h0M443 282.4h0M443 293.2h0M443 263.4h0M443 260.7h0M443 253.5h0M443 302.2h0M443 332.5h0M443 310.3h0M443 246.3h0M443 243.6h0M443 250.8h0M443 258.9h0M443 286.9h0M443.1 240h0M443.1 322h0M443.1 277.9h0M443.1 275.2h0M443.1 286h0M443.1 242.7h0M443.1 295h0M443.1 257.1h0M443.1 245.4h0M443.2 248.1h0M443.2 280.6h0M443.2 270.7h0M443.2 231.9h0M443.2 309.4h0M443.2 265.2h0M443.2 312.1h0M443.2 296.8h0M443.3 268h0M443.3 243.7h0M443.3 259h0M443.3 271.9h0M443.3 236.5h0M443.3 250.9h0M443.4 252.7h0M443.4 267.1h0M443.4 268.9h0M443.4 285.4h0M443.4 264.4h0M443.4 331.3h0M443.4 312.4h0M443.4 270.1h0M443.5 296.2h0M443.5 246.4h0M443.5 249.1h0M443.5 286.3h0M443.5 247.3h0M443.5 269.8h0M443.5 288.1h0M443.5 304.3h0M443.5 207.1h0M443.5 332.8h0M443.5 251.8h0M443.5 256.3h0M443.5 272.8h0M443.5 307.9h0M443.5 301.6h0M443.5 293.5h0M443.5 271h0M443.5 245.5h0M443.5 278.2h0M443.5 274.6h0M443.6 284.5h0M443.6 298h0M443.6 280h0M443.6 265.3h0M443.6 254.5h0M443.6 231.1h0M443.6 273.7h0M443.6 320.5h0M443.6 283.6h0M443.6 258.1h0M443.6 237.4h0M443.6 282.7h0M443.6 241.9h0M443.6 295.3h0M443.6 227.5h0M443.6 327.7h0M443.6 263.5h0M443.7 250h0M443.7 253.6h0M443.7 294.4h0M443.7 277.3h0M443.7 280.9h0M443.7 244.6h0M443.7 279.1h0M443.7 275.5h0M443.8 265.6h0M443.8 305.7h0M443.8 309.3h0M443.8 252.1h0M443.8 285h0M443.9 324.6h0M443.9 274.2h0M443.9 242.2h0M443.9 253h0M443.9 241.3h0M443.9 244h0M443.9 280.5h0M443.9 329.1h0M443.9 286.8h0M443.9 284.1h0M443.9 290.4h0M443.9 294.9h0M443.9 264.7h0M444 302.1h0M444 288.6h0M444 275.1h0M444 287.7h0M444 293.1h0M444 263.8h0M444 235.9h0M444 296.7h0M444 206.8h0M444 285.9h0M444 321.9h0M444 282.3h0M444 249.4h0M444 279.6h0M444 257.5h0M444 247.6h0M444.1 213.4h0M444.1 221.5h0M444.1 254.8h0M444.1 292.2h0M444.1 253.9h0M444.1 325.5h0M444.1 260.2h0M444.1 303.9h0M444.1 271.5h0M444.1 273.3h0M444.2 278.7h0M444.2 268.3h0M444.2 319.2h0M444.2 311.1h0M444.2 237.7h0M444.2 255.7h0M444.2 276h0M444.3 277.9h0M444.3 324.7h0M444.3 286h0M444.3 318.4h0M444.3 252.8h0M444.4 265.4h0M444.4 309.4h0M444.4 271.6h0M444.4 272.5h0M444.4 279.7h0M444.4 249.2h0M444.4 322.9h0M444.4 251h0M444.4 287.8h0M444.4 244.7h0M444.4 314.8h0M444.5 230.3h0M444.5 254.6h0M444.5 261.8h0M444.5 285.1h0M444.5 280.6h0M444.5 216.8h0M444.5 259.1h0M444.5 206.1h0M444.5 333h0M444.5 269.9h0M444.5 240.2h0M444.5 247.4h0M444.5 290.5h0M444.6 286.9h0M444.6 264.5h0M444.6 243.8h0M444.6 284.2h0M444.6 288.7h0M444.6 260h0M444.6 253.7h0M444.6 291.4h0M444.6 281.5h0M444.6 245.6h0M444.6 282.4h0M444.6 276.1h0M444.6 292.3h0M444.6 306.7h0M444.6 250.1h0M444.7 278.8h0M444.7 270.7h0M444.7 222.2h0M444.7 251.9h0M444.7 299.5h0M444.7 267.2h0M444.7 256.4h0M444.7 266.3h0M444.7 246.5h0M444.8 276.6h0M444.8 284.7h0M444.8 313.5h0M444.8 287.4h0M444.8 238h0M444.8 251.5h0M444.9 267.7h0M444.9 261.4h0M444.9 241.6h0M444.9 271.2h0M444.9 326.1h0M444.9 288.3h0M444.9 291.9h0M444.9 218.2h0M444.9 281.1h0M444.9 308.1h0M444.9 264.1h0M444.9 299.1h0M445 304.5h0M445 282.9h0M445 265.9h0M445 283.8h0M445 256h0M445 205.6h0M445 333.1h0M445 309.9h0M445 245.2h0M445 265h0M445 250.6h0M445 268.6h0M445 282h0M445.1 316.2h0M445.1 232.6h0M445.1 247h0M445.1 266.8h0M445.1 246.1h0M445.1 310.8h0M445.1 296.4h0M445.1 292.8h0M445.2 260.5h0M445.2 235.3h0M445.2 210.1h0M445.2 298.2h0M445.2 252.4h0M445.2 219.1h0M445.2 262.3h0M445.2 257.8h0M445.3 298.8h0M445.3 285.3h0M445.3 256.9h0M445.3 262.3h0M445.4 321.3h0M445.4 247h0M445.4 221.8h0M445.4 318.6h0M445.4 254.2h0M445.4 295.2h0M445.4 322.2h0M445.4 276.3h0M445.4 301.5h0M445.4 281.7h0M445.4 266.8h0M445.4 269.5h0M445.4 250.6h0M445.4 259.6h0M445.4 273.6h0M445.4 292.5h0M445.4 227.2h0M445.4 261.4h0M445.5 248.8h0M445.5 216.4h0M445.5 264.1h0M445.5 260.5h0M445.5 265h0M445.5 263.2h0M445.5 256h0M445.5 247.9h0M445.5 279.9h0M445.5 332.1h0M445.5 282.6h0M445.5 229.9h0M445.5 267.7h0M445.5 226.3h0M445.5 255.1h0M445.5 317.7h0M445.5 258.7h0M445.6 274.5h0M445.6 268.6h0M445.6 237.1h0M445.6 249.7h0M445.6 238.9h0M445.6 279h0M445.6 297.9h0M445.6 314.1h0M445.6 224.5h0M445.7 280.8h0M445.7 329.4h0M445.7 287.1h0M445.8 287.8h0M445.8 229.9h0M445.8 331h0M445.8 242.5h0M445.8 271.6h0M445.8 291.4h0M445.9 332.8h0M445.9 299.5h0M445.9 268.6h0M445.9 277h0M445.9 256h0M445.9 283.3h0M445.9 276.1h0M445.9 245.2h0M445.9 270.7h0M445.9 282.4h0M445.9 264.1h0M445.9 303.1h0M445.9 318.4h0M445.9 274.3h0M445.9 300.4h0M445.9 306.7h0M445.9 280.6h0M445.9 241.6h0M445.9 272.5h0M446 289.6h0M446 316.6h0M446 205.3h0M446 333.7h0M446 327.4h0M446 286.9h0M446 262.3h0M446.1 259.6h0M446.1 258.7h0M446.1 247h0M446.1 317.5h0M446.1 263.2h0M446.1 286h0M446.1 273.4h0M446.1 261.4h0M446.1 275.2h0M446.1 281.5h0M446.1 237.1h0M446.2 292.3h0M446.2 248.8h0M446.2 216.4h0M446.2 239.8h0M446.2 277.9h0M446.2 266.8h0M446.2 260.5h0M446.2 278.8h0M446.2 330.1h0M446.3 237.2h0M446.3 308.3h0M446.3 332.6h0M446.3 282.2h0M446.3 225.5h0M446.3 273.2h0M446.3 207.5h0M446.3 262.4h0M446.3 265.1h0M446.3 325.4h0M446.3 316.4h0M446.3 294.8h0M446.3 285.8h0M446.3 329h0M446.4 276.8h0M446.4 280.4h0M446.4 214.7h0M446.4 302h0M446.4 281.3h0M446.4 239.9h0M446.4 221h0M446.4 271.4h0M446.4 284h0M446.4 311.9h0M446.4 333.5h0M446.4 215.6h0M446.4 301.1h0M446.4 275h0M446.4 210.2h0M446.4 241.7h0M446.4 266.9h0M446.4 275.9h0M446.4 329.9h0M446.4 212h0M446.4 318.2h0M446.5 283.1h0M446.5 257.9h0M446.5 320h0M446.5 219.2h0M446.5 327.2h0M446.5 278.6h0M446.5 267.8h0M446.5 248.9h0M446.5 204.9h0M446.5 226.4h0M446.5 255.2h0M446.5 243.5h0M446.5 310.1h0M446.5 291.2h0M446.5 317.3h0M446.5 293.9h0M446.5 292.1h0M446.5 240.8h0M446.5 286.7h0M446.5 216.5h0M446.5 299.3h0M446.5 251.6h0M446.6 249.8h0M446.6 268.7h0M446.6 232.7h0M446.6 208.4h0M446.6 244.4h0M446.6 248h0M446.6 211.1h0M446.6 264.2h0M446.6 270.5h0M446.6 257h0M446.6 306.5h0M446.6 289.4h0M446.6 252.5h0M446.6 230h0M446.6 298.4h0M446.6 326.3h0M446.6 260.6h0M446.6 277.7h0M446.6 293h0M446.7 315.5h0M446.7 233.6h0M446.7 284.9h0M446.7 330.8h0M446.7 300.2h0M446.7 319.1h0M446.8 223.6h0M446.8 211.9h0M446.8 254.2h0M446.8 323.2h0M446.8 289h0M446.8 312.4h0M446.8 298.9h0M446.8 209.2h0M446.8 324.1h0M446.9 275.5h0M446.9 249.7h0M446.9 285.4h0M446.9 300.7h0M446.9 291.7h0M446.9 272.8h0M446.9 273.7h0M446.9 232.6h0M446.9 263.2h0M446.9 274.6h0M446.9 306.1h0M446.9 303.4h0M446.9 220h0M446.9 259.6h0M447 296.2h0M447 219.1h0M447 307.9h0M447 295.3h0M447 289.9h0M447 284.5h0M447 325.9h0M447 290.8h0M447 206.5h0M447 222.7h0M447 204.7h0M447 333.7h0M447 204.7h0M447 215.5h0M447 229h0M447 266.8h0M447 287.2h0M447 210.1h0M447 250.6h0M447 298h0M447 332.2h0M447 320.5h0M447.1 262.3h0M447.1 226.3h0M447.1 225.4h0M447.1 235.3h0M447.1 271h0M447.1 286.3h0M447.1 208.3h0M447.1 278.2h0M447.1 265h0M447.1 318.7h0M447.1 314.2h0M447.1 288.1h0M447.1 241.6h0M447.1 302.5h0M447.1 334h0M447.1 271.9h0M447.1 321.4h0M447.2 234.4h0M447.2 264.1h0M447.2 255.1h0M447.2 281.8h0M447.2 231.7h0M447.2 326.8h0M447.2 245.2h0M447.2 277.3h0M447.3 295.8h0M447.3 288.6h0M447.3 209.9h0M447.3 330.9h0M447.3 238.7h0M447.3 260.3h0M447.3 244.1h0M447.3 237.8h0M447.3 303h0M447.3 306.6h0M447.3 299.4h0M447.3 321h0M447.3 267.5h0M447.3 250.4h0M447.3 242.3h0M447.4 235.1h0M447.4 236.9h0M447.4 208.1h0M447.4 256.7h0M447.4 211.7h0M447.4 313.8h0M447.4 252.2h0M447.4 284.1h0M447.4 239.6h0M447.4 269.3h0M447.4 280.5h0M447.4 325.5h0M447.4 293.1h0M447.4 205.4h0M447.4 332.7h0M447.4 326.4h0M447.4 297.6h0M447.4 268.4h0M447.4 248.6h0M447.4 329.1h0M447.4 324.6h0M447.4 270.6h0M447.4 212.6h0M447.4 245.9h0M447.4 262.1h0M447.4 246.8h0M447.5 251.3h0M447.5 229.7h0M447.5 231.5h0M447.5 290.4h0M447.5 228.8h0M447.5 259.4h0M447.5 286.8h0M447.5 322.8h0M447.5 334h0M447.5 294.9h0M447.5 285h0M447.5 327.3h0M447.5 300.3h0M447.5 263.9h0M447.5 218.9h0M447.5 291.3h0M447.6 266.6h0M447.6 302.1h0M447.6 320.1h0M447.6 333.6h0M447.6 207.2h0M447.6 221.6h0M447.6 225.2h0M447.6 218h0M447.6 303.9h0M447.6 296.7h0M447.6 277.8h0M447.6 274.2h0M447.6 254.9h0M447.6 215.3h0M447.6 317.4h0M447.6 312.9h0M447.6 224.3h0M447.6 257.6h0M447.6 307.5h0M447.7 309.3h0M447.7 312h0M447.7 213.5h0M447.7 245h0M447.7 319.2h0M447.7 226.1h0M447.7 227h0M447.7 271.5h0M447.7 272.4h0M447.7 249.5h0M447.7 321.9h0M447.7 304.8h0M447.7 219.8h0M447.8 241.5h0M447.8 234.3h0M447.8 209.1h0M447.8 280.7h0M447.8 246h0M447.8 243.3h0M447.8 323h0M447.8 228h0M447.8 293.3h0M447.8 278h0M447.8 210.9h0M447.8 314.9h0M447.9 258.6h0M447.9 252.3h0M447.9 220.8h0M447.9 279.8h0M447.9 302.3h0M447.9 324.8h0M447.9 275.3h0M447.9 277.1h0M447.9 263.1h0M447.9 259.5h0M447.9 278.9h0M447.9 264h0M448 219h0M448 291.5h0M448 204.6h0M448 292.4h0M448 226.2h0M448 308.6h0M448 298.7h0M448 334.4h0M448 248.7h0M448 219.9h0M448 213.6h0M448 323.9h0M448 325.7h0M448 287h0M448.1 285.2h0M448.1 265.8h0M448.1 266.7h0M448.1 218.1h0M448.1 274.4h0M448.1 289.7h0M448.1 282.5h0M448.1 283.4h0M448.1 313.1h0M448.1 268.5h0M448.1 269.4h0M448.1 237h0M448.1 225.3h0M448.1 326.6h0M448.1 321.2h0M448.1 256.8h0M448.1 332h0M448.1 281.6h0M448.1 296.9h0M448.1 207.3h0M448.1 276.2h0M448.1 305.9h0M448.1 205.5h0M448.1 240.6h0M448.1 329.3h0M448.2 290.6h0M448.2 309.5h0M448.2 249.6h0M448.2 287.9h0M448.2 332.9h0M448.2 300.5h0M448.2 318.5h0M448.2 257.7h0" fill="none" stroke="#2f54a9" stroke-width="1.10" stroke-linecap="square"/>
<path d="M318.8 243h0M319.1 246.3h0M319.2 239.4h0M320.1 239.7h0M320.4 246.4h0M320.6 237.5h0M321.8 234h0M322.1 229.6h0M322.9 231.2h0M323 246.9h0M323.5 240.3h0M324.1 233.8h0M324.3 242h0M324.3 241.9h0M324.3 233.8h0M324.4 230.9h0M324.4 238.5h0M324.5 233h0M324.5 229.8h0M324.5 238.3h0M324.5 243.9h0M324.5 232.3h0M324.5 231.2h0M324.5 245h0M324.6 230.9h0M324.6 229.9h0M324.6 238.7h0M324.7 239.6h0M324.8 236.3h0M324.8 234.4h0M324.8 228.9h0M324.8 230.8h0M324.8 236.4h0M324.8 244.5h0M324.8 244.9h0M324.9 238.2h0M326.4 230.2h0M328.9 241.9h0M328.9 240.2h0M329.2 236.2h0M329.2 243.3h0M329.3 237h0M329.3 245.3h0M329.3 241.3h0M329.4 237.2h0M329.4 239.6h0M329.4 232.2h0M329.5 232.5h0M329.5 246.4h0M329.5 241.5h0M329.5 235.3h0M329.6 228.4h0M329.6 242.3h0M329.6 246.1h0M329.6 236.3h0M329.6 244.2h0M329.6 240.9h0M329.7 236.4h0M329.7 241.6h0M329.7 246.1h0M329.7 242.7h0M329.8 228.1h0M330.1 242.2h0M330.2 229.1h0M330.7 243.5h0M331.1 241.2h0M331.2 242.5h0M331.3 236.9h0M333 230.2h0M333.2 234.6h0M333.5 238.7h0M334.5 248.1h0M334.7 238.6h0M335.1 241.1h0M335.1 237.9h0M335.1 232.7h0M335.2 230.1h0M335.2 247.2h0M335.3 249.2h0M335.3 249.2h0M335.4 240.9h0M335.4 232.9h0M335.4 244.1h0M335.4 234.1h0M335.4 235.2h0M335.5 233.7h0M335.5 246.8h0M335.5 230.8h0M335.5 249.1h0M335.5 238.6h0M335.6 228.2h0M335.6 245.6h0M335.6 234.8h0M335.6 241.3h0M335.6 231h0M335.9 250h0M336.2 245.9h0M336.6 243.6h0M336.8 244.9h0M337.5 232.7h0M338.1 232.4h0M338.2 234.3h0M338.6 241.2h0M339 233h0M339.1 233.6h0M339.1 242.7h0M339.5 239.9h0M339.5 247.3h0M339.6 250.7h0M339.6 244.2h0M339.6 250.8h0M339.6 242.2h0M339.7 248.1h0M339.7 237h0M339.7 232.1h0M339.7 250.4h0M339.7 235.4h0M339.7 243.2h0M339.7 234.5h0M339.7 231.5h0M339.8 242.7h0M339.8 229.9h0M339.9 234.2h0M339.9 232.9h0M339.9 239h0M340 239.4h0M340.1 244.7h0M340.1 239.1h0M340.1 235.7h0M340.6 240h0M340.8 246.1h0M340.8 244.3h0M341.9 244.8h0M342 244.5h0M342.1 248h0M342.6 229.2h0M343 248h0M343.3 236.6h0M344.1 239.6h0M344.1 247.1h0M344.1 248.3h0M344.2 229.9h0M344.2 232.6h0M344.2 245.8h0M344.3 245.4h0M344.3 245.5h0M344.3 229h0M344.3 252.8h0M344.3 245.7h0M344.3 235.7h0M344.4 241.7h0M344.4 242h0M344.4 229.2h0M344.5 240.7h0M344.5 249.8h0M344.5 252.2h0M344.6 247.7h0M344.6 235.4h0M344.7 230.5h0M344.7 236.9h0M345.3 233.3h0M345.4 236.6h0M345.7 239.8h0M346.8 240h0M346.9 240.3h0M346.9 240.3h0M347.2 248.7h0M348.1 237.2h0M348.8 236.9h0M348.9 240.7h0M370.9 238.9h0M370.9 239.7h0M370.9 240.2h0M370.9 246.1h0M371 234.2h0M371 236.1h0M371 229.2h0M371.1 235.1h0M371.1 240.6h0M371.1 230.7h0M371.2 246h0M371.2 229h0M371.2 232.5h0M371.3 237.5h0M371.3 232.8h0M371.3 243.2h0M371.4 244.5h0M371.4 234.8h0M371.4 244.9h0M371.4 240.2h0M371.4 229.4h0M371.5 245.7h0M413.1 244.3h0M413.1 304.7h0M413.1 307.7h0M413.1 234.3h0M413.1 305.3h0M413.1 302.5h0M413.2 240.2h0M413.2 244.5h0M413.2 296.4h0M413.2 298.5h0M413.2 245.5h0M413.3 242.6h0M413.4 244.3h0M413.4 298.9h0M414.5 243.1h0M414.5 299.3h0M414.5 238.7h0M414.5 304h0M414.5 296.8h0M414.6 245.7h0M414.6 297.2h0M414.6 243.8h0M414.7 242.3h0M414.7 232.5h0M414.7 234.2h0M414.8 302.2h0M414.8 245h0M414.8 298.4h0M419.6 298.3h0M419.6 304.7h0M419.7 300.4h0M419.7 296.3h0M419.7 240.9h0M419.7 243.2h0M419.8 238.7h0M419.8 296.4h0M419.8 237.1h0M419.9 239.4h0M419.9 240.2h0M419.9 296.6h0M419.9 237.5h0M420 245h0" fill="none" stroke="#fff" stroke-width="0.80" stroke-linecap="square"/>
<path d="M448.4 237.15H460.4" stroke="#2f54a9" stroke-width="1.2" stroke-dasharray="5 1.2 2.6 1.2 1 2"/>
<rect x="286.50" y="204.50" width="187.80" height="130.60" fill="none" stroke="#585858" stroke-width="1.05"/>
<text x="286.50" y="345.90" text-anchor="middle" class="t">-0.7</text>
<text x="317.80" y="345.90" text-anchor="middle" class="t">-0.6</text>
<text x="349.10" y="345.90" text-anchor="middle" class="t">-0.5</text>
<text x="380.40" y="345.90" text-anchor="middle" class="t">-0.4</text>
<text x="411.70" y="345.90" text-anchor="middle" class="t">-0.3</text>
<text x="443.00" y="345.90" text-anchor="middle" class="t">-0.2</text>
<text x="283.30" y="206.60" text-anchor="end" class="t">0.5</text>
<text x="283.30" y="239.25" text-anchor="end" class="t">0</text>
<text x="283.30" y="271.90" text-anchor="end" class="t">-0.5</text>
<text x="283.30" y="304.55" text-anchor="end" class="t">-1</text>
<text x="283.30" y="337.20" text-anchor="end" class="t">-1.5</text>
<path d="M286.50 335.10v-2.0M286.50 204.50v2.0M317.80 335.10v-2.0M317.80 204.50v2.0M349.10 335.10v-2.0M349.10 204.50v2.0M380.40 335.10v-2.0M380.40 204.50v2.0M411.70 335.10v-2.0M411.70 204.50v2.0M443.00 335.10v-2.0M443.00 204.50v2.0M286.50 204.50h2.0M474.30 204.50h-2.0M286.50 237.15h2.0M474.30 237.15h-2.0M286.50 269.80h2.0M474.30 269.80h-2.0M286.50 302.45h2.0M474.30 302.45h-2.0M286.50 335.10h2.0M474.30 335.10h-2.0" stroke="#585858" stroke-width="0.9" fill="none"/>
<text x="380.40" y="198.20" text-anchor="middle" class="ti">(<tspan class="b">d</tspan>)</text>
<text x="380.40" y="359.60" text-anchor="middle" class="xl"><tspan class="i">β</tspan></text>
<text transform="translate(264.00 269.80) rotate(-90)" text-anchor="middle" class="xl"><tspan class="sp"><tspan class="i">x</tspan>(<tspan class="i">n</tspan>)</tspan></text>
<path d="M40.0 430.20H120.5" stroke="#2f54a9" stroke-width="1.5"/>
<path d="M119.9 429.6 L120.4 428.1 L120.9 426.8 L121.4 425.9 L121.9 425.1 L122.4 424.3 L122.9 423.6 L123.4 422.9 L123.9 422.3 L124.4 421.6 L124.9 421.2 L125.4 420.8 L125.9 420.4 L126.4 420.1 L126.9 419.7 L127.4 419.4 L127.9 419.2 L128.4 418.9 L128.9 418.7 L129.4 418.5 L129.9 418.3 L130.5 418.0 L131.0 417.9 L131.5 417.8 L132.0 417.6 L132.5 417.5 L133.0 417.4 L133.5 417.3 L134.0 417.2 L134.5 417.0 L135.0 417.0 L135.5 417.0 L136.0 416.9 L136.5 416.9 L137.0 416.9 L137.5 416.8 L138.0 416.8 L138.5 416.8 L139.0 416.8 L139.5 416.7 L140.0 416.7 L140.5 416.7 L141.0 416.6 L141.5 416.6 L142.0 416.6 L142.5 416.6 L143.0 416.5 L143.5 416.5 L144.0 416.5 L144.5 416.4 L145.0 416.4 L145.5 416.4 L146.0 416.4 L146.5 416.3 L147.0 416.3 L147.5 416.3 L148.0 416.3 L148.5 416.3 L149.0 416.2 L149.5 416.2 L150.0 416.2 L150.6 416.2 L151.1 416.2 L151.6 416.2 L152.1 416.2 L152.6 416.1 L153.1 416.1 L153.6 416.1 L154.1 416.1 L154.6 416.1 L155.1 416.1 L155.6 416.0 L156.1 416.0 L156.6 416.0 L157.1 416.0 L157.6 416.0 L158.1 416.0 L158.6 416.0 L159.1 415.9 L159.6 415.9 L160.1 415.9 L160.6 415.9 L160.6 438.0 L160.1 438.2 L159.6 438.5 L159.1 438.8 L158.6 439.0 L158.1 439.3 L157.6 439.6 L157.1 439.8 L156.6 440.1 L156.1 440.4 L155.6 440.6 L155.1 440.9 L154.6 441.2 L154.1 441.4 L153.6 441.7 L153.1 442.0 L152.6 442.3 L152.1 442.6 L151.6 443.0 L151.1 443.3 L150.6 443.6 L150.0 444.0 L149.5 444.3 L149.0 444.6 L148.5 445.0 L148.0 445.3 L147.5 445.6 L147.0 446.0 L146.5 446.3 L146.0 446.6 L145.5 446.8 L145.0 447.1 L144.5 447.4 L144.0 447.7 L143.5 448.0 L143.0 448.3 L142.5 448.6 L142.0 448.9 L141.5 449.1 L141.0 449.4 L140.5 449.7 L140.0 450.0 L139.5 450.2 L139.0 450.4 L138.5 450.6 L138.0 450.7 L137.5 450.9 L137.0 451.1 L136.5 451.3 L136.0 451.5 L135.5 451.7 L135.0 451.9 L134.5 452.0 L134.0 451.8 L133.5 451.6 L133.0 451.4 L132.5 451.2 L132.0 451.0 L131.5 450.9 L131.0 450.7 L130.5 450.4 L129.9 449.8 L129.4 449.3 L128.9 448.7 L128.4 448.1 L127.9 447.5 L127.4 446.9 L126.9 446.2 L126.4 445.5 L125.9 444.7 L125.4 444.0 L124.9 443.2 L124.4 442.4 L123.9 441.4 L123.4 440.3 L122.9 439.3 L122.4 438.2 L121.9 436.8 L121.4 435.3 L120.9 433.8 L120.4 432.3 L119.9 430.8 Z" fill="#2f54a9"/>
<path d="M176.5 415.8 L177.0 415.8 L177.5 415.8 L178.0 415.8 L178.5 415.8 L179.0 415.8 L179.5 415.8 L180.0 415.8 L180.5 415.8 L181.0 415.8 L181.5 415.8 L182.0 415.8 L182.5 415.8 L183.0 415.8 L183.5 415.8 L184.0 415.8 L184.5 415.8 L185.0 415.8 L185.5 415.8 L186.0 415.8 L186.5 415.8 L187.0 415.8 L187.6 415.8 L188.1 415.8 L188.6 415.8 L189.1 415.8 L189.6 415.8 L190.1 415.8 L190.6 415.8 L191.1 415.8 L191.6 415.8 L192.1 415.8 L192.6 415.8 L193.1 415.8 L193.6 415.8 L194.1 415.8 L194.6 415.8 L195.1 415.8 L195.6 415.8 L196.1 415.8 L196.6 415.8 L197.1 415.8 L197.6 415.8 L198.1 415.8 L198.6 415.8 L199.1 415.8 L199.6 415.8 L200.1 415.8 L200.6 415.8 L201.1 415.8 L201.6 415.8 L202.1 415.8 L202.6 415.8 L203.1 415.8 L203.6 415.8 L204.1 415.8 L204.6 415.8 L205.1 415.7 L205.6 415.7 L206.1 415.7 L206.6 415.7 L207.1 415.7 L207.6 415.7 L208.1 415.7 L208.6 415.7 L209.2 415.7 L209.7 415.7 L210.2 415.7 L210.7 415.7 L211.2 415.7 L211.7 415.7 L212.2 415.7 L212.7 415.7 L213.2 415.7 L213.7 415.7 L214.2 415.7 L214.7 415.7 L215.2 415.7 L215.7 415.7 L216.2 415.7 L216.7 415.7 L217.2 415.7 L217.7 415.7 L218.2 415.7 L218.7 415.7 L219.2 415.7 L219.7 415.7 L219.7 442.0 L219.2 441.9 L218.7 441.7 L218.2 441.6 L217.7 441.5 L217.2 441.3 L216.7 441.2 L216.2 441.1 L215.7 440.9 L215.2 440.8 L214.7 440.7 L214.2 440.5 L213.7 440.4 L213.2 440.3 L212.7 440.1 L212.2 440.0 L211.7 439.8 L211.2 439.7 L210.7 439.6 L210.2 439.4 L209.7 439.3 L209.2 439.2 L208.6 439.0 L208.1 438.8 L207.6 438.5 L207.1 438.2 L206.6 437.9 L206.1 437.6 L205.6 437.4 L205.1 437.1 L204.6 437.0 L204.1 437.0 L203.6 437.0 L203.1 437.0 L202.6 437.0 L202.1 437.0 L201.6 437.0 L201.1 437.0 L200.6 437.0 L200.1 437.0 L199.6 437.0 L199.1 437.0 L198.6 437.0 L198.1 437.0 L197.6 437.0 L197.1 437.0 L196.6 437.0 L196.1 437.0 L195.6 437.0 L195.1 437.0 L194.6 437.0 L194.1 437.0 L193.6 437.0 L193.1 437.0 L192.6 437.0 L192.1 437.0 L191.6 437.0 L191.1 437.0 L190.6 437.0 L190.1 437.0 L189.6 436.9 L189.1 436.9 L188.6 436.8 L188.1 436.8 L187.6 436.7 L187.0 436.6 L186.5 436.6 L186.0 436.5 L185.5 436.5 L185.0 436.4 L184.5 436.3 L184.0 436.3 L183.5 436.2 L183.0 436.2 L182.5 436.1 L182.0 436.0 L181.5 452.0 L181.0 452.0 L180.5 452.0 L180.0 452.0 L179.5 452.0 L179.0 452.0 L178.5 452.0 L178.0 452.0 L177.5 452.0 L177.0 452.0 L176.5 452.0 Z" fill="#2f54a9"/>
<path d="M176.5 471H181.5V478.5L176.5 477Z" fill="#2f54a9"/>
<path d="M160.7 415.9 L176.3 415.8M160.7 417.0 L161.3 417.1 L162.2 417.3 L163.2 417.4 L164.3 417.6 L165.4 417.8 L166.6 418.1 L167.7 418.3 L168.7 418.6 L169.7 418.9 L170.9 419.2 L172.1 419.5 L173.2 419.8 L174.2 420.2 L175.0 420.6 L175.6 421.0 L175.8 421.5 L175.6 422.1 L175.0 422.7 L174.2 423.4 L173.1 424.1 L172.0 424.9 L170.8 425.6 L169.7 426.3 L168.7 427.0 L167.7 427.6 L166.6 428.3 L165.4 428.9 L164.2 429.5 L163.1 430.1 L162.3 430.6 L161.7 431.1 L161.5 431.5 L161.7 431.8 L162.3 432.1 L163.1 432.3 L164.2 432.4 L165.4 432.5 L166.6 432.7 L167.7 432.8 L168.7 433.0 L169.7 433.2 L170.8 433.4 L171.9 433.6 L173.1 433.8 L174.1 434.0 L175.0 434.3 L175.5 434.6 L175.8 435.0 L175.7 435.4 L175.2 436.0 L174.5 436.5 L173.6 437.1 L172.6 437.8 L171.5 438.4 L170.5 439.0 L169.7 439.5 L168.9 440.0 L168.1 440.6 L167.2 441.1 L166.3 441.7 L165.5 442.2 L164.8 442.6 L164.2 443.0 L163.7 443.3M161.2 418.0 L161.3 418.6 L161.3 419.4 L161.4 420.4 L161.5 421.4 L161.6 422.6 L161.7 423.7 L161.8 424.9 L161.9 426.0 L162.0 427.1 L162.1 428.2 L162.1 429.4 L162.2 430.6 L162.3 431.7 L162.4 432.9 L162.5 434.0 L162.7 435.0 L162.9 436.0 L163.2 437.0 L163.4 438.0 L163.7 439.0 L164.0 439.9 L164.4 440.7 L164.8 441.4 L165.2 442.0 L165.7 442.5 L166.1 442.8 L166.6 443.1 L167.2 443.3 L167.8 443.4 L168.4 443.5 L169.0 443.5 L169.7 443.6 L170.5 443.6 L171.4 443.6 L172.3 443.6 L173.3 443.5 L174.2 443.4 L175.1 443.3 L175.8 443.2 L176.3 443.2M163.2 455.0 L176.3 470.5M164.2 462.0 L176.3 453.5M160.7 464.8 L164.2 462.0" fill="none" stroke="#2f54a9" stroke-width="1.20"/>
<path d="M188.1 418.2V440" stroke="#fff" stroke-width="0.8" stroke-dasharray="2.2 0.7 1.2 0.5"/>
<path d="M193.6 418.2V440" stroke="#fff" stroke-width="0.8" stroke-dasharray="2.2 0.7 1.2 0.5"/>
<path d="M203.0 418.2V440" stroke="#fff" stroke-width="0.8" stroke-dasharray="2.2 0.7 1.2 0.5"/>
<path d="M207.8 418.2V440" stroke="#fff" stroke-width="0.8" stroke-dasharray="2.2 0.7 1.2 0.5"/>
<path d="M198.2 418.2V440" stroke="#fff" stroke-width="0.8" stroke-dasharray="2.2 0.7 1.2 0.5"/>
<path d="M131.9 451.8h0M132.4 452.1h0M132.6 451.3h0M132.9 451.8h0M132.9 452.7h0M133.2 451.6h0M133.4 452.5h0M133.4 452.8h0M133.9 453.4h0M133.9 452.7h0M134.1 451.8h0M134.4 454.1h0M134.7 452.4h0M134.9 453.8h0M135.4 454.3h0M135.9 455h0M136 453.2h0M136 452.3h0M136.3 451.8h0M136.4 455.2h0M136.6 454.5h0M136.7 451.3h0M136.8 452.2h0M136.9 453.1h0M136.9 455.2h0M137.2 453.8h0M137.4 455.6h0M137.5 452.9h0M137.7 452.8h0M137.7 453.7h0M137.9 451h0M137.9 455.9h0M137.9 451.9h0M138.2 452.1h0M138.4 453h0M138.4 455.8h0M138.9 456.6h0M139.1 451.2h0M139.1 452.1h0M139.1 455.7h0M139.3 452.5h0M139.3 450.7h0M139.4 456.7h0M139.4 451.6h0M139.8 453.8h0M139.9 450.2h0M139.9 457.3h0M140 451.1h0M140.1 455.6h0M140.3 457.2h0M140.4 457.7h0M140.4 450h0M140.4 452.7h0M140.8 456.1h0M140.9 457.4h0M141 455.2h0M141.4 458.1h0M141.8 451.9h0M141.9 450.1h0M141.9 458.2h0M142 449.2h0M142 451h0M142.1 454.6h0M142.4 457.9h0M142.4 457.9h0M142.5 453.4h0M142.5 451.6h0M142.7 454.2h0M142.9 458.7h0M142.9 451.5h0M143.3 453.2h0M143.3 456.8h0M143.3 449.6h0M143.3 450.5h0M143.4 454.1h0M143.4 458.2h0M143.5 452.3h0M143.5 458.6h0M143.8 457.3h0M143.9 459h0M144.1 451h0M144.4 459.2h0M144.6 450.2h0M144.8 451.2h0M144.8 456.6h0M144.9 455.7h0M144.9 458.9h0M145 447.6h0M145.1 448.5h0M145.3 447.5h0M145.3 458.3h0M145.4 459.3h0M145.4 452.9h0M145.5 450.2h0M145.6 455.6h0M145.6 449.3h0M145.6 452h0M145.7 451h0M145.8 448.3h0M145.8 451.9h0M145.9 459.6h0M145.9 452.8h0M146 447.4h0M146 453.7h0M146 458.2h0M146.2 458.6h0M146.3 453.2h0M146.4 450.5h0M146.4 459.7h0M146.4 451.4h0M146.4 447.8h0M146.4 449.6h0M146.5 456.8h0M146.5 446.9h0M146.5 459.5h0M146.5 455h0M146.6 457.7h0M146.9 459.8h0M146.9 454.1h0M147 450.5h0M147 451.4h0M147.1 452.3h0M147.1 453.2h0M147.2 450.9h0M147.4 453.6h0M147.4 451.8h0M147.4 460.6h0M147.4 455.4h0M147.4 448.2h0M147.5 458.1h0M147.5 450h0M147.5 459.9h0M147.8 458.7h0M147.8 447.9h0M147.9 460.6h0M148 447h0M148 446.1h0M148 459.6h0M148 456.9h0M148.3 447.4h0M148.4 451.9h0M148.4 445.6h0M148.4 460.8h0M148.5 460h0M148.5 451h0M148.8 451.5h0M148.8 450.6h0M148.9 445.2h0M148.9 453.3h0M148.9 461h0M148.9 448.8h0M149 449.7h0M149.1 447.9h0M149.2 447.7h0M149.3 456.7h0M149.4 445.9h0M149.4 461.2h0M149.4 445h0M149.5 446.8h0M149.7 452.4h0M149.8 451.5h0M149.8 457.8h0M149.9 453.3h0M149.9 461.2h0M149.9 458.7h0M149.9 448.8h0M150 447.9h0M150.2 454.8h0M150.3 446.7h0M150.3 444h0M150.3 447.6h0M150.4 455.7h0M150.4 461.8h0M150.4 456.6h0M150.4 444.9h0M150.5 445.8h0M150.6 460.2h0M150.6 459.3h0M150.7 453.8h0M150.8 451.1h0M150.8 446.6h0M150.9 452.9h0M150.9 461.7h0M150.9 460.1h0M151 456.5h0M151 450.2h0M151.1 452h0M151.1 457.4h0M151.2 449.1h0M151.2 455.4h0M151.2 461.7h0M151.3 450.9h0M151.4 461.7h0M151.5 459.9h0M151.5 445.5h0M151.6 452.7h0M151.7 452h0M151.8 456.5h0M151.8 461.9h0M151.9 462.3h0M151.9 447.5h0M152 459.2h0M152 452.9h0M152.2 456.2h0M152.3 454.4h0M152.4 444.5h0M152.4 462.6h0M152.6 443.6h0M152.8 443.6h0M152.9 445.4h0M152.9 453.5h0M152.9 447.2h0M152.9 462.4h0M153 442.7h0M153 448.1h0M153.1 454.4h0M153.1 444.5h0M153.2 451h0M153.3 448.3h0M153.3 455.5h0M153.4 443.8h0M153.4 444.7h0M153.4 462.4h0M153.4 442h0M153.4 452.8h0M153.4 460.9h0M153.4 445.6h0M153.5 456.4h0M153.5 457.3h0M153.5 460h0M153.8 452.6h0M153.8 454.4h0M153.9 447.2h0M153.9 460.7h0M153.9 448.1h0M153.9 462.6h0M154 449.9h0M154 450.8h0M154 458h0M154.1 451.7h0M154.1 442.7h0M154.2 446.6h0M154.2 447.5h0M154.2 452h0M154.3 452.9h0M154.3 449.3h0M154.4 456.5h0M154.4 459.2h0M154.4 443.9h0M154.4 462.7h0M154.4 442.1h0M154.5 458.3h0M154.7 447.6h0M154.7 444h0M154.7 450.3h0M154.8 460.2h0M154.8 455.7h0M154.9 459.3h0M154.9 441.3h0M154.9 442.2h0M154.9 452.1h0M154.9 449.4h0M154.9 463h0M155 458.4h0M155 457.5h0M155.1 462h0M155.1 461.1h0M155.2 452.9h0M155.2 443.9h0M155.2 448.4h0M155.4 452h0M155.4 447.5h0M155.4 457.4h0M155.4 463.1h0M155.4 442.1h0M155.5 449.3h0M155.5 456.5h0M155.5 462.8h0M155.5 446.6h0M155.6 451.1h0M155.7 456.9h0M155.7 455.1h0M155.8 444.3h0M155.8 446.1h0M155.9 463.2h0M155.9 452.4h0M155.9 440.7h0M155.9 463.4h0M155.9 450.6h0M156 456h0M156 458.7h0M156.1 443.4h0M156.2 450.5h0M156.3 455h0M156.3 441.5h0M156.3 446h0M156.3 458.6h0M156.4 455.9h0M156.4 443.3h0M156.4 451.4h0M156.4 463.4h0M156.4 461.3h0M156.5 456.8h0M156.6 442.4h0M156.6 454.1h0M156.6 447.8h0M156.8 454h0M156.8 442.3h0M156.8 454.9h0M156.9 462.1h0M156.9 458.5h0M156.9 463.8h0M156.9 459.4h0M157 447.7h0M157 453.1h0M157 455.8h0M157.1 446.8h0M157.1 460.3h0M157.2 456.7h0M157.2 440.5h0M157.3 445h0M157.3 448.6h0M157.3 442.3h0M157.4 463.9h0M157.4 454h0M157.5 454.9h0M157.6 459.4h0M157.6 452.2h0M157.8 464.2h0M157.8 457h0M157.9 440.8h0M157.9 441.7h0M157.9 447.1h0M157.9 460.6h0M157.9 464h0M157.9 461.5h0M157.9 449.8h0M157.9 457.9h0M157.9 454.3h0M157.9 446.2h0M158 442.6h0M158 459.7h0M158.1 450.7h0M158.1 448h0M158.2 462.3h0M158.3 442.5h0M158.3 456.9h0M158.3 459.6h0M158.3 447h0M158.4 445.2h0M158.4 464.1h0M158.4 446.1h0M158.5 452.4h0M158.5 458.7h0M158.7 462.2h0M158.7 447.8h0M158.8 441.5h0M158.8 440.6h0M158.8 443.3h0M158.8 449.6h0M158.9 464h0M158.9 464.6h0M159 446h0M159 453.2h0M159 454.1h0M159 448.7h0M159 459.5h0M159 445.1h0M159 444.2h0M159 460.4h0M159 439.7h0M159.2 452h0M159.3 444.8h0M159.4 464.8h0M159.4 460.1h0M159.4 446.6h0M159.4 455.6h0M159.4 439.4h0M159.5 448.4h0M159.5 452.9h0M159.5 445.7h0M159.5 450.2h0M159.6 443h0M159.6 454.7h0M159.8 440.1h0M159.8 439.2h0M159.8 460.8h0M159.8 452.7h0M159.8 448.2h0M159.8 454.5h0M159.9 465.1h0M159.9 444.6h0M159.9 441h0M160 458.1h0M160 455.4h0M160 443.7h0M160 461.7h0M160 442.8h0M160.1 459.9h0M160.2 449.7h0M160.3 451.5h0M160.3 440.7h0M160.3 460.5h0M160.3 450.6h0M160.3 454.2h0M160.4 464.6h0M160.4 453.3h0M160.5 456h0M160.5 444.3h0M160.6 447h0M160.6 447.9h0M176.5 454h0M176.7 473.8h0M176.9 468.9h0M176.9 458.1h0M177 454.5h0M177.1 456.3h0M177.1 462.6h0M177.4 460.6h0M177.5 457h0M177.5 465.1h0M177.6 453.4h0M177.7 463.3h0M177.9 454.2h0M177.9 471.3h0M178.1 458.7h0M178.1 465.9h0M178.4 456.5h0M178.4 453.8h0M178.4 470h0M178.6 464.6h0M178.6 459.2h0M178.9 460h0M179 453.7h0M179 462.7h0M179 469.9h0M179.1 459.1h0M179.1 477.1h0M179.2 452.8h0M179.5 457.6h0M179.6 472.9h0M179.6 459.4h0M179.7 452.2h0M179.9 455.6h0M180.1 467.3h0M180.1 464.6h0M180.1 461.9h0M180.4 458.8h0M180.5 452.5h0M181.3 464.7h0M181.4 471h0M181.5 460.2h0M181.8 442.7h0M181.8 440.9h0M181.8 449h0M181.9 456.2h0M181.9 474.2h0M182 436.4h0M182.1 448.1h0M182.1 446.3h0M182.2 437.3h0M182.2 463.4h0M182.4 464h0M182.4 440.6h0M182.5 458.6h0M182.5 438.8h0M182.5 480h0M182.5 445.1h0M182.6 455.9h0M182.6 437.9h0M182.7 453.2h0M182.8 442.3h0M182.9 463.9h0M182.9 473.8h0M182.9 468.4h0M183 479.2h0M183.3 440.6h0M183.4 453.2h0M183.5 443.3h0M183.6 454.1h0M183.6 471.2h0M183.6 459.5h0M183.6 455.9h0M183.7 447.8h0M183.8 449.8h0M183.8 441.7h0M183.9 466h0M183.9 439h0M183.9 462.4h0M183.9 463.3h0M183.9 440.8h0M184 457h0M184 461.5h0M184 453.4h0M184.1 447.1h0M184.1 446.2h0M184.2 442.6h0M184.2 464.2h0M184.3 454.7h0M184.4 439.4h0M184.4 447.5h0M184.4 442.1h0M184.5 472.7h0M184.5 444.8h0M184.5 461h0M184.6 452.9h0M184.6 437.6h0M184.6 471.8h0M184.7 443h0M184.8 446.7h0M184.9 436.8h0M184.9 457.5h0M184.9 453.9h0M184.9 460.2h0M185 448.5h0M185 480.9h0M185.1 462h0M185.1 449.4h0M185.1 438.6h0M185.1 471.9h0M185.1 469.2h0M185.3 466.7h0M185.3 440.6h0M185.4 446.9h0M185.4 467.6h0M185.4 438.8h0M185.4 458.6h0M185.5 450.5h0M185.5 463.1h0M185.5 451.4h0M185.5 470.3h0M185.5 445.1h0M185.5 464.9h0M185.5 468.5h0M185.6 478.4h0M185.6 446h0M185.7 439.7h0M185.7 457.7h0M185.8 443.2h0M185.8 457.6h0M185.8 451.3h0M185.9 455.8h0M185.9 449.5h0M185.9 464.8h0M185.9 445.9h0M185.9 439.6h0M185.9 436.9h0M185.9 473.8h0M185.9 470.2h0M186 454h0M186 438.7h0M186 472.9h0M186 465.7h0M186.1 456.7h0M186.1 463h0M186.2 448.6h0M186.3 441.5h0M186.4 473h0M186.4 456.8h0M186.4 464h0M186.4 452.3h0M186.4 463.1h0M186.5 438.8h0M186.5 440.6h0M186.5 459.5h0M186.5 448.7h0M186.5 442.4h0M186.5 437h0M186.5 455h0M186.6 443.3h0M186.6 462.2h0M186.6 437.9h0M186.6 453.2h0M186.6 457.7h0M186.6 466.7h0M186.7 450.5h0M186.8 456.7h0M186.9 449.5h0M186.9 438.7h0M187 454h0M187 459.4h0M187.1 447.7h0M187.1 436.9h0M187.2 474.7h0M187.4 454.4h0M187.5 449.9h0M187.5 467h0M187.5 450.8h0M187.9 450.3h0M187.9 472.8h0M188.2 439.5h0M188.4 468.7h0M188.5 453.4h0M188.5 457.9h0M188.6 469.6h0M188.6 448.9h0M188.7 452.5h0M188.8 442.4h0M188.8 437h0M188.9 453.2h0M189 446h0M189 484.5h0M189 456.8h0M189 458.6h0M189.1 439.7h0M189.1 464h0M189.1 443.3h0M189.2 470.3h0M189.2 441.5h0M189.2 457.7h0M189.2 462.2h0M189.3 441.5h0M189.3 461.3h0M189.3 464.9h0M189.4 445.1h0M189.4 456.8h0M189.4 448.7h0M189.4 471.2h0M189.4 451.4h0M189.5 472.1h0M189.5 437.9h0M189.5 447.8h0M189.6 442.4h0M189.6 477.5h0M189.6 473.9h0M189.7 469.4h0M189.7 476.6h0M189.8 441h0M189.8 470.7h0M189.9 459h0M189.9 458.1h0M189.9 477h0M189.9 456.3h0M189.9 448.2h0M189.9 460.8h0M190 468.9h0M190 446.4h0M190.1 461.7h0M190.1 462.6h0M190.1 472.5h0M190.1 463.5h0M190.1 444.6h0M190.1 452.7h0M190.1 455.4h0M190.1 441.9h0M190.2 445.5h0M190.2 439.2h0M190.2 457.2h0M190.3 450.2h0M190.3 455.6h0M190.4 459.2h0M190.4 453.8h0M190.4 443.9h0M190.4 471.8h0M190.4 468.2h0M190.4 476.3h0M190.5 452h0M190.5 448.4h0M190.5 445.7h0M190.5 479.9h0M190.5 477.2h0M190.5 470h0M190.6 461h0M190.6 461.9h0M190.6 454.7h0M190.6 447.5h0M190.6 469.1h0M190.6 458.3h0M190.6 466.4h0M190.6 442.1h0M190.7 457.4h0M190.7 451.1h0M190.7 441.2h0M190.7 449.3h0M190.8 442h0M190.8 460.9h0M190.9 450.1h0M190.9 437.5h0M191 459.1h0M191 484.9h0M191 474.4h0M191 467.2h0M191.1 442.9h0M191.1 449.2h0M191.2 448.3h0M191.3 440.9h0M191.3 464.3h0M191.4 449.9h0M191.4 452.6h0M191.4 437.3h0M191.4 450.8h0M191.5 461.6h0M191.5 446.3h0M191.5 477.8h0M191.5 466.1h0M191.5 485.5h0M191.5 467.9h0M191.5 445.4h0M191.6 465.2h0M191.6 441.8h0M191.6 459.8h0M191.6 468.8h0M191.9 438.8h0M191.9 460.4h0M191.9 444.2h0M191.9 446.9h0M191.9 443.3h0M191.9 448.7h0M191.9 456.8h0M191.9 475.7h0M191.9 478.4h0M191.9 439.7h0M192 468.5h0M192 453.2h0M192 446h0M192 477.5h0M192.1 441.5h0M192.1 447.8h0M192.1 449.6h0M192.1 482.9h0M192.2 442.4h0M192.2 464.9h0M192.2 483.8h0M192.2 458.6h0M192.3 461.3h0M192.3 450.5h0M192.4 444.2h0M192.5 442.4h0M192.5 479.3h0M192.5 440.6h0M192.5 468.5h0M192.6 458.6h0M192.6 438.8h0M192.6 443.3h0M192.7 470.3h0M192.7 441.5h0M192.7 446h0M192.8 484.8h0M192.9 446.1h0M192.9 449.7h0M192.9 477.6h0M193 461.4h0M193.1 441.6h0M193.1 438.9h0M193.1 469.5h0M193.3 440.7h0M193.4 437.1h0M193.4 444.3h0M193.6 466.8h0M193.6 447.9h0M193.8 437.2h0M193.9 468.7h0M193.9 460.6h0M193.9 443.5h0M194.3 452.3h0M194.3 444.2h0M194.3 464h0M194.3 462.2h0M194.4 438.8h0M194.4 463.1h0M194.4 445.1h0M194.4 459.5h0M194.4 441.5h0M194.4 457.7h0M194.4 454.1h0M194.5 458.6h0M194.5 464.9h0M194.5 455.9h0M194.5 439.7h0M194.6 450.5h0M194.6 453.2h0M194.6 486.5h0M194.6 451.4h0M194.7 449.6h0M194.7 455h0M194.7 446.9h0M194.7 473.9h0M194.8 438.8h0M194.8 443.3h0M194.9 477.5h0M194.9 457.7h0M194.9 450.5h0M194.9 444.2h0M194.9 481.1h0M194.9 442.4h0M194.9 439.7h0M194.9 448.7h0M195 461.3h0M195 473.9h0M195 471.2h0M195 473h0M195 441.5h0M195.1 455h0M195.1 487.4h0M195.1 470.3h0M195.1 463.1h0M195.1 466.7h0M195.2 446.9h0M195.3 472.2h0M195.4 450.6h0M195.4 459.6h0M195.4 448.8h0M195.4 475.8h0M195.4 438h0M195.4 449.7h0M195.5 439.8h0M195.5 452.4h0M195.5 467.7h0M195.5 444.3h0M195.5 440.7h0M195.5 445.2h0M195.5 456h0M195.5 442.5h0M195.5 437.1h0M195.5 464.1h0M195.5 465.9h0M195.5 447h0M195.6 457.8h0M195.7 462.3h0M195.7 458.7h0M195.7 460.5h0M195.7 443.4h0M195.8 461.3h0M195.8 468.5h0M195.8 447.8h0M195.8 455.9h0M195.9 462.2h0M195.9 475.7h0M195.9 464.9h0M195.9 460.4h0M195.9 445.1h0M195.9 487.4h0M196 443.3h0M196 437.9h0M196 451.4h0M196 441.5h0M196 465.8h0M196 444.2h0M196.1 453.2h0M196.1 442.4h0M196.1 454.1h0M196.1 482.9h0M196.1 452.3h0M196.1 456.8h0M196.2 446.9h0M196.2 450.5h0M196.2 463.1h0M196.2 449.6h0M196.4 446.2h0M196.4 456.1h0M196.4 463.3h0M196.4 439h0M196.4 450.7h0M196.5 440.8h0M196.5 466.9h0M196.5 455.2h0M196.5 442.6h0M196.5 451.6h0M196.5 460.6h0M196.5 453.4h0M196.5 473.2h0M196.6 472.3h0M196.6 464.2h0M196.6 441.7h0M196.6 443.5h0M196.6 445.3h0M196.6 484.9h0M196.6 444.4h0M196.7 480.4h0M196.8 442.4h0M196.8 438.8h0M196.8 447.8h0M196.8 468.5h0M196.8 446h0M196.9 437h0M196.9 452.3h0M196.9 453.2h0M196.9 458.6h0M196.9 450.5h0M196.9 459.5h0M196.9 461.3h0M196.9 473.9h0M197 457.7h0M197 454.1h0M197 444.2h0M197 443.3h0M197.1 449.6h0M197.1 487.4h0M197.1 473h0M197.1 446.9h0M197.2 455h0M197.2 480.2h0M197.2 451.4h0M197.2 482.9h0M197.3 444.6h0M197.3 452.7h0M197.3 449.1h0M197.3 460.8h0M197.3 485.1h0M197.4 440.1h0M197.4 456.3h0M197.4 457.2h0M197.4 471.6h0M197.4 455.4h0M197.5 464.4h0M197.5 441h0M197.5 447.3h0M197.5 438.3h0M197.5 472.5h0M197.6 481.5h0M197.6 459h0M197.6 462.6h0M197.6 439.2h0M197.7 454.5h0M197.7 477h0M197.8 453.6h0M197.9 477h0M198 458.1h0M198 472.5h0M198 450h0M198.1 475.2h0M198.2 443.7h0M198.4 460.5h0M198.4 447h0M198.6 452.4h0M198.9 458.2h0M198.9 483.4h0M198.9 451.9h0M198.9 439.3h0M199 441.1h0M199 478h0M199 445.6h0M199 440.2h0M199.1 454.6h0M199.1 449.2h0M199.1 447.4h0M199.1 466.3h0M199.1 480.7h0M199.1 443.8h0M199.1 478.9h0M199.2 464.5h0M199.2 438.4h0M199.2 489.7h0M199.4 465.3h0M199.4 445.5h0M199.5 486h0M199.5 480.6h0M199.5 450.9h0M199.5 454.5h0M199.5 475.2h0M199.5 462.6h0M199.5 461.7h0M199.6 448.2h0M199.6 441h0M199.6 467.1h0M199.6 443.7h0M199.6 459.9h0M199.7 449.1h0M199.7 458.1h0M199.7 453.6h0M199.7 437.4h0M199.7 438.3h0M199.7 451.8h0M199.8 462h0M199.8 477.3h0M199.8 473.7h0M199.8 452.1h0M199.9 470.1h0M199.9 447.6h0M199.9 450.3h0M199.9 482.7h0M199.9 461.1h0M199.9 474.6h0M200 453h0M200 455.7h0M200 464.7h0M200 451.2h0M200 466.5h0M200.1 448.5h0M200.1 468.3h0M200.1 439.5h0M200.2 446.7h0M200.2 441.3h0M200.2 457.5h0M200.3 438.3h0M200.4 461.7h0M200.4 471.6h0M200.5 472.5h0M200.5 446.4h0M200.5 440.1h0M200.5 467.1h0M200.5 469.8h0M200.5 457.2h0M200.5 448.2h0M200.5 450.9h0M200.6 449.1h0M200.6 444.6h0M200.7 463.5h0M200.8 464.8h0M200.9 452.2h0M200.9 442.3h0M200.9 462.1h0M201 493h0M201 486.4h0M201 440.5h0M201 450.4h0M201.1 441.4h0M201.1 483.7h0M201.1 455.8h0M201.1 445h0M201.2 479.2h0M201.2 476.5h0M201.2 485.5h0M201.3 458.5h0M201.3 461.2h0M201.3 450.4h0M201.3 472h0M201.3 439.6h0M201.4 453.1h0M201.4 468.4h0M201.4 454h0M201.4 447.7h0M201.4 437.8h0M201.5 455.8h0M201.5 445.9h0M201.5 454.9h0M201.5 446.8h0M201.6 457.6h0M201.6 470.2h0M201.6 440.5h0M201.6 444.1h0M201.7 462.1h0M201.7 438.7h0M201.7 480.1h0M201.7 463h0M201.7 464.8h0M201.7 451.3h0M201.8 444.2h0M201.8 466.7h0M201.8 437h0M201.9 446h0M201.9 482h0M202 455h0M202 449.6h0M202 437.9h0M202 474.8h0M202 456.8h0M202 461.3h0M202 453.2h0M202 442.4h0M202 450.5h0M202.1 459.5h0M202.1 460.4h0M202.1 463.1h0M202.1 484.7h0M202.1 438.8h0M202.1 473.9h0M202.2 472.1h0M202.2 455.9h0M202.4 441.5h0M202.4 459.5h0M202.5 440.6h0M202.5 447.8h0M202.5 469.4h0M202.6 482.9h0M202.6 446h0M202.7 452.3h0M203 453h0M203 486.3h0M203 470.1h0M203.1 440.4h0M203.5 479.5h0M203.5 448.9h0M203.7 486.7h0M203.8 456.7h0M203.8 451.3h0M203.8 482.8h0M203.8 438.7h0M203.8 443.2h0M203.8 485.5h0M203.9 467.5h0M203.9 445.9h0M203.9 450.4h0M203.9 466.6h0M203.9 474.7h0M203.9 447.7h0M203.9 441.4h0M203.9 446.8h0M204 445h0M204 437.8h0M204 449.5h0M204.1 457.6h0M204.1 478.3h0M204.1 440.5h0M204.1 475.6h0M204.2 461.2h0M204.2 462.1h0M204.4 437.5h0M204.4 465.4h0M204.4 440.2h0M204.4 474.4h0M204.4 448.3h0M204.5 488.8h0M204.5 460h0M204.5 486.1h0M204.5 443.8h0M204.5 458.2h0M204.5 439.3h0M204.6 475.3h0M204.6 464.5h0M204.6 462.7h0M204.6 469h0M204.6 438.4h0M204.6 480.7h0M204.6 450.1h0M204.6 446.5h0M204.6 449.2h0M204.6 482.5h0M204.6 459.1h0M204.6 451h0M204.6 445.6h0M204.7 451.9h0M204.7 477.1h0M204.7 489.7h0M204.8 454.6h0M204.8 450.1h0M204.9 446.5h0M204.9 444.7h0M204.9 441.1h0M205 443.8h0M205 451.9h0M205 498.9h0M205 452.8h0M205 457.3h0M205 468.1h0M205 440.2h0M205 458.2h0M205.1 475.3h0M205.1 437.5h0M205.1 448.3h0M205.1 449.2h0M205.1 467.2h0M205.1 455.5h0M205.1 466.3h0M205.1 442h0M205.1 447.4h0M205.1 478h0M205.2 442.9h0M205.2 462.7h0M205.2 471.7h0M205.2 465.4h0M205.2 439.3h0M205.3 495.5h0M205.3 446.9h0M205.3 484.7h0M205.3 468.5h0M205.4 455h0M205.4 474.8h0M205.4 438.8h0M205.4 481.1h0M205.5 456.8h0M205.5 455.9h0M205.5 461.3h0M205.6 449.6h0M205.6 459.5h0M205.6 462.2h0M205.6 450.5h0M205.6 453.2h0M205.6 448.7h0M205.6 454.1h0M205.6 477.5h0M205.7 482.9h0M205.7 446h0M205.7 447.8h0M205.8 445.8h0M205.9 467.4h0M205.9 491.7h0M205.9 461.1h0M206 438.6h0M206 437.7h0M206 453h0M206 451.2h0M206 500.7h0M206 449.4h0M206 464.7h0M206.1 465.6h0M206.1 489.9h0M206.1 471h0M206.1 444.9h0M206.1 498.9h0M206.1 446.7h0M206.1 469.2h0M206.2 484.5h0M206.2 439.5h0M206.3 454.2h0M206.3 451.5h0M206.3 439.8h0M206.3 485.7h0M206.4 448.8h0M206.4 484.8h0M206.4 483h0M206.4 481.2h0M206.4 438.9h0M206.4 447.9h0M206.4 442.5h0M206.5 458.7h0M206.5 440.7h0M206.5 467.7h0M206.5 501.1h0M206.5 472.2h0M206.5 462.3h0M206.5 446.1h0M206.6 459.6h0M206.6 456.9h0M206.6 455.1h0M206.6 483.9h0M206.6 438h0M206.6 457.8h0M206.6 476.7h0M206.7 466.8h0M206.7 469.5h0M206.7 453.3h0M206.7 443.4h0M206.7 449.7h0M206.9 449.1h0M206.9 466.2h0M206.9 482.4h0M206.9 467.1h0M207 458.1h0M207 447.3h0M207 468h0M207 489.6h0M207.1 460.8h0M207.1 445.5h0M207.1 455.4h0M207.1 487.8h0M207.1 450h0M207.1 488.7h0M207.1 440.1h0M207.1 475.2h0M207.2 471.6h0M207.2 456.3h0M207.2 462.6h0M207.3 451.4h0M207.3 453.2h0M207.4 464.9h0M207.5 445.1h0M207.5 500.9h0M207.6 481.1h0M207.7 448.7h0M207.8 462.6h0M207.8 444.6h0M207.9 473.4h0M207.9 452.7h0M208.2 468.9h0M208.3 503.2h0M208.3 459.1h0M208.3 455.5h0M208.3 488.8h0M208.3 456.4h0M208.4 468.1h0M208.4 475.3h0M208.4 464.5h0M208.4 457.3h0M208.4 505h0M208.5 460h0M208.5 453.7h0M208.5 449.2h0M208.5 505.1h0M208.5 446.5h0M208.5 479.8h0M208.5 439.3h0M208.6 461.8h0M208.6 494.2h0M208.6 443.8h0M208.6 445.6h0M208.6 442h0M208.8 440.5h0M208.9 450.4h0M208.9 445.9h0M208.9 466.6h0M208.9 501.7h0M208.9 455.8h0M208.9 444.1h0M208.9 443.2h0M208.9 480.1h0M208.9 481.9h0M209 441.4h0M209 484.6h0M209 475.6h0M209 447.7h0M209 453.1h0M209.1 476.5h0M209.1 490h0M209.1 442.3h0M209.1 471.1h0M209.1 505.3h0M209.1 472h0M209.1 474.7h0M209.3 440.1h0M209.3 458.1h0M209.3 470.7h0M209.3 482.4h0M209.3 453.6h0M209.4 462.6h0M209.4 463.5h0M209.4 441h0M209.4 468h0M209.4 443.7h0M209.4 471.6h0M209.5 460.8h0M209.5 448.2h0M209.5 450.9h0M209.5 461.7h0M209.5 459.9h0M209.5 510h0M209.5 476.1h0M209.5 454.5h0M209.6 474.3h0M209.6 441.9h0M209.6 504.9h0M209.6 469.8h0M209.6 452.7h0M209.6 450h0M209.6 477.9h0M209.7 456.3h0M209.7 451.8h0M209.7 444.6h0M209.8 480.8h0M209.8 483.5h0M209.9 455.6h0M209.9 463.7h0M209.9 457.4h0M209.9 442.1h0M209.9 450.2h0M210 465.5h0M210 440.3h0M210 461.9h0M210 512.5h0M210 478.1h0M210.1 486.2h0M210.1 462.8h0M210.1 445.7h0M210.1 485.3h0M210.1 468.2h0M210.1 454.7h0M210.1 449.3h0M210.1 511.4h0M210.2 446.6h0M210.3 486.9h0M210.3 458.1h0M210.3 471.6h0M210.3 442.8h0M210.3 462.6h0M210.4 453.6h0M210.4 451.8h0M210.4 492.3h0M210.4 452.7h0M210.4 455.4h0M210.4 446.4h0M210.4 484.2h0M210.5 459h0M210.5 456.3h0M210.5 481.5h0M210.5 463.5h0M210.5 441.9h0M210.6 491.4h0M210.6 464.4h0M210.6 457.2h0M210.6 468h0M210.6 447.3h0M210.6 476.1h0M210.6 487.8h0M210.6 445.5h0M210.6 465.3h0M210.7 454.5h0M210.7 440.1h0M210.7 486h0M210.8 439.9h0M210.8 465.1h0M210.8 466h0M210.9 495.7h0M210.9 474.1h0M210.9 459.7h0M210.9 440.8h0M210.9 461.5h0M210.9 449.8h0M210.9 477.7h0M211 457.9h0M211 448h0M211 454.3h0M211 448.9h0M211 442.6h0M211 455.2h0M211 489.4h0M211 443.5h0M211 447.1h0M211.1 457h0M211.1 446.2h0M211.1 499.3h0M211.1 473.2h0M211.1 475.9h0M211.1 460.6h0M211.1 445.3h0M211.1 475h0M211.1 472.3h0M211.1 484.9h0M211.2 469.6h0M211.2 466.9h0M211.3 468.3h0M211.3 474.6h0M211.3 452.1h0M211.4 507.9h0M211.4 493.5h0M211.4 448.5h0M211.4 479.1h0M211.4 471h0M211.4 445.8h0M211.4 482.7h0M211.5 459.3h0M211.5 441.3h0M211.5 461.1h0M211.5 484.5h0M211.5 464.7h0M211.5 451.2h0M211.5 499.8h0M211.6 503.4h0M211.6 470.1h0M211.6 455.7h0M211.6 465.6h0M211.6 462h0M211.6 456.6h0M211.6 442.2h0M211.6 446.7h0M211.6 460.2h0M211.6 509.7h0M211.6 447.6h0M211.6 485.4h0M211.7 449.4h0M211.7 498h0M211.7 512.4h0M211.7 453h0M211.8 443.8h0M211.8 491.5h0M211.9 458.2h0M211.9 453.7h0M211.9 444.7h0M211.9 449.2h0M211.9 446.5h0M211.9 474.4h0M211.9 442h0M211.9 452.8h0M211.9 501.4h0M211.9 469h0M211.9 450.1h0M212 462.7h0M212 440.2h0M212 513.1h0M212 478.9h0M212 451.9h0M212.1 476.2h0M212.1 485.2h0M212.1 459.1h0M212.1 487.9h0M212.1 454.6h0M212.1 472.6h0M212.1 457.3h0M212.1 412.7h0M212.2 495.1h0M212.2 473.5h0M212.2 481.6h0M212.3 511.7h0M212.3 411h0M212.4 448.7h0M212.4 447.8h0M212.4 488.3h0M212.4 485.6h0M212.4 461.3h0M212.5 481.1h0M212.5 499.1h0M212.5 452.3h0M212.5 502.7h0M212.5 451.4h0M212.5 473h0M212.5 442.4h0M212.5 487.4h0M212.6 463.1h0M212.6 469.4h0M212.6 510.8h0M212.6 459.5h0M212.6 473.9h0M212.7 493.7h0M212.7 462.2h0M212.7 475.7h0M212.7 445.1h0M212.7 486.5h0M212.8 444.5h0M212.8 456.2h0M212.8 458h0M212.8 442.7h0M212.8 480.5h0M212.8 450.8h0M212.8 489.5h0M212.8 465.2h0M212.9 494.9h0M212.9 448.1h0M212.9 443.6h0M212.9 490.4h0M212.9 474.2h0M212.9 471.5h0M212.9 463.4h0M212.9 503h0M213 478.7h0M213 464.3h0M213 481.4h0M213 467.9h0M213 491.3h0M213 473.3h0M213 484.1h0M213 499.4h0M213.1 462.5h0M213.1 469.7h0M213.1 460.7h0M213.1 453.5h0M213.1 452.6h0M213.1 482.3h0M213.2 459.8h0M213.2 441.8h0M213.2 447.2h0M213.3 409.9h0M213.3 452.3h0M213.3 447.8h0M213.3 467.6h0M213.4 480.2h0M213.4 461.3h0M213.4 457.7h0M213.4 479.3h0M213.5 445.1h0M213.5 486.5h0M213.5 477.5h0M213.6 453.2h0M213.6 491.9h0M213.6 455.9h0M213.6 470.3h0M213.8 468.7h0M213.8 452.5h0M213.8 476.8h0M213.8 449.8h0M213.9 500.2h0M214 508.3h0M214 506.5h0M214.1 485.8h0M214.1 408.1h0M214.1 407.2h0M214.1 478.6h0M214.2 445.3h0M214.2 493.9h0M214.3 516h0M214.3 442.2h0M214.4 446.7h0M214.4 473.7h0M214.4 470.1h0M214.4 444h0M214.4 476.4h0M214.4 452.1h0M214.4 453.9h0M214.4 472.8h0M214.5 457.5h0M214.5 448.5h0M214.5 512.4h0M214.5 441.3h0M214.5 467.4h0M214.5 445.8h0M214.6 454.8h0M214.6 471.9h0M214.6 477.3h0M214.6 447.6h0M214.6 450.3h0M214.6 463.8h0M214.6 480h0M214.6 493.5h0M214.6 468.3h0M214.6 403.9h0M214.6 458.4h0M214.7 443.1h0M214.7 455.7h0M214.7 492.6h0M214.8 458.6h0M214.8 441.5h0M214.8 463.1h0M214.8 481.1h0M214.9 466.7h0M214.9 515.3h0M214.9 442.4h0M214.9 448.7h0M214.9 443.3h0M214.9 489.2h0M214.9 449.6h0M214.9 487.4h0M214.9 495.5h0M214.9 452.3h0M214.9 483.8h0M214.9 473h0M215 493.7h0M215 446h0M215 453.2h0M215 475.7h0M215 479.3h0M215 474.8h0M215.1 476.6h0M215.1 451.4h0M215.1 467.6h0M215.1 455.9h0M215.1 459.5h0M215.1 457.7h0M215.1 469.4h0M215.2 482.9h0M215.2 444.2h0M215.2 447.8h0M215.2 491h0M215.3 457.3h0M215.3 478h0M215.3 446.5h0M215.4 480.7h0M215.4 452.8h0M215.4 442.9h0M215.4 445.6h0M215.4 461.8h0M215.4 444.7h0M215.4 401h0M215.4 467.2h0M215.4 482.5h0M215.4 449.2h0M215.4 505h0M215.5 460h0M215.5 464.5h0M215.5 488.8h0M215.5 443.8h0M215.5 472.6h0M215.5 513.1h0M215.6 451.9h0M215.6 479.8h0M215.6 442h0M215.6 485.2h0M215.6 468.1h0M215.6 491.5h0M215.6 501.4h0M215.7 455.5h0M215.7 448.3h0M215.7 469.9h0M215.8 467.1h0M215.9 488.7h0M215.9 442.8h0M215.9 458.1h0M215.9 455.4h0M216 443.7h0M216 477h0M216 480.6h0M216 491.4h0M216 460.8h0M216 470.7h0M216 405.6h0M216.1 468h0M216.1 504.9h0M216.1 486.9h0M216.1 459.9h0M216.1 451.8h0M216.1 468.9h0M216.1 471.6h0M216.1 472.5h0M216.1 487.8h0M216.1 453.6h0M216.2 447.3h0M216.2 449.1h0M216.2 461.7h0M216.2 483.3h0M216.3 467.3h0M216.3 469.1h0M216.3 465.5h0M216.3 470.9h0M216.3 479.9h0M216.4 441.2h0M216.4 451.1h0M216.4 470h0M216.4 471.8h0M216.4 460.1h0M216.4 497.9h0M216.4 448.4h0M216.5 397.7h0M216.5 468.2h0M216.5 466.4h0M216.5 443.9h0M216.5 473.6h0M216.5 463.7h0M216.5 475.4h0M216.6 450.2h0M216.6 452.9h0M216.6 442.1h0M216.6 462.8h0M216.6 495.2h0M216.6 488.9h0M216.6 446.6h0M216.7 496.1h0M216.7 487.1h0M216.7 447.5h0M216.8 494.1h0M216.8 453.6h0M216.8 462.6h0M216.8 479.7h0M216.8 464.4h0M216.9 448.2h0M216.9 486h0M216.9 471.6h0M216.9 483.3h0M216.9 444.6h0M216.9 473.4h0M216.9 500.4h0M216.9 485.1h0M216.9 459.9h0M217 488.7h0M217 446.4h0M217 458.1h0M217 450h0M217 469.8h0M217 459h0M217.1 499.5h0M217.1 491.4h0M217.1 477h0M217.1 457.2h0M217.1 484.2h0M217.1 443.7h0M217.1 496.8h0M217.1 447.3h0M217.1 400.5h0M217.1 455.4h0M217.2 468h0M217.3 487.8h0M217.3 482.4h0M217.3 457.2h0M217.3 446.4h0M217.4 468h0M217.4 452.7h0M217.4 472.5h0M217.4 442.8h0M217.4 441.9h0M217.4 477h0M217.4 458.1h0M217.4 456.3h0M217.4 450.9h0M217.4 484.2h0M217.5 507.6h0M217.5 464.4h0M217.5 454.5h0M217.5 479.7h0M217.5 455.4h0M217.5 495h0M217.6 478.8h0M217.6 447.3h0M217.6 481.5h0M217.6 490.5h0M217.6 485.1h0M217.6 459.9h0M217.6 445.5h0M217.6 460.8h0M217.6 495.9h0M217.6 494.1h0M217.6 473.4h0M217.6 462.6h0M217.7 486h0M217.7 463.5h0M217.7 471.6h0M217.8 476.9h0M217.8 449.9h0M217.8 460.7h0M217.8 475.1h0M217.8 455.3h0M217.9 485h0M217.9 446.3h0M217.9 445.4h0M217.9 491.3h0M217.9 469.7h0M217.9 498.5h0M218 450.8h0M218 442.7h0M218 449h0M218 497.6h0M218 461.6h0M218 479.6h0M218 503h0M218 467.9h0M218 489.5h0M218.1 451.7h0M218.1 454.4h0M218.1 480.5h0M218.1 501.2h0M218.1 486.8h0M218.1 459.8h0M218.2 494h0M218.3 467.2h0M218.3 445.6h0M218.3 456.4h0M218.4 458.2h0M218.4 476.2h0M218.4 487h0M218.4 460h0M218.4 396h0M218.4 484.3h0M218.4 486.1h0M218.4 469h0M218.4 497.8h0M218.4 442h0M218.4 471.7h0M218.5 452.8h0M218.5 466.3h0M218.5 444.7h0M218.5 487.9h0M218.5 448.3h0M218.5 464.5h0M218.5 480.7h0M218.5 498.7h0M218.5 465.4h0M218.5 469.9h0M218.6 446.5h0M218.6 449.2h0M218.6 473.5h0M218.6 495.1h0M218.6 488.8h0M218.6 489.7h0M218.6 472.6h0M218.6 479.8h0M218.6 460.9h0M218.7 443.8h0M218.7 459.1h0M218.7 442.9h0M218.8 492.7h0M218.8 484.6h0M218.8 475.6h0M218.8 466.6h0M218.8 455.8h0M218.8 457.6h0M218.9 445.9h0M218.9 499.9h0M218.9 495.4h0M218.9 472h0M218.9 454.9h0M218.9 446.8h0M218.9 458.5h0M219 444.1h0M219 442.3h0M219 488.2h0M219 452.2h0M219 445h0M219 459.4h0M219.1 465.7h0M219.1 447.7h0M219.1 469.3h0M219.1 463h0M219.2 450.4h0M219.2 472.9h0M219.3 515h0M219.3 488h0M219.3 465.5h0M219.3 389.2h0M219.3 450.2h0M219.4 442.1h0M219.4 505.1h0M219.4 446.6h0M219.4 473.6h0M219.4 500.6h0M219.4 443h0M219.4 452h0M219.5 462.8h0M219.5 479h0M219.5 445.7h0M219.5 452.9h0M219.5 451.1h0M219.5 496.1h0M219.5 447.5h0M219.5 486.2h0M219.5 469.1h0M219.5 393.9h0M219.6 474.5h0M219.6 482.6h0M219.6 487.1h0M219.6 460.1h0M219.6 512.3h0M219.6 443.9h0M219.6 463.7h0M219.6 391.8h0M219.6 449.3h0M219.7 453.8h0M219.7 461h0M219.7 494.3h0M219.7 456.5h0M220.2 390.9h0" fill="none" stroke="#2f54a9" stroke-width="1.10" stroke-linecap="square"/>
<path d="M142.6 430h0M145.7 426h0M145.7 427.1h0M145.7 433.5h0M145.7 435.3h0M145.7 439.6h0M145.7 439.7h0M148.8 426.4h0M148.8 433.7h0M148.8 436.1h0M151.9 423.3h0M151.9 423.4h0M151.9 431.1h0M151.9 432h0M151.9 439.4h0M155 422.6h0M155 422.7h0M155 426.5h0M155 430.1h0M155 433.2h0M155 436.9h0M155 438.7h0M155 439.2h0M155 439.3h0M158.1 425.8h0M158.1 427h0M158.1 433.1h0M158.1 440h0M158.1 441.3h0M158.1 444.8h0M182.5 432.4h0M182.6 429.9h0M182.7 428.3h0M182.8 428.2h0M182.8 419.2h0M182.8 420.8h0M184.6 421.3h0M184.7 432.5h0M184.9 429.7h0M186.7 430.4h0M186.8 430.5h0M186.9 431h0M187.1 425.5h0M188.8 424.8h0M188.8 432.7h0M188.8 432.4h0M189.1 425.6h0M191.1 429.2h0M191.2 432h0M193.1 425.7h0M193.2 420.2h0M193.3 427h0M195.1 425.3h0M197.4 431h0M197.4 420.2h0M197.6 421.9h0M199.5 430.3h0M199.5 426.5h0M199.6 426.5h0M201.4 424.4h0M201.7 424.8h0M201.8 430.4h0M203.8 431h0M203.8 427.6h0M203.8 426.9h0M203.9 428h0M203.9 426.2h0M205.8 429.2h0M205.8 421.2h0M205.9 424.9h0M207.9 426.7h0M207.9 426.8h0M209.8 423.6h0M209.8 430h0M209.9 423.2h0M210 432h0M210 423.5h0M210.1 432.8h0M210.2 428.1h0M211.9 430.7h0M212 421.7h0M212.2 424h0M212.3 430h0M214 425.4h0M216.1 425.8h0M216.2 426.7h0M216.3 428h0M218.4 420.6h0M218.5 423h0M218.6 426.7h0" fill="none" stroke="#fff" stroke-width="0.84" stroke-linecap="square"/>
<rect x="40.00" y="386.60" width="187.20" height="130.80" fill="none" stroke="#585858" stroke-width="1.05"/>
<text x="40.00" y="528.20" text-anchor="middle" class="t">0</text>
<text x="84.42" y="528.20" text-anchor="middle" class="t">0.5</text>
<text x="128.85" y="528.20" text-anchor="middle" class="t">1</text>
<text x="173.27" y="528.20" text-anchor="middle" class="t">1.5</text>
<text x="217.70" y="528.20" text-anchor="middle" class="t">2</text>
<text x="36.80" y="388.70" text-anchor="end" class="t">0.5</text>
<text x="36.80" y="432.30" text-anchor="end" class="t">0</text>
<text x="36.80" y="475.90" text-anchor="end" class="t">-0.5</text>
<text x="36.80" y="519.50" text-anchor="end" class="t">-1</text>
<path d="M40.00 517.40v-2.0M40.00 386.60v2.0M84.42 517.40v-2.0M84.42 386.60v2.0M128.85 517.40v-2.0M128.85 386.60v2.0M173.27 517.40v-2.0M173.27 386.60v2.0M217.70 517.40v-2.0M217.70 386.60v2.0M40.00 386.60h2.0M227.20 386.60h-2.0M40.00 430.20h2.0M227.20 430.20h-2.0M40.00 473.80h2.0M227.20 473.80h-2.0M40.00 517.40h2.0M227.20 517.40h-2.0" stroke="#585858" stroke-width="0.9" fill="none"/>
<text x="133.60" y="380.30" text-anchor="middle" class="ti">(<tspan class="b">e</tspan>)</text>
<text x="133.60" y="541.90" text-anchor="middle" class="xl"><tspan class="i">γ</tspan></text>
<text transform="translate(17.30 452.00) rotate(-90)" text-anchor="middle" class="xl"><tspan class="sp"><tspan class="i">x</tspan>(<tspan class="i">n</tspan>)</tspan></text>
<path d="M286.5 430.20H376.8" stroke="#2f54a9" stroke-width="1.5"/>
<path d="M376.0 429.6 L376.5 429.2 L377.0 428.7 L377.5 428.3 L378.0 428.0 L378.5 427.7 L379.0 427.3 L379.5 427.0 L380.0 426.8 L380.5 426.5 L381.0 426.3 L381.5 426.1 L382.0 425.8 L382.5 425.6 L383.0 425.4 L383.5 425.3 L384.0 425.1 L384.5 425.0 L385.0 424.9 L385.6 424.8 L386.1 424.7 L386.6 424.5 L387.1 424.4 L387.6 424.3 L388.1 424.2 L388.6 424.1 L389.1 424.1 L389.6 424.0 L390.1 423.9 L390.6 423.8 L391.1 423.7 L391.6 423.6 L392.1 423.5 L392.6 423.5 L393.1 423.4 L393.6 423.3 L394.1 423.2 L394.6 423.1 L395.1 423.0 L395.6 422.9 L396.1 422.9 L396.6 422.8 L397.1 422.7 L397.6 422.6 L398.1 422.6 L398.6 422.6 L399.1 422.5 L399.6 422.5 L400.1 422.4 L400.6 422.4 L401.1 422.3 L401.6 422.3 L402.1 422.3 L402.6 422.2 L403.1 422.2 L403.6 422.1 L404.1 422.1 L404.6 422.0 L405.2 422.0 L405.7 421.9 L406.2 421.9 L406.7 421.9 L407.2 421.8 L407.7 421.8 L408.2 421.7 L408.7 421.7 L409.2 421.6 L409.7 421.6 L410.2 421.6 L410.7 421.5 L411.2 421.5 L411.7 421.4 L412.2 421.4 L412.7 421.3 L413.2 421.3 L413.7 421.2 L414.2 421.2 L414.2 446.6 L413.7 446.5 L413.2 446.4 L412.7 446.2 L412.2 446.1 L411.7 446.0 L411.2 445.9 L410.7 445.7 L410.2 445.6 L409.7 445.5 L409.2 445.4 L408.7 445.2 L408.2 445.1 L407.7 444.9 L407.2 444.8 L406.7 444.6 L406.2 444.5 L405.7 444.3 L405.2 444.2 L404.6 444.0 L404.1 443.9 L403.6 443.7 L403.1 443.5 L402.6 443.4 L402.1 443.2 L401.6 443.1 L401.1 442.9 L400.6 442.8 L400.1 442.6 L399.6 442.5 L399.1 442.3 L398.6 442.2 L398.1 442.0 L397.6 441.9 L397.1 441.7 L396.6 441.6 L396.1 441.4 L395.6 441.2 L395.1 441.0 L394.6 440.8 L394.1 440.6 L393.6 440.4 L393.1 440.2 L392.6 440.1 L392.1 439.9 L391.6 439.7 L391.1 439.5 L390.6 439.3 L390.1 439.1 L389.6 438.9 L389.1 438.7 L388.6 438.5 L388.1 438.4 L387.6 438.2 L387.1 438.0 L386.6 437.7 L386.1 437.5 L385.6 437.2 L385.0 437.0 L384.5 436.8 L384.0 436.5 L383.5 436.3 L383.0 436.0 L382.5 435.7 L382.0 435.4 L381.5 435.0 L381.0 434.7 L380.5 434.3 L380.0 434.0 L379.5 433.7 L379.0 433.2 L378.5 432.8 L378.0 432.4 L377.5 432.0 L377.0 431.6 L376.5 431.2 L376.0 430.8 ZM416.9 420.9 L417.4 420.8 L417.9 420.8 L418.4 420.7 L419.0 420.7 L419.5 420.6 L420.0 420.6 L420.5 420.5 L421.0 420.4 L421.5 420.4 L422.1 420.3 L422.6 420.3 L423.1 420.2 L423.6 420.2 L424.1 420.1 L424.6 420.0 L425.1 420.0 L425.7 419.9 L426.2 419.9 L426.7 419.8 L427.2 419.7 L427.7 419.7 L428.2 419.6 L428.8 419.6 L429.3 419.5 L429.8 419.5 L430.3 419.4 L430.3 451.0 L429.8 451.6 L429.3 451.9 L428.8 451.8 L428.2 451.6 L427.7 451.4 L427.2 451.2 L426.7 451.0 L426.2 450.8 L425.7 450.6 L425.1 450.4 L424.6 450.2 L424.1 450.0 L423.6 449.8 L423.1 449.6 L422.6 449.4 L422.1 449.2 L421.5 449.0 L421.0 448.8 L420.5 448.6 L420.0 448.5 L419.5 448.3 L419.0 448.1 L418.4 448.0 L417.9 447.8 L417.4 447.6 L416.9 447.5 ZM433.9 419.0 L434.4 418.9 L434.9 418.9 L435.4 418.8 L435.9 418.7 L436.4 418.7 L436.9 418.6 L437.4 418.5 L438.0 418.5 L438.5 418.4 L439.0 418.4 L439.5 418.3 L440.0 418.2 L440.5 418.2 L441.0 418.1 L441.0 442.1 L440.5 443.5 L440.0 444.1 L439.5 444.3 L439.0 444.5 L438.5 444.7 L438.0 444.9 L437.4 445.1 L436.9 445.2 L436.4 445.4 L435.9 445.6 L435.4 445.8 L434.9 446.0 L434.4 446.5 L433.9 447.1 ZM444.1 417.7 L444.6 417.6 L445.1 417.6 L445.6 417.5 L446.1 417.4 L446.7 417.4 L447.2 417.3 L447.7 417.3 L448.2 417.2 L448.7 417.1 L449.2 417.1 L449.7 417.0 L450.2 416.9 L450.7 416.9 L451.3 416.8 L451.8 416.7 L452.3 416.7 L452.8 416.6 L453.3 416.5 L453.8 416.5 L454.3 416.4 L454.8 416.3 L455.3 416.2 L455.9 416.1 L456.4 416.1 L456.9 416.0 L457.4 415.9 L457.9 415.8 L458.4 415.7 L458.9 415.7 L459.4 415.6 L459.9 415.5 L460.5 415.4 L461.0 415.3 L461.5 415.3 L462.0 415.2 L462.5 415.1 L462.5 430.0 L462.0 429.9 L461.5 429.9 L461.0 429.8 L460.5 429.8 L459.9 429.7 L459.4 429.7 L458.9 429.6 L458.4 429.5 L457.9 429.5 L457.4 429.4 L456.9 429.4 L456.4 429.3 L455.9 429.3 L455.3 429.2 L454.8 429.1 L454.3 429.1 L453.8 429.0 L453.3 429.1 L452.8 429.3 L452.3 429.4 L451.8 429.6 L451.3 429.8 L450.7 430.0 L450.2 430.1 L449.7 430.3 L449.2 430.5 L448.7 430.7 L448.2 430.8 L447.7 431.0 L447.2 431.2 L446.7 431.3 L446.1 431.5 L445.6 431.7 L445.1 431.9 L444.6 432.2 L444.1 433.6 Z" fill="#2f54a9"/>
<path d="M414.2 421.2 L416.9 420.9M414.2 446.6 L416.9 448.8M414.2 424.2 L416.9 431.9M414.2 431.9 L416.9 424.8M414.2 435.2 L416.9 444.1M414.2 444.6 L416.9 436.4M430.3 419.4 L433.9 419.0M430.3 459.3 L433.9 462.3M430.3 424.2 L433.9 436.1M430.3 436.1 L433.9 425.0M430.3 441.3 L433.9 455.3M430.3 456.1 L433.9 443.3M441.0 418.1 L444.1 417.7M441.0 469.5 L444.1 474.0M441.0 424.3 L444.1 439.7M441.0 439.7 L444.1 425.3M441.0 446.4 L444.1 464.4M441.0 465.4 L444.1 449.0" fill="none" stroke="#2f54a9" stroke-width="1.15"/>
<path d="M416.9 447.9h0M417 448.7h0M417.5 448.5h0M418.1 447.9h0M418.3 448.1h0M418.9 449.8h0M419.1 448.9h0M419.4 449.9h0M420 451h0M420.2 449.2h0M420.5 450.5h0M420.5 449.6h0M420.7 448.7h0M420.8 449.7h0M421 448.8h0M421.5 450.2h0M421.9 451h0M422.4 451.8h0M422.5 450.9h0M422.9 450.2h0M423.6 451.5h0M423.8 450.3h0M424.1 453h0M424.1 452.1h0M424.6 450.8h0M424.7 452.6h0M424.8 452.4h0M425.1 451.5h0M425.3 452.3h0M425.8 451.9h0M426 454.6h0M426 451h0M426.5 456.2h0M426.6 452.1h0M426.8 453h0M427 453.9h0M427.1 452.1h0M427.7 453.9h0M428.1 452.3h0M428.1 455.9h0M428.1 454.1h0M428.5 457.6h0M428.5 452.2h0M428.6 454h0M428.7 453.1h0M428.8 454.3h0M428.8 452.5h0M429 453.4h0M429.1 457.9h0M429.4 457.1h0M429.7 452.6h0M429.8 451.5h0M430.2 452.4h0M433.8 453.5h0M433.8 449h0M433.9 447.2h0M433.9 450.8h0M433.9 454.4h0M434 462.1h0M434.2 448.1h0M434.4 454.8h0M434.4 449.4h0M434.4 447.6h0M434.5 453.9h0M434.5 450.3h0M434.6 458.4h0M434.6 456.6h0M434.8 454.7h0M434.8 447.5h0M434.8 457.4h0M434.9 456.5h0M435 463.3h0M435 453.8h0M435 446.6h0M435.1 452.9h0M435.1 451.1h0M435.4 456h0M435.4 447h0M435.4 446.1h0M435.4 458.7h0M435.5 451.5h0M435.5 463.3h0M435.6 450.6h0M435.9 447.2h0M435.9 449.9h0M436 463.8h0M436 448.1h0M436.1 457.1h0M436.3 452.5h0M436.4 456.1h0M436.4 461.5h0M436.5 457.9h0M436.5 448h0M436.6 455.2h0M436.9 459.2h0M436.9 451.1h0M437 449.3h0M437 463.7h0M437 460.1h0M437 456.5h0M437.1 452.9h0M437.2 454.7h0M437.3 450.6h0M437.5 465.6h0M437.5 453.3h0M437.5 457.8h0M437.6 445.2h0M437.6 447h0M437.6 455.1h0M437.6 449.7h0M437.6 451.5h0M437.7 447.9h0M437.9 451.4h0M437.9 445.1h0M438 459.5h0M438 465.5h0M438.1 455.9h0M438.2 448.7h0M438.2 453.2h0M438.4 446.5h0M438.5 463.6h0M438.5 452.8h0M438.5 466h0M438.5 444.7h0M438.5 445.6h0M438.6 451h0M438.7 448.3h0M438.8 454.9h0M438.9 445h0M438.9 450.4h0M439.2 452.2h0M439.2 462.1h0M439.3 460.4h0M439.4 452.3h0M439.5 448.7h0M439.5 457.7h0M439.6 459.5h0M439.6 462.2h0M439.6 455.9h0M439.6 446h0M439.8 450.2h0M439.8 461h0M439.9 446.6h0M439.9 457.4h0M440 452h0M440 444.8h0M440.1 445.7h0M440.2 448.4h0M440.3 444.6h0M440.3 450.9h0M440.4 446.4h0M440.4 448.2h0M440.4 459h0M440.5 458.1h0M440.6 457.2h0M440.6 452.7h0M440.6 463.5h0M440.7 449.1h0M444.3 432.7h0M444.3 444.4h0M444.3 450.7h0M444.3 433.6h0M444.3 443.5h0M444.4 461.5h0M444.4 447.1h0M444.5 434.5h0M444.5 435.4h0M444.5 446.2h0M444.5 457.9h0M444.6 438.1h0M444.6 462.4h0M444.6 449.8h0M444.6 439h0M444.7 442.6h0M444.7 441.7h0M444.8 443.4h0M444.8 453.3h0M444.8 456.9h0M444.9 442.5h0M444.9 462.3h0M444.9 472.2h0M444.9 454.2h0M444.9 435.3h0M444.9 437.1h0M445 457.8h0M445 461.4h0M445 459.6h0M445 432.6h0M445.1 439.8h0M445.1 444.3h0M445.1 451.5h0M445.1 434.4h0M445.2 448.8h0M445.2 455.1h0M445.2 446.1h0M445.2 438h0M445.3 457.5h0M445.3 466.5h0M445.3 445.8h0M445.3 456.6h0M445.4 448.5h0M445.4 439.5h0M445.4 474.6h0M445.4 440.4h0M445.5 435.9h0M445.5 432.3h0M445.5 443.1h0M445.5 444h0M445.5 449.4h0M445.8 459.5h0M445.8 445.1h0M445.8 453.2h0M445.9 431.6h0M445.9 455.9h0M445.9 458.6h0M446 454.1h0M446 473.9h0M446 432.5h0M446 437h0M446 475.7h0M446 441.5h0M446 448.7h0M446 464.9h0M446 447.8h0M446.1 434.3h0M446.1 469.4h0M446.1 446.9h0M446.1 444.2h0M446.1 467.6h0M446.1 463.1h0M446.1 433.4h0M446.1 435.2h0M446.1 436.1h0M446.2 446h0M446.3 441.7h0M446.4 447.1h0M446.4 435.4h0M446.5 438.1h0M446.6 453.4h0M446.6 469.6h0M446.6 456.1h0M446.6 472.3h0M446.6 440.8h0M446.6 451.6h0M446.6 443.5h0M446.6 436.3h0M446.7 454.3h0M446.7 434.5h0M446.8 438.6h0M446.8 451.2h0M446.9 434.1h0M446.9 442.2h0M447 477.3h0M447.1 458.4h0M447.2 444h0M447.2 453h0M447.2 433.2h0M447.3 431.4h0M447.4 458.4h0M447.4 469.2h0M447.4 464.7h0M447.5 435.9h0M447.5 457.5h0M447.5 479.6h0M447.5 432.3h0M447.5 465.6h0M447.6 436.8h0M447.6 434.1h0M447.6 433.2h0M447.6 444.9h0M447.6 454.8h0M447.8 479.5h0M447.8 465.1h0M447.9 475.9h0M447.9 431.8h0M447.9 448.9h0M447.9 466h0M448 445.3h0M448 443.5h0M448 430.9h0M448 448h0M448 475h0M448 446.2h0M448.1 442.6h0M448.1 454.3h0M448.1 469.6h0M448.2 432.7h0M448.3 448.5h0M448.3 471.9h0M448.3 463.8h0M448.3 451.2h0M448.5 442.2h0M448.5 439.5h0M448.5 457.5h0M448.5 435.9h0M448.5 446.7h0M448.5 435h0M448.6 472.8h0M448.6 444h0M448.6 450.3h0M448.7 447.6h0M448.7 461.1h0M448.8 466.3h0M448.9 446.5h0M449 461.8h0M449.1 458.2h0M449.2 444.7h0M449.4 457.6h0M449.4 455.8h0M449.5 433.3h0M449.5 447.7h0M449.5 463h0M449.6 473.8h0M449.6 469.3h0M449.6 440.5h0M449.6 445.9h0M449.6 445h0M449.7 450.4h0M449.7 459.4h0M450 432.2h0M450 450.2h0M450 434h0M450.1 439.4h0M450.1 445.7h0M450.2 463.7h0M450.3 465.1h0M450.3 449.8h0M450.4 439.9h0M450.4 445.3h0M450.5 436.3h0M450.5 453.4h0M450.5 439h0M450.5 448h0M450.5 450.7h0M450.6 437.2h0M450.6 442.6h0M450.6 446.2h0M450.6 441.7h0M450.6 440.8h0M450.7 468.7h0M450.7 475.9h0M450.7 431.8h0M450.7 432.7h0M450.8 439h0M450.8 457.9h0M450.8 479.5h0M450.8 450.7h0M450.9 445.3h0M450.9 436.3h0M450.9 482.2h0M450.9 437.2h0M450.9 442.6h0M450.9 431.8h0M451 433.6h0M451 432.7h0M451 477.7h0M451 462.4h0M451.1 439.9h0M451.1 481.3h0M451.1 434.5h0M451.1 458.8h0M451.2 447.1h0M451.2 441.7h0M451.3 434.3h0M451.4 454.1h0M451.4 464.9h0M451.4 445.1h0M451.5 443.3h0M451.5 429.8h0M451.5 446.9h0M451.5 430.7h0M451.5 441.5h0M451.5 453.2h0M451.5 458.6h0M451.5 478.4h0M451.5 438.8h0M451.6 431.6h0M451.6 448.7h0M451.6 432.5h0M451.7 455h0M451.7 442.4h0M451.8 480.2h0M451.8 457.7h0M451.8 472.1h0M451.8 435.2h0M451.8 441.5h0M451.9 451.4h0M451.9 454.1h0M451.9 442.4h0M451.9 440.6h0M451.9 477.5h0M451.9 437.9h0M451.9 446h0M452 430.7h0M452 483.8h0M452 476.6h0M452 465.8h0M452 455.9h0M452.1 443.3h0M452.1 452.3h0M452.1 448.7h0M452.1 449.6h0M452.1 444.2h0M452.2 438.8h0M452.4 471h0M452.5 460.2h0M452.5 467.4h0M452.5 469.2h0M452.5 429.6h0M452.6 444h0M452.6 434.1h0M452.6 442.2h0M452.6 471.9h0M452.6 477.3h0M452.6 431.4h0M452.7 479.1h0M452.7 472.8h0M452.7 441.3h0M452.7 473.7h0M452.8 491.8h0M452.8 434.2h0M452.9 455.8h0M452.9 443.2h0M452.9 462.1h0M452.9 487.3h0M452.9 460.3h0M453 450.4h0M453 436.9h0M453.1 448.6h0M453.1 436h0M453.3 449.4h0M453.4 441.3h0M453.4 459.3h0M453.4 472.8h0M453.4 470.1h0M453.4 480.9h0M453.4 439.5h0M453.5 485.4h0M453.5 433.2h0M453.5 430.5h0M453.5 483.6h0M453.5 438.6h0M453.5 434.1h0M453.5 446.7h0M453.5 460.2h0M453.6 448.5h0M453.6 431.4h0M453.6 435.9h0M453.7 444.9h0M453.7 435h0M453.7 443.1h0M453.7 461.1h0M453.9 477.5h0M453.9 433.4h0M453.9 437.9h0M453.9 432.5h0M453.9 446h0M453.9 450.5h0M454 455.9h0M454 454.1h0M454 476.6h0M454 496.8h0M454 445.1h0M454 481.1h0M454 463.1h0M454 437h0M454.1 464h0M454.1 465.8h0M454.1 473h0M454.2 447.8h0M454.2 461.3h0M454.3 434.5h0M454.3 433.6h0M454.3 456.1h0M454.3 435.4h0M454.4 446.2h0M454.4 461.5h0M454.4 448h0M454.4 439.9h0M454.4 486.7h0M454.4 484.9h0M454.4 492.1h0M454.4 478.6h0M454.5 468.7h0M454.5 462.4h0M454.5 443.5h0M454.5 494.8h0M454.5 436.3h0M454.6 432.7h0M454.6 447.1h0M454.6 471.4h0M454.6 481.3h0M454.6 438.1h0M454.6 448.9h0M454.6 430h0M454.6 466h0M454.6 475.9h0M454.6 449.8h0M454.7 483.1h0M454.7 457.9h0M454.8 454.5h0M454.8 438.3h0M454.8 433.8h0M454.8 476.1h0M454.9 459.9h0M454.9 453.6h0M454.9 480.6h0M454.9 431.1h0M454.9 451.8h0M454.9 486.9h0M454.9 435.6h0M454.9 439.2h0M454.9 455.4h0M454.9 444.6h0M455 469.8h0M455 430.2h0M455 440.1h0M455 458.1h0M455 446.4h0M455 466.2h0M455 474.3h0M455.1 445.5h0M455.1 475.2h0M455.1 468.9h0M455.1 461.7h0M455.2 434.7h0M455.2 452.7h0M455.2 450.9h0M455.2 432h0M455.3 461.2h0M455.3 438.7h0M455.3 448.6h0M455.3 455.8h0M455.3 435.1h0M455.3 472.9h0M455.3 460.3h0M455.3 433.3h0M455.4 439.6h0M455.4 441.4h0M455.4 429.7h0M455.4 471.1h0M455.4 445.9h0M455.4 452.2h0M455.4 475.6h0M455.4 498.1h0M455.5 456.7h0M455.5 488.2h0M455.5 436h0M455.5 502.8h0M455.5 465.7h0M455.5 483.7h0M455.5 468.4h0M455.5 477.4h0M455.5 432.4h0M455.6 447.7h0M455.6 434.2h0M455.6 487.3h0M455.6 454h0M455.6 440.5h0M455.7 464.8h0M455.7 459.4h0M455.7 443.2h0M455.7 430.6h0M455.8 435.6h0M455.8 452.7h0M455.8 430.2h0M455.8 439.2h0M455.9 466.2h0M455.9 448.2h0M455.9 432.9h0M455.9 437.4h0M455.9 473.4h0M455.9 444.6h0M455.9 441.9h0M456 434.7h0M456 462.6h0M456 501.3h0M456 485.1h0M456 461.7h0M456 491.4h0M456 443.7h0M456 479.7h0M456.1 476.1h0M456.1 438.3h0M456.1 502.2h0M456.1 442.8h0M456.1 457.2h0M456.1 445.5h0M456.1 433.8h0M456.1 478.8h0M456.1 474.3h0M456.1 500.4h0M456.1 455.4h0M456.1 477.9h0M456.1 436.5h0M456.1 449.1h0M456.1 432h0M456.1 429.3h0M456.2 459.9h0M456.2 431.1h0M456.2 441h0M456.3 431.5h0M456.3 429.7h0M456.3 465.7h0M456.3 447.7h0M456.4 508h0M456.4 445h0M456.4 497.2h0M456.4 435.1h0M456.4 433.3h0M456.4 468.4h0M456.4 467.5h0M456.4 438.7h0M456.4 473.8h0M456.4 436h0M456.5 461.2h0M456.5 466.6h0M456.5 460.3h0M456.5 437.8h0M456.5 479.2h0M456.5 491.8h0M456.5 444.1h0M456.6 487.3h0M456.6 450.4h0M456.6 448.6h0M456.6 476.5h0M456.6 439.6h0M456.6 430.6h0M456.6 442.3h0M456.6 436.9h0M456.6 463.9h0M456.6 434.2h0M456.6 458.5h0M456.6 459.4h0M456.7 472.9h0M456.7 470.2h0M456.7 454.9h0M456.8 499.5h0M456.8 450h0M456.8 442.8h0M456.9 431.1h0M456.9 432.9h0M456.9 453.6h0M456.9 456.3h0M456.9 468.9h0M457 489.6h0M457 446.4h0M457 458.1h0M457 511.3h0M457 449.1h0M457 435.6h0M457 459.9h0M457.1 500.4h0M457.1 450.9h0M457.1 492.3h0M457.1 480.6h0M457.1 447.3h0M457.1 483.3h0M457.1 430.2h0M457.1 462.6h0M457.1 440.1h0M457.1 433.8h0M457.1 432h0M457.1 477.9h0M457.2 497.7h0M457.2 451.8h0M457.2 481.5h0M457.3 448.6h0M457.4 451.3h0M457.4 446.8h0M457.4 442.3h0M457.4 444.1h0M457.4 445h0M457.4 449.5h0M457.4 436.9h0M457.4 454.9h0M457.4 430.6h0M457.5 433.3h0M457.5 443.2h0M457.5 450.4h0M457.5 463.9h0M457.6 455.8h0M457.6 438.7h0M457.6 431.5h0M457.6 429.7h0M457.6 459.4h0M457.7 435.1h0M457.7 447.7h0M457.8 473.7h0M457.8 499.8h0M457.8 439.5h0M457.8 445.8h0M457.8 460.2h0M457.8 477.3h0M457.8 430.5h0M457.8 487.2h0M457.9 482.7h0M457.9 440.4h0M457.9 471h0M457.9 470.1h0M457.9 483.6h0M457.9 476.4h0M458 467.4h0M458 442.2h0M458 516.8h0M458 463.8h0M458 436.8h0M458 444h0M458 489.9h0M458 500.7h0M458 466.5h0M458 506.1h0M458.1 441.3h0M458.1 494.4h0M458.1 478.2h0M458.1 433.2h0M458.1 449.4h0M458.1 432.3h0M458.1 462h0M458.1 453h0M458.1 431.4h0M458.2 454.8h0M458.2 429.6h0M458.2 479.1h0M458.2 435.9h0M458.2 481.8h0M458.2 459.3h0M458.2 435h0M458.3 485.1h0M458.3 440.1h0M458.3 453.6h0M458.3 472.5h0M458.4 451.8h0M458.4 445.5h0M458.4 434.7h0M458.4 433.8h0M458.4 466.2h0M458.5 450.9h0M458.5 432.9h0M458.5 481.5h0M458.5 448.2h0M458.5 439.2h0M458.5 432h0M458.5 446.4h0M458.5 444.6h0M458.5 470.7h0M458.5 431.1h0M458.5 455.4h0M458.5 461.7h0M458.6 452.7h0M458.6 474.3h0M458.6 467.1h0M458.6 478.8h0M458.6 436.5h0M458.7 430.2h0M458.7 457.2h0M458.7 438.3h0M458.7 441.9h0M458.7 441h0M458.8 429.8h0M458.8 496.4h0M458.8 493.7h0M458.8 494.6h0M458.9 437h0M458.9 461.3h0M458.9 438.8h0M458.9 474.8h0M458.9 446.9h0M458.9 434.3h0M458.9 458.6h0M458.9 473.9h0M459 471.2h0M459 449.6h0M459 457.7h0M459 439.7h0M459 442.4h0M459 516.7h0M459 508.1h0M459 460.4h0M459 448.7h0M459 431.6h0M459 441.5h0M459.1 430.7h0M459.1 481.1h0M459.1 467.6h0M459.1 455.9h0M459.1 464h0M459.1 498.2h0M459.1 433.4h0M459.1 432.5h0M459.1 504.5h0M459.1 491.9h0M459.1 510.8h0M459.1 450.5h0M459.1 453.2h0M459.1 475.7h0M459.2 437.9h0M459.2 436.1h0M459.3 450.6h0M459.3 440.7h0M459.3 453.3h0M459.3 433.5h0M459.3 438.9h0M459.3 474.9h0M459.3 482.1h0M459.4 497.4h0M459.4 473.1h0M459.4 478.5h0M459.4 463.2h0M459.4 457.8h0M459.4 496.5h0M459.4 455.1h0M459.4 468.6h0M459.4 475.8h0M459.4 466.8h0M459.4 435.3h0M459.4 474h0M459.4 456.9h0M459.5 443.4h0M459.5 465h0M459.5 500.1h0M459.5 429.9h0M459.5 454.2h0M459.5 487.5h0M459.5 517.1h0M459.5 430.8h0M459.5 460.5h0M459.5 467.7h0M459.6 437.1h0M459.6 505.5h0M459.6 439.8h0M459.6 491.1h0M459.7 434.4h0M459.7 451.5h0M459.7 449.7h0M459.7 446.1h0M459.8 431.1h0M459.8 471.6h0M459.8 501.3h0M459.8 464.4h0M459.9 434.7h0M459.9 438.3h0M459.9 450h0M459.9 446.4h0M459.9 432.9h0M459.9 465.3h0M460 439.2h0M460 473.4h0M460 433.8h0M460 448.2h0M460 477.9h0M460 435.6h0M460 492.3h0M460 478.8h0M460 505.8h0M460 466.2h0M460 441h0M460 468h0M460 504h0M460.1 456.3h0M460.1 459h0M460.1 430.2h0M460.1 480.6h0M460.1 500.4h0M460.1 452.7h0M460.1 483.3h0M460.2 502.2h0M460.2 432h0M460.2 441.9h0M460.2 451.8h0M460.3 432.2h0M460.3 467.3h0M460.3 435.8h0M460.4 439.4h0M460.4 492.5h0M460.4 511.4h0M460.4 430.4h0M460.4 463.7h0M460.4 470h0M460.4 515.9h0M460.4 491.6h0M460.4 452h0M460.4 433.1h0M460.4 459.2h0M460.5 474.5h0M460.5 454.7h0M460.5 512.3h0M460.5 434.9h0M460.5 437.6h0M460.5 497.9h0M460.5 448.4h0M460.5 486.2h0M460.5 431.3h0M460.6 449.3h0M460.6 481.7h0M460.6 446.6h0M460.6 451.1h0M460.6 489.8h0M460.6 434h0M460.6 461.9h0M460.6 471.8h0M460.7 490.7h0M460.7 476.3h0M460.7 482.6h0M460.7 442.1h0M460.7 478.1h0M460.8 412.1h0M460.8 484.6h0M460.8 430.6h0M460.8 479.2h0M460.8 491.8h0M460.8 481.9h0M460.9 455.8h0M460.9 432.4h0M460.9 436h0M460.9 468.4h0M460.9 435.1h0M460.9 473.8h0M460.9 441.4h0M461 439.6h0M461 446.8h0M461 436.9h0M461 471.1h0M461 478.3h0M461 489.1h0M461 463h0M461 448.6h0M461 480.1h0M461 457.6h0M461 440.5h0M461 472h0M461 511.6h0M461 482.8h0M461 445.9h0M461 505.3h0M461 412.5h0M461 466.6h0M461.1 462.1h0M461.1 450.4h0M461.2 449.5h0M461.2 443.2h0M461.2 485.5h0M461.2 445h0M461.2 463.9h0M461.2 452.2h0M461.2 453.1h0M461.2 474.7h0M461.2 409.6h0M461.2 476.5h0M461.2 408.2h0M461.3 409.9h0M461.3 468.9h0M461.3 432.9h0M461.3 451.8h0M461.3 411.5h0M461.4 478.8h0M461.4 446.4h0M461.4 460.8h0M461.4 432h0M461.4 443.7h0M461.4 441h0M461.5 430.2h0M461.5 450.9h0M461.5 472.5h0M461.5 434.7h0M461.5 459.9h0M461.5 441.9h0M461.5 477.9h0M461.5 477h0M461.5 484.2h0M461.5 445.5h0M461.5 436.5h0M461.6 442.8h0M461.6 409.7h0M461.6 440.1h0M461.6 447.3h0M461.6 437.4h0M461.6 485.1h0M461.6 452.7h0M461.7 438.3h0M461.7 476.1h0M461.7 466.2h0M461.7 467.1h0M461.7 492.3h0M461.7 450h0M461.8 449.9h0M461.8 430.1h0M461.8 463.4h0M461.8 450.8h0M461.8 499.4h0M461.8 446.3h0M461.9 492.2h0M461.9 409.6h0M461.9 442.7h0M461.9 436.4h0M461.9 469.7h0M461.9 433.7h0M461.9 453.5h0M461.9 481.4h0M462 472.4h0M462 487.7h0M462 447.2h0M462 458.9h0M462 431.9h0M462 456.2h0M462 440.9h0M462 480.5h0M462 412.5h0M462 482.3h0M462 432.8h0M462.1 464.3h0M462.1 445.4h0M462.1 491.3h0M462.1 485h0M462.1 473.3h0M462.1 507.5h0M462.2 486.8h0M462.2 457.1h0M462.2 459.8h0M462.2 431h0M462.2 437.3h0M462.3 492.8h0M462.3 447.8h0M462.3 488.3h0M462.3 445.1h0M462.3 430.7h0M462.3 457.7h0M462.3 448.7h0M462.3 451.4h0M462.3 432.5h0M462.4 450.5h0M462.4 479.3h0M462.4 467.6h0M462.4 442.4h0M462.4 441.5h0M462.4 504.5h0M462.4 437.9h0M462.4 436.1h0M462.5 473h0M462.5 452.3h0M462.5 465.8h0M462.5 435.2h0M462.5 501.8h0M462.5 431.6h0M462.5 444.2h0M462.5 434.3h0M462.6 513.5h0M462.6 470.3h0M462.6 449.6h0M462.6 459.5h0M462.6 493.7h0M462.6 494.6h0M462.6 433.4h0M462.6 491h0M462.6 509.9h0M462.6 485.6h0M462.7 468.5h0M462.7 455h0M462.7 440.6h0M462.7 437h0M462.7 461.3h0" fill="none" stroke="#2f54a9" stroke-width="1.10" stroke-linecap="square"/>
<path d="M397.2 425.7h0M397.2 426.1h0M397.2 428.3h0M397.2 430.5h0M397.2 430.7h0M397.2 430.8h0M397.2 436.2h0M397.8 426.5h0M397.8 428.8h0M397.8 433h0M397.8 435.7h0M397.8 436.3h0M397.8 439.4h0M397.8 440h0M419.9 425.9h0M421.5 429.8h0M421.5 419.5h0M421.6 420.1h0M421.6 421.6h0M421.6 423.7h0M421.6 419.3h0M421.8 431.4h0M421.9 429.2h0M422.2 436.3h0M423.8 426.2h0M425.4 421.3h0M425.4 419.8h0M425.5 431h0M425.5 419.1h0M425.5 429h0M425.5 420.2h0M425.6 425.4h0M425.8 439.8h0M426 436.4h0M427.8 438.3h0M427.8 425.1h0M428 436.7h0M428.1 422.5h0M429.8 435.3h0M429.9 429h0M429.9 425h0M430.1 424.1h0M430.2 431.4h0M430.2 429.5h0M432.1 431.8h0M432.1 432.3h0M434 431.9h0M434 429.7h0M434.2 435.9h0M435.8 421.8h0M436 432.3h0M436 422.3h0M437.3 422.8h0M437.3 418.8h0M437.4 425.2h0M437.4 419.8h0M437.4 431h0M437.5 429.5h0M437.6 426.5h0M438 432.2h0M438.2 426.8h0M439.9 425.8h0M439.9 425.6h0M441.9 423.9h0M442 424h0M442.1 420.4h0M444 430.3h0M446.1 426.2h0M446.1 425h0M446.8 431.7h0M446.8 431.7h0M446.9 419.8h0M446.9 428.7h0M447 420.5h0M447 421.6h0M447 422.2h0M448 422.7h0M448 427.2h0M449.3 423.4h0M449.3 423.1h0M449.4 426.7h0M449.4 418.9h0M449.5 419.5h0M449.5 418.4h0M449.6 432h0M452 420.1h0M452.1 420.9h0M452.9 423.2h0M453 419.4h0M453 419.9h0M453 423.9h0M453.1 423.7h0M453.1 427.1h0M453.2 423.2h0M453.8 420.5h0M454.1 423.6h0M454.2 421.5h0M455.8 420.7h0M456 421.3h0M457.4 426.5h0M457.5 430.2h0M457.6 429.3h0M457.6 421.3h0M457.6 431.1h0M457.6 424.5h0M457.7 420.2h0M458.1 422.9h0M458.2 423.6h0M460.2 426.5h0" fill="none" stroke="#fff" stroke-width="0.84" stroke-linecap="square"/>
<rect x="286.50" y="386.60" width="187.80" height="130.80" fill="none" stroke="#585858" stroke-width="1.05"/>
<text x="286.50" y="528.20" text-anchor="middle" class="t">-1</text>
<text x="345.15" y="528.20" text-anchor="middle" class="t">-0.5</text>
<text x="403.80" y="528.20" text-anchor="middle" class="t">0</text>
<text x="462.45" y="528.20" text-anchor="middle" class="t">0.5</text>
<text x="283.30" y="388.70" text-anchor="end" class="t">0.5</text>
<text x="283.30" y="432.30" text-anchor="end" class="t">0</text>
<text x="283.30" y="475.90" text-anchor="end" class="t">-0.5</text>
<text x="283.30" y="519.50" text-anchor="end" class="t">-1</text>
<path d="M286.50 517.40v-2.0M286.50 386.60v2.0M345.15 517.40v-2.0M345.15 386.60v2.0M403.80 517.40v-2.0M403.80 386.60v2.0M462.45 517.40v-2.0M462.45 386.60v2.0M286.50 386.60h2.0M474.30 386.60h-2.0M286.50 430.20h2.0M474.30 430.20h-2.0M286.50 473.80h2.0M474.30 473.80h-2.0M286.50 517.40h2.0M474.30 517.40h-2.0" stroke="#585858" stroke-width="0.9" fill="none"/>
<text x="380.40" y="380.30" text-anchor="middle" class="ti">(<tspan class="b">f</tspan>)</text>
<text x="380.40" y="541.90" text-anchor="middle" class="xl"><tspan class="i">δ</tspan></text>
<text transform="translate(264.00 452.00) rotate(-90)" text-anchor="middle" class="xl"><tspan class="sp"><tspan class="i">x</tspan>(<tspan class="i">n</tspan>)</tspan></text>
</svg>
</body></html>
